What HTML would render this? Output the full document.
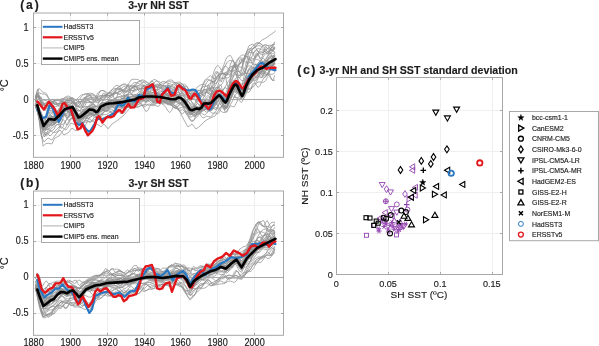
<!DOCTYPE html><html><head><meta charset="utf-8"><style>
html,body{margin:0;padding:0;background:#fff;width:599px;height:346px;overflow:hidden}
svg{display:block;filter:blur(0.3px)}
text{font-family:"Liberation Sans", sans-serif;fill:#1c1c1c;stroke:#1c1c1c;stroke-width:0.15px}
</style></head><body>
<svg width="599" height="346" viewBox="0 0 599 346">
<rect width="599" height="346" fill="#fff"/>
<line x1="70.5" y1="13.0" x2="70.5" y2="157.3" stroke="#efefef" stroke-width="1"/>
<line x1="107.5" y1="13.0" x2="107.5" y2="157.3" stroke="#efefef" stroke-width="1"/>
<line x1="144.5" y1="13.0" x2="144.5" y2="157.3" stroke="#efefef" stroke-width="1"/>
<line x1="180.5" y1="13.0" x2="180.5" y2="157.3" stroke="#efefef" stroke-width="1"/>
<line x1="217.5" y1="13.0" x2="217.5" y2="157.3" stroke="#efefef" stroke-width="1"/>
<line x1="254.5" y1="13.0" x2="254.5" y2="157.3" stroke="#efefef" stroke-width="1"/>
<line x1="33.5" y1="27.5" x2="283.5" y2="27.5" stroke="#efefef" stroke-width="1"/>
<line x1="33.5" y1="63.5" x2="283.5" y2="63.5" stroke="#efefef" stroke-width="1"/>
<line x1="33.5" y1="99.5" x2="283.5" y2="99.5" stroke="#efefef" stroke-width="1"/>
<line x1="33.5" y1="135.5" x2="283.5" y2="135.5" stroke="#efefef" stroke-width="1"/>
<polyline points="35.5,105.3 37.3,104.7 39.2,112.4 41.0,119.6 42.9,125.9 44.7,128.4 46.5,127.8 48.4,123.3 50.2,118.3 52.1,116.5 53.9,119.3 55.7,121.0 57.6,118.2 59.4,113.0 61.3,109.8 63.1,109.2 64.9,109.0 66.8,110.2 68.6,112.4 70.5,114.9 72.3,113.9 74.1,111.0 76.0,110.4 77.8,114.0 79.7,118.7 81.5,120.0 83.3,118.1 85.2,114.9 87.0,112.2 88.9,109.6 90.7,107.6 92.5,107.2 94.4,109.9 96.2,113.0 98.1,111.7 99.9,106.2 101.7,104.1 103.6,106.0 105.4,108.8 107.3,108.9 109.1,106.6 110.9,104.9 112.8,103.9 114.6,102.4 116.5,101.5 118.3,103.3 120.1,106.3 122.0,106.8 123.8,103.4 125.7,98.4 127.5,96.5 129.3,97.9 131.2,99.4 133.0,99.7 134.9,100.1 136.7,100.4 138.5,99.3 140.4,97.2 142.2,96.8 144.1,99.2 145.9,101.5 147.7,100.3 149.6,96.5 151.4,94.6 153.3,95.8 155.1,98.0 156.9,99.0 158.8,99.4 160.6,99.7 162.5,98.8 164.3,95.4 166.1,92.8 168.0,94.6 169.8,99.8 171.7,103.2 173.5,102.7 175.3,100.6 177.2,99.1 179.0,99.0 180.9,99.2 182.7,100.3 184.5,103.8 186.4,107.6 188.2,108.8 190.1,107.9 191.9,107.0 193.7,110.0 195.6,112.4 197.4,111.8 199.3,109.4 201.1,105.1 202.9,102.1 204.8,100.7 206.6,101.5 208.5,105.2 210.3,109.0 212.1,109.5 214.0,103.8 215.8,95.9 217.7,92.7 219.5,96.0 221.3,100.2 223.2,101.9 225.0,102.8 226.9,101.4 228.7,96.4 230.5,90.0 232.4,85.9 234.2,86.6 236.1,89.1 237.9,89.6 239.7,87.4 241.6,87.2 243.4,92.3 245.3,90.9 247.1,88.4 248.9,84.8 250.8,81.5 252.6,77.0 254.5,70.7 256.3,65.0 258.1,65.8 260.0,70.9 261.8,73.2 263.7,69.7 265.5,63.9 267.3,61.5 269.2,61.9 271.0,61.9 272.9,61.0 274.7,61.4" fill="none" stroke="#929292" stroke-width="0.75" stroke-linejoin="round" stroke-linecap="round" />
<polyline points="35.5,100.2 37.3,95.9 39.2,96.5 41.0,101.8 42.9,109.1 44.7,110.0 46.5,106.4 48.4,105.9 50.2,108.5 52.1,108.5 53.9,104.8 55.7,102.5 57.6,104.9 59.4,107.1 61.3,105.4 63.1,103.0 64.9,103.1 66.8,104.1 68.6,102.5 70.5,99.3 72.3,98.2 74.1,100.9 76.0,103.5 77.8,102.7 79.7,101.8 81.5,105.4 83.3,108.1 85.2,105.1 87.0,100.7 88.9,100.7 90.7,103.4 92.5,103.1 94.4,99.4 96.2,98.4 98.1,101.3 99.9,100.7 101.7,96.1 103.6,92.8 105.4,94.7 107.3,98.0 109.1,97.2 110.9,94.4 112.8,95.2 114.6,99.0 116.5,98.4 118.3,92.2 120.1,88.4 122.0,90.8 123.8,92.8 125.7,88.7 127.5,84.5 129.3,87.6 131.2,93.7 133.0,92.7 134.9,86.9 136.7,86.2 138.5,90.8 140.4,92.1 142.2,87.5 144.1,84.8 145.9,88.2 147.7,91.5 149.6,88.2 151.4,83.0 153.3,84.0 155.1,89.3 156.9,89.9 158.8,85.5 160.6,85.0 162.5,90.8 164.3,93.9 166.1,89.1 168.0,84.2 169.8,86.9 171.7,92.0 173.5,90.3 175.3,85.2 177.2,86.1 179.0,91.9 180.9,93.8 182.7,89.6 184.5,87.5 186.4,92.9 188.2,99.0 190.1,96.8 191.9,90.8 193.7,93.9 195.6,101.2 197.4,100.8 199.3,93.7 201.1,90.8 202.9,95.2 204.8,96.6 206.6,90.5 208.5,84.8 210.3,88.2 212.1,92.8 214.0,86.6 215.8,74.6 217.7,71.7 219.5,78.9 221.3,82.0 223.2,75.2 225.0,72.9 226.9,83.8 228.7,89.0 230.5,79.3 232.4,67.0 234.2,65.5 236.1,70.0 237.9,68.8 239.7,60.1 241.6,59.1 243.4,69.7 245.3,73.3 247.1,65.0 248.9,57.8 250.8,60.5 252.6,64.5 254.5,61.2 256.3,54.4 258.1,53.8 260.0,58.1 261.8,58.0 263.7,51.4 265.5,46.6 267.3,48.3 269.2,50.6 271.0,48.6 272.9,45.7 274.7,47.4" fill="none" stroke="#929292" stroke-width="0.75" stroke-linejoin="round" stroke-linecap="round" />
<polyline points="35.5,104.7 37.3,103.5 39.2,107.9 41.0,112.2 42.9,116.6 44.7,118.0 46.5,117.8 48.4,117.8 50.2,119.5 52.1,121.4 53.9,122.6 55.7,122.2 57.6,120.4 59.4,118.1 61.3,115.2 63.1,112.2 64.9,109.8 66.8,108.8 68.6,108.2 70.5,108.1 72.3,107.8 74.1,110.2 76.0,112.6 77.8,114.7 79.7,113.9 81.5,111.6 83.3,109.4 85.2,107.8 87.0,107.0 88.9,106.6 90.7,107.5 92.5,109.1 94.4,111.2 96.2,113.1 98.1,112.7 99.9,109.7 101.7,107.4 103.6,105.7 105.4,104.2 107.3,103.6 109.1,103.3 110.9,103.8 112.8,104.4 114.6,104.9 116.5,104.9 118.3,104.6 120.1,103.8 122.0,102.7 123.8,101.2 125.7,99.3 127.5,97.8 129.3,96.8 131.2,96.4 133.0,96.5 134.9,96.8 136.7,96.6 138.5,96.0 140.4,95.6 142.2,95.1 144.1,94.4 145.9,93.8 147.7,93.8 149.6,94.3 151.4,95.2 153.3,96.7 155.1,98.6 156.9,100.3 158.8,101.6 160.6,102.3 162.5,102.4 164.3,101.9 166.1,100.8 168.0,99.6 169.8,98.5 171.7,97.4 173.5,96.5 175.3,95.9 177.2,95.0 179.0,94.5 180.9,94.9 182.7,96.0 184.5,97.4 186.4,99.1 188.2,101.1 190.1,103.4 191.9,104.5 193.7,105.6 195.6,107.2 197.4,109.3 199.3,111.6 201.1,112.0 202.9,111.0 204.8,109.9 206.6,109.0 208.5,108.0 210.3,105.9 212.1,103.5 214.0,100.4 215.8,97.6 217.7,95.2 219.5,94.4 221.3,95.9 223.2,97.7 225.0,98.0 226.9,94.3 228.7,87.7 230.5,82.1 232.4,77.6 234.2,74.7 236.1,74.7 237.9,78.5 239.7,84.9 241.6,92.4 243.4,93.9 245.3,89.9 247.1,86.6 248.9,83.3 250.8,80.5 252.6,77.5 254.5,75.3 256.3,73.4 258.1,72.4 260.0,72.1 261.8,71.8 263.7,71.0 265.5,69.4 267.3,66.8 269.2,63.5 271.0,60.2 272.9,56.8 274.7,53.8" fill="none" stroke="#929292" stroke-width="0.75" stroke-linejoin="round" stroke-linecap="round" />
<polyline points="35.5,104.4 37.3,104.9 39.2,112.4 41.0,119.1 42.9,124.8 44.7,125.3 46.5,122.1 48.4,118.6 50.2,117.2 52.1,116.6 53.9,116.1 55.7,114.9 57.6,113.4 59.4,112.0 61.3,110.4 63.1,108.6 64.9,107.1 66.8,106.4 68.6,105.7 70.5,105.4 72.3,105.2 74.1,108.0 76.0,111.5 77.8,115.6 79.7,117.3 81.5,117.0 83.3,115.8 85.2,114.3 87.0,112.3 88.9,109.8 90.7,108.3 92.5,107.2 94.4,106.7 96.2,106.8 98.1,105.8 99.9,103.7 101.7,102.9 103.6,102.9 105.4,103.0 107.3,103.3 109.1,103.5 110.9,103.5 112.8,103.2 114.6,102.4 116.5,101.3 118.3,100.2 120.1,99.3 122.0,98.7 123.8,98.4 125.7,98.5 127.5,99.0 129.3,99.7 131.2,100.3 133.0,100.4 134.9,100.2 136.7,99.1 138.5,97.6 140.4,96.4 142.2,95.2 144.1,94.1 145.9,93.2 147.7,92.6 149.6,92.4 151.4,92.4 153.3,92.6 155.1,93.1 156.9,93.7 158.8,94.4 160.6,95.3 162.5,96.3 164.3,97.5 166.1,98.6 168.0,99.7 169.8,100.8 171.7,101.5 173.5,101.5 175.3,100.8 177.2,98.8 179.0,96.7 180.9,95.5 182.7,95.0 184.5,95.2 186.4,96.0 188.2,97.6 190.1,100.1 191.9,101.9 193.7,103.8 195.6,106.1 197.4,108.7 199.3,111.0 201.1,111.1 202.9,109.4 204.8,107.7 206.6,106.3 208.5,104.9 210.3,102.1 212.1,98.3 214.0,94.1 215.8,90.7 217.7,88.1 219.5,87.5 221.3,89.6 223.2,92.8 225.0,95.7 226.9,95.6 228.7,92.0 230.5,88.4 232.4,84.8 234.2,81.5 236.1,80.7 237.9,83.1 239.7,87.1 241.6,91.4 243.4,91.1 245.3,87.4 247.1,84.0 248.9,80.4 250.8,77.4 252.6,74.3 254.5,71.8 256.3,69.2 258.1,67.3 260.0,65.8 261.8,64.5 263.7,63.0 265.5,61.4 267.3,59.8 269.2,58.4 271.0,57.1 272.9,55.9 274.7,54.8" fill="none" stroke="#929292" stroke-width="0.75" stroke-linejoin="round" stroke-linecap="round" />
<polyline points="35.5,96.6 37.3,92.8 39.2,96.0 41.0,101.2 42.9,105.3 44.7,106.0 46.5,104.8 48.4,103.6 50.2,102.9 52.1,101.5 53.9,100.2 55.7,99.4 57.6,99.6 59.4,100.4 61.3,101.1 63.1,101.8 64.9,102.3 66.8,102.8 68.6,102.9 70.5,102.8 72.3,102.2 74.1,102.9 76.0,102.8 77.8,101.7 79.7,99.2 81.5,96.6 83.3,94.8 85.2,93.9 87.0,94.0 88.9,94.8 90.7,96.1 92.5,97.8 94.4,99.9 96.2,102.2 98.1,102.9 99.9,101.4 101.7,99.8 103.6,98.2 105.4,96.2 107.3,94.2 109.1,92.3 110.9,90.6 112.8,89.3 114.6,88.6 116.5,88.5 118.3,89.0 120.1,90.0 122.0,91.0 123.8,91.8 125.7,92.1 127.5,91.7 129.3,90.5 131.2,88.8 133.0,86.8 134.9,84.7 136.7,82.7 138.5,81.4 140.4,80.8 142.2,81.1 144.1,82.1 145.9,83.6 147.7,85.4 149.6,87.4 151.4,89.2 153.3,90.5 155.1,91.1 156.9,90.9 158.8,89.8 160.6,88.0 162.5,86.0 164.3,83.8 166.1,81.8 168.0,80.4 169.8,80.0 171.7,80.1 173.5,81.3 175.3,83.2 177.2,85.3 179.0,87.5 180.9,90.1 182.7,92.9 184.5,95.4 186.4,97.3 188.2,98.3 190.1,98.2 191.9,95.5 193.7,92.1 195.6,89.1 197.4,86.9 199.3,85.6 201.1,84.7 202.9,84.3 204.8,84.7 206.6,86.0 208.5,87.8 210.3,89.0 212.1,88.9 214.0,87.5 215.8,84.9 217.7,81.1 219.5,77.3 221.3,73.9 223.2,70.1 225.0,66.2 226.9,62.9 228.7,60.9 230.5,60.4 232.4,61.0 234.2,62.3 236.1,64.5 237.9,68.2 239.7,72.6 241.6,76.0 243.4,74.9 245.3,70.0 247.1,64.6 248.9,59.0 250.8,53.9 252.6,49.5 254.5,46.1 256.3,43.9 258.1,43.1 260.0,43.4 261.8,44.8 263.7,46.9 265.5,49.2 267.3,51.3 269.2,52.9 271.0,53.8 272.9,53.7 274.7,52.5" fill="none" stroke="#929292" stroke-width="0.75" stroke-linejoin="round" stroke-linecap="round" />
<polyline points="35.5,105.9 37.3,109.4 39.2,117.2 41.0,123.5 42.9,128.3 44.7,128.3 46.5,125.2 48.4,121.7 50.2,120.4 52.1,120.4 53.9,120.8 55.7,120.2 57.6,118.9 59.4,117.3 61.3,114.9 63.1,111.9 64.9,109.1 66.8,107.8 68.6,106.9 70.5,106.8 72.3,107.0 74.1,111.5 76.0,115.7 77.8,119.2 79.7,119.9 81.5,118.5 83.3,116.3 85.2,113.8 87.0,111.5 88.9,109.8 90.7,109.9 92.5,111.0 94.4,112.9 96.2,114.8 98.1,114.7 99.9,112.4 101.7,110.6 103.6,108.9 105.4,107.0 107.3,105.4 109.1,104.0 110.9,102.9 112.8,102.0 114.6,101.1 116.5,100.4 118.3,100.1 120.1,100.4 122.0,101.1 123.8,102.0 125.7,102.7 127.5,103.2 129.3,103.5 131.2,103.6 133.0,103.4 134.9,103.2 136.7,102.7 138.5,102.1 140.4,101.9 142.2,101.5 144.1,100.5 145.9,99.0 147.7,97.1 149.6,95.1 151.4,93.4 153.3,92.3 155.1,92.3 156.9,93.3 158.8,95.2 160.6,97.6 162.5,100.0 164.3,101.8 166.1,102.9 168.0,103.2 169.8,102.9 171.7,102.3 173.5,101.3 175.3,100.3 177.2,98.8 179.0,98.1 180.9,98.7 182.7,100.5 184.5,103.1 186.4,106.3 188.2,109.7 190.1,112.8 191.9,113.5 193.7,112.9 195.6,111.7 197.4,110.5 199.3,109.7 201.1,106.9 202.9,103.1 204.8,100.8 206.6,100.6 208.5,101.6 210.3,102.2 212.1,102.3 214.0,101.3 215.8,100.3 217.7,99.2 219.5,99.2 221.3,101.7 223.2,104.8 225.0,107.1 226.9,106.6 228.7,103.4 230.5,99.7 232.4,94.7 234.2,88.6 236.1,84.2 237.9,82.6 239.7,82.6 241.6,84.0 243.4,83.8 245.3,82.5 247.1,82.3 248.9,81.2 250.8,80.2 252.6,79.0 254.5,78.1 256.3,76.6 258.1,75.0 260.0,73.2 261.8,71.2 263.7,68.7 265.5,66.0 267.3,63.7 269.2,62.2 271.0,61.8 272.9,62.3 274.7,63.5" fill="none" stroke="#929292" stroke-width="0.75" stroke-linejoin="round" stroke-linecap="round" />
<polyline points="35.5,104.6 37.3,105.2 39.2,109.7 41.0,111.9 42.9,118.5 44.7,125.5 46.5,125.0 48.4,119.7 50.2,117.7 52.1,120.5 53.9,123.4 55.7,123.0 57.6,121.9 59.4,121.8 61.3,119.7 63.1,115.1 64.9,112.9 66.8,115.9 68.6,117.1 70.5,112.6 72.3,107.2 74.1,109.8 76.0,114.6 77.8,116.9 79.7,115.5 81.5,114.5 83.3,114.1 85.2,111.4 87.0,108.2 88.9,107.8 90.7,110.1 92.5,111.0 94.4,110.7 96.2,112.2 98.1,113.1 99.9,111.3 101.7,109.1 103.6,109.3 105.4,111.3 107.3,111.0 109.1,107.3 110.9,105.3 112.8,106.9 114.6,108.2 116.5,106.2 118.3,103.2 120.1,102.0 122.0,101.4 123.8,99.7 125.7,98.6 127.5,99.8 129.3,100.3 131.2,97.3 133.0,94.7 134.9,96.9 136.7,100.2 138.5,100.4 140.4,98.7 142.2,98.6 144.1,100.7 145.9,101.6 147.7,101.0 149.6,101.6 151.4,103.2 153.3,102.6 155.1,99.8 156.9,98.5 158.8,99.5 160.6,99.8 162.5,97.9 164.3,96.5 166.1,97.2 168.0,97.2 169.8,95.3 171.7,94.7 173.5,97.6 175.3,100.1 177.2,98.1 179.0,95.7 180.9,97.4 182.7,102.8 184.5,106.6 186.4,108.9 188.2,112.1 190.1,115.2 191.9,114.1 193.7,112.3 195.6,113.1 197.4,115.0 199.3,113.8 201.1,108.5 202.9,103.6 204.8,104.0 206.6,104.8 208.5,103.0 210.3,100.2 212.1,99.9 214.0,98.1 215.8,94.1 217.7,92.5 219.5,96.5 221.3,100.7 223.2,101.4 225.0,102.2 226.9,102.5 228.7,100.6 230.5,96.7 232.4,92.5 234.2,91.8 236.1,92.8 237.9,91.8 239.7,92.3 241.6,96.1 243.4,96.0 245.3,91.4 247.1,85.0 248.9,79.1 250.8,77.1 252.6,74.4 254.5,71.5 256.3,70.9 258.1,71.6 260.0,69.3 261.8,64.5 263.7,63.7 265.5,67.6 267.3,69.5 269.2,65.5 271.0,61.5 272.9,62.2 274.7,64.4" fill="none" stroke="#929292" stroke-width="0.75" stroke-linejoin="round" stroke-linecap="round" />
<polyline points="35.5,100.1 37.3,96.6 39.2,99.0 41.0,104.1 42.9,108.7 44.7,108.0 46.5,105.4 48.4,105.2 50.2,106.1 52.1,104.6 53.9,102.0 55.7,100.7 57.6,100.7 59.4,100.0 61.3,98.5 63.1,98.3 64.9,99.3 66.8,99.9 68.6,99.8 70.5,100.2 72.3,101.5 74.1,104.3 76.0,106.0 77.8,106.9 79.7,106.8 81.5,105.4 83.3,101.9 85.2,98.2 87.0,96.2 88.9,95.6 90.7,94.7 92.5,93.7 94.4,94.5 96.2,97.3 98.1,99.2 99.9,98.8 101.7,99.0 103.6,100.1 105.4,100.1 107.3,98.8 109.1,97.1 110.9,96.0 112.8,94.6 114.6,91.7 116.5,88.6 118.3,87.1 120.1,86.5 122.0,85.2 123.8,83.8 125.7,84.1 127.5,85.7 129.3,86.5 131.2,86.6 133.0,87.6 134.9,89.4 136.7,89.9 138.5,88.9 140.4,88.4 142.2,89.1 144.1,89.4 145.9,88.4 147.7,87.5 149.6,87.6 151.4,87.8 153.3,86.6 155.1,84.9 156.9,84.2 158.8,84.1 160.6,83.0 162.5,81.5 164.3,81.3 166.1,82.5 168.0,83.4 169.8,83.6 171.7,84.7 173.5,87.2 175.3,89.3 177.2,89.4 179.0,89.6 180.9,91.4 182.7,93.5 184.5,94.3 186.4,94.5 188.2,95.7 190.1,97.2 191.9,95.2 193.7,92.1 195.6,90.8 197.4,91.0 199.3,90.6 201.1,88.2 202.9,86.6 204.8,86.7 206.6,86.4 208.5,84.7 210.3,83.1 212.1,82.5 214.0,81.4 215.8,78.4 217.7,75.4 219.5,75.9 221.3,78.2 223.2,78.7 225.0,77.7 226.9,78.1 228.7,77.7 230.5,74.6 232.4,69.7 234.2,66.9 236.1,66.6 237.9,66.1 239.7,63.3 241.6,61.3 243.4,61.0 245.3,59.0 247.1,55.0 248.9,52.3 250.8,52.7 252.6,53.2 254.5,51.8 256.3,50.4 258.1,51.4 260.0,53.1 261.8,52.9 263.7,51.7 265.5,51.9 267.3,52.8 269.2,52.2 271.0,50.2 272.9,48.9 274.7,48.5" fill="none" stroke="#929292" stroke-width="0.75" stroke-linejoin="round" stroke-linecap="round" />
<polyline points="35.5,105.9 37.3,108.2 39.2,114.0 41.0,118.6 42.9,122.8 44.7,123.0 46.5,121.1 48.4,119.7 50.2,120.2 52.1,121.3 53.9,122.1 55.7,121.6 57.6,120.2 59.4,118.9 61.3,117.3 63.1,115.8 64.9,114.5 66.8,113.7 68.6,112.7 70.5,111.9 72.3,111.2 74.1,113.4 76.0,116.2 77.8,119.2 79.7,120.1 81.5,119.4 83.3,118.0 85.2,116.4 87.0,114.4 88.9,112.3 90.7,111.5 92.5,111.5 94.4,112.4 96.2,113.8 98.1,113.4 99.9,110.8 101.7,109.0 103.6,107.4 105.4,105.7 107.3,104.5 109.1,103.6 110.9,103.2 112.8,103.2 114.6,103.3 116.5,103.5 118.3,103.8 120.1,104.5 122.0,105.3 123.8,106.1 125.7,106.8 127.5,107.4 129.3,107.5 131.2,107.1 133.0,106.0 134.9,104.2 136.7,101.5 138.5,98.5 140.4,96.2 142.2,94.7 144.1,93.9 145.9,93.8 147.7,94.4 149.6,95.4 151.4,96.5 153.3,97.9 155.1,99.4 156.9,100.7 158.8,101.7 160.6,102.4 162.5,102.8 164.3,102.6 166.1,102.1 168.0,101.4 169.8,101.0 171.7,100.8 173.5,101.0 175.3,101.5 177.2,101.7 179.0,102.4 180.9,103.8 182.7,105.4 184.5,107.0 186.4,108.5 188.2,110.1 190.1,111.7 191.9,111.3 193.7,110.1 195.6,108.8 197.4,108.0 199.3,108.3 201.1,107.2 202.9,105.3 204.8,104.8 206.6,106.1 208.5,107.9 210.3,108.6 212.1,108.5 214.0,107.2 215.8,105.1 217.7,102.2 219.5,99.9 221.3,100.2 223.2,101.9 225.0,103.6 226.9,102.5 228.7,98.7 230.5,95.7 232.4,93.1 234.2,90.9 236.1,90.8 237.9,93.1 239.7,95.9 241.6,98.1 243.4,96.1 245.3,90.8 247.1,85.6 248.9,80.2 250.8,74.6 252.6,70.4 254.5,68.3 256.3,67.4 258.1,67.8 260.0,69.2 261.8,70.6 263.7,71.7 265.5,72.5 267.3,73.2 269.2,73.9 271.0,74.3 272.9,74.1 274.7,72.9" fill="none" stroke="#929292" stroke-width="0.75" stroke-linejoin="round" stroke-linecap="round" />
<polyline points="35.5,104.0 37.3,104.3 39.2,114.8 41.0,124.6 42.9,130.0 44.7,128.9 46.5,125.9 48.4,124.9 50.2,125.6 52.1,125.4 53.9,123.8 55.7,122.3 57.6,122.5 59.4,123.8 61.3,122.9 63.1,118.1 64.9,112.0 66.8,109.9 68.6,112.1 70.5,115.3 72.3,115.4 74.1,114.4 76.0,114.7 77.8,118.2 79.7,121.1 81.5,121.9 83.3,119.9 85.2,115.8 87.0,112.2 88.9,111.2 90.7,113.0 92.5,114.5 94.4,114.5 96.2,114.3 98.1,113.5 99.9,112.1 101.7,111.5 103.6,109.6 105.4,106.9 107.3,106.5 109.1,109.1 110.9,112.4 112.8,112.8 114.6,109.4 116.5,104.7 118.3,102.2 120.1,103.1 122.0,105.3 123.8,106.0 125.7,104.4 127.5,102.3 129.3,101.4 131.2,101.8 133.0,102.3 134.9,101.7 136.7,100.5 138.5,100.6 140.4,103.2 142.2,105.8 144.1,105.6 145.9,102.5 147.7,99.4 149.6,99.0 151.4,101.1 153.3,102.9 155.1,102.0 156.9,99.2 158.8,97.2 160.6,97.9 162.5,100.6 164.3,102.2 166.1,101.6 168.0,100.0 169.8,99.9 171.7,102.2 173.5,105.0 175.3,106.0 177.2,104.4 179.0,102.6 180.9,103.4 182.7,106.1 184.5,107.8 186.4,107.6 188.2,107.8 190.1,110.6 191.9,114.0 193.7,116.6 195.6,116.3 197.4,112.9 199.3,109.9 201.1,108.1 202.9,108.6 204.8,111.2 206.6,112.2 208.5,110.5 210.3,107.5 212.1,105.7 214.0,104.3 215.8,102.1 217.7,98.0 219.5,95.6 221.3,99.1 223.2,105.0 225.0,108.4 226.9,106.3 228.7,99.4 230.5,93.7 232.4,92.4 234.2,95.1 236.1,97.9 237.9,97.6 239.7,96.5 241.6,97.3 243.4,95.9 245.3,92.5 247.1,88.6 248.9,82.7 250.8,76.8 252.6,73.5 254.5,74.3 256.3,75.2 258.1,74.3 260.0,72.0 261.8,71.0 263.7,72.6 265.5,74.7 267.3,74.3 269.2,70.6 271.0,67.2 272.9,67.6 274.7,71.7" fill="none" stroke="#929292" stroke-width="0.75" stroke-linejoin="round" stroke-linecap="round" />
<polyline points="35.5,106.1 37.3,111.4 39.2,118.4 41.0,123.0 42.9,129.2 44.7,131.7 46.5,128.5 48.4,122.5 50.2,120.9 52.1,122.0 53.9,121.2 55.7,117.3 57.6,115.0 59.4,115.2 61.3,114.2 63.1,110.6 64.9,108.5 66.8,109.9 68.6,111.5 70.5,110.0 72.3,108.9 74.1,114.3 76.0,119.6 77.8,121.9 79.7,121.7 81.5,121.9 83.3,122.3 85.2,120.4 87.0,116.6 88.9,114.1 90.7,114.2 92.5,113.2 94.4,111.3 96.2,111.5 98.1,112.0 99.9,109.5 101.7,106.0 103.6,104.2 105.4,104.3 107.3,104.8 109.1,103.0 110.9,101.9 112.8,103.1 114.6,105.1 116.5,105.0 118.3,104.4 120.1,105.8 122.0,107.9 123.8,107.9 125.7,106.2 127.5,105.9 129.3,106.8 131.2,106.3 133.0,104.2 134.9,102.9 136.7,103.0 138.5,102.2 140.4,99.3 142.2,97.0 144.1,97.0 145.9,96.9 147.7,95.0 149.6,93.5 151.4,94.7 153.3,96.8 155.1,97.1 156.9,96.7 158.8,98.3 160.6,101.0 162.5,101.7 164.3,100.7 166.1,101.4 168.0,103.7 169.8,104.8 171.7,104.1 173.5,104.3 175.3,106.6 177.2,107.3 179.0,105.2 180.9,103.6 182.7,105.3 184.5,107.0 186.4,106.2 188.2,105.7 190.1,108.3 191.9,110.1 193.7,108.3 195.6,105.7 197.4,106.6 199.3,109.9 201.1,109.0 202.9,105.3 204.8,104.3 206.6,107.2 208.5,108.8 210.3,107.4 212.1,106.9 214.0,108.7 215.8,109.6 217.7,106.4 219.5,103.4 221.3,105.4 223.2,107.4 225.0,106.4 226.9,102.8 228.7,99.0 230.5,97.0 232.4,92.3 234.2,86.1 236.1,85.2 237.9,89.2 239.7,92.1 241.6,90.8 243.4,88.0 245.3,87.6 247.1,84.7 248.9,80.2 250.8,78.0 252.6,79.1 254.5,80.3 256.3,78.1 258.1,76.1 260.0,77.2 261.8,77.9 263.7,75.0 265.5,70.9 267.3,70.2 269.2,71.1 271.0,68.9 272.9,64.6 274.7,63.4" fill="none" stroke="#929292" stroke-width="0.75" stroke-linejoin="round" stroke-linecap="round" />
<polyline points="35.5,97.8 37.3,91.2 39.2,88.4 41.0,90.5 42.9,92.2 44.7,92.7 46.5,93.6 48.4,97.6 50.2,100.7 52.1,102.2 53.9,103.5 55.7,104.2 57.6,104.0 59.4,102.8 61.3,100.8 63.1,98.9 64.9,97.8 66.8,97.6 68.6,98.1 70.5,99.0 72.3,99.5 74.1,100.3 76.0,99.9 77.8,98.4 79.7,96.3 81.5,95.0 83.3,94.5 85.2,94.2 87.0,93.7 88.9,93.4 90.7,93.3 92.5,93.9 94.4,95.4 96.2,97.5 98.1,98.6 99.9,97.8 101.7,96.7 103.6,95.7 105.4,94.7 107.3,93.9 109.1,92.7 110.9,91.0 112.8,88.7 114.6,86.5 116.5,85.4 118.3,85.7 120.1,87.4 122.0,89.2 123.8,90.1 125.7,89.1 127.5,86.4 129.3,82.7 131.2,79.8 133.0,79.2 134.9,79.3 136.7,79.4 138.5,79.6 140.4,81.5 142.2,83.8 144.1,86.3 145.9,88.2 147.7,89.0 149.6,88.2 151.4,86.1 153.3,83.6 155.1,81.7 156.9,81.0 158.8,81.5 160.6,82.5 162.5,83.2 164.3,83.1 166.1,82.4 168.0,81.8 169.8,81.7 171.7,82.0 173.5,82.5 175.3,82.6 177.2,82.3 179.0,82.0 180.9,82.6 182.7,84.5 184.5,86.8 186.4,89.3 188.2,91.5 190.1,93.4 191.9,93.8 193.7,94.3 195.6,95.1 197.4,95.3 199.3,94.3 201.1,90.1 202.9,84.2 204.8,80.2 206.6,78.7 208.5,77.2 210.3,75.6 212.1,77.3 214.0,78.5 215.8,78.1 217.7,76.0 219.5,73.4 221.3,70.6 223.2,66.8 225.0,61.8 226.9,57.3 228.7,55.9 230.5,55.5 232.4,58.7 234.2,63.1 236.1,67.4 237.9,71.2 239.7,72.0 241.6,68.7 243.4,61.5 245.3,55.0 247.1,51.4 248.9,49.5 250.8,48.2 252.6,46.3 254.5,44.3 256.3,42.9 258.1,42.6 260.0,43.4 261.8,44.7 263.7,45.7 265.5,45.9 267.3,45.6 269.2,45.3 271.0,45.3 272.9,45.1 274.7,44.4" fill="none" stroke="#929292" stroke-width="0.75" stroke-linejoin="round" stroke-linecap="round" />
<polyline points="35.5,105.0 37.3,107.8 39.2,117.1 41.0,122.9 42.9,126.5 44.7,125.7 46.5,122.1 48.4,118.4 50.2,117.3 52.1,117.7 53.9,118.0 55.7,115.2 57.6,110.7 59.4,108.0 61.3,108.0 63.1,109.0 64.9,109.2 66.8,108.7 68.6,107.6 70.5,107.3 72.3,108.2 74.1,112.0 76.0,115.7 77.8,119.3 79.7,120.2 81.5,118.2 83.3,114.0 85.2,109.8 87.0,108.3 88.9,108.4 90.7,108.7 92.5,107.7 94.4,106.5 96.2,106.5 98.1,106.6 99.9,105.3 101.7,105.0 103.6,105.5 105.4,106.1 107.3,105.8 109.1,103.8 110.9,102.6 112.8,103.1 114.6,104.8 116.5,105.5 118.3,104.0 120.1,101.4 122.0,99.4 123.8,98.8 125.7,98.9 127.5,99.0 129.3,99.4 131.2,99.7 133.0,99.1 134.9,97.2 136.7,95.3 138.5,95.4 140.4,97.5 142.2,99.0 144.1,98.0 145.9,95.6 147.7,94.2 149.6,94.4 151.4,95.3 153.3,95.9 155.1,96.4 156.9,96.8 158.8,96.6 160.6,95.6 162.5,94.9 164.3,96.1 166.1,98.9 168.0,101.2 169.8,101.1 171.7,99.3 173.5,97.5 175.3,97.4 177.2,97.4 179.0,97.2 180.9,97.4 182.7,98.2 184.5,99.3 186.4,100.1 188.2,101.1 190.1,104.3 191.9,108.1 193.7,110.4 195.6,109.9 197.4,108.0 199.3,107.4 201.1,107.6 202.9,107.2 204.8,107.1 206.6,106.8 208.5,106.2 210.3,104.3 212.1,100.7 214.0,95.6 215.8,92.6 217.7,92.5 219.5,93.6 221.3,93.4 223.2,90.1 225.0,87.5 226.9,88.6 228.7,90.7 230.5,91.6 232.4,89.5 234.2,87.0 236.1,86.8 237.9,89.0 239.7,92.3 241.6,96.0 243.4,95.2 245.3,91.4 247.1,86.5 248.9,79.0 250.8,71.0 252.6,67.7 254.5,67.9 256.3,67.5 258.1,65.8 260.0,63.8 261.8,62.6 263.7,61.6 265.5,60.7 267.3,61.0 269.2,63.1 271.0,66.0 272.9,65.7 274.7,61.8" fill="none" stroke="#929292" stroke-width="0.75" stroke-linejoin="round" stroke-linecap="round" />
<polyline points="35.5,106.0 37.3,110.4 39.2,118.7 41.0,123.3 42.9,128.4 44.7,132.9 46.5,135.8 48.4,134.0 50.2,131.3 52.1,130.6 53.9,129.3 55.7,126.0 57.6,123.9 59.4,126.0 61.3,128.5 63.1,126.7 64.9,122.0 66.8,119.3 68.6,118.0 70.5,115.2 72.3,112.3 74.1,115.0 76.0,118.9 77.8,121.3 79.7,122.0 81.5,123.7 83.3,126.1 85.2,125.7 87.0,122.1 88.9,118.4 90.7,116.7 92.5,115.5 94.4,115.2 96.2,117.2 98.1,118.7 99.9,117.0 101.7,113.1 103.6,110.8 105.4,111.1 107.3,111.2 109.1,109.5 110.9,108.8 112.8,110.0 114.6,110.9 116.5,110.8 118.3,111.7 120.1,113.5 122.0,113.3 123.8,109.7 125.7,105.8 127.5,104.5 129.3,104.6 131.2,104.2 133.0,104.2 134.9,105.5 136.7,105.9 138.5,104.2 140.4,103.1 142.2,104.7 144.1,106.8 145.9,106.1 147.7,104.1 149.6,104.1 151.4,105.4 153.3,105.7 155.1,105.5 156.9,106.2 158.8,106.3 160.6,103.8 162.5,100.8 164.3,100.7 166.1,103.2 168.0,104.8 169.8,104.8 171.7,105.6 173.5,107.3 175.3,108.0 177.2,107.5 179.0,109.3 180.9,112.9 182.7,113.9 184.5,111.6 186.4,111.3 188.2,114.3 190.1,117.3 191.9,116.6 193.7,115.4 195.6,115.4 197.4,114.8 199.3,113.6 201.1,112.8 202.9,114.0 204.8,115.1 206.6,113.3 208.5,111.4 210.3,111.7 212.1,113.2 214.0,113.1 215.8,112.9 217.7,113.9 219.5,112.3 221.3,107.5 223.2,104.7 225.0,106.0 226.9,106.2 228.7,102.6 230.5,98.4 232.4,96.7 234.2,97.3 236.1,97.6 237.9,98.7 239.7,101.3 241.6,102.4 243.4,99.3 245.3,93.1 247.1,89.0 248.9,88.3 250.8,88.1 252.6,85.9 254.5,84.0 256.3,82.2 258.1,78.3 260.0,73.5 261.8,72.5 263.7,74.8 265.5,75.7 267.3,73.9 269.2,73.8 271.0,77.8 272.9,80.9 274.7,80.0" fill="none" stroke="#929292" stroke-width="0.75" stroke-linejoin="round" stroke-linecap="round" />
<polyline points="35.5,101.7 37.3,99.1 39.2,97.5 41.0,96.7 42.9,101.3 44.7,105.9 46.5,106.2 48.4,107.1 50.2,110.8 52.1,112.9 53.9,111.8 55.7,110.8 57.6,111.8 59.4,110.4 61.3,104.9 63.1,100.5 64.9,100.0 66.8,100.9 68.6,100.6 70.5,100.3 72.3,101.4 74.1,103.8 76.0,104.4 77.8,105.0 79.7,107.7 81.5,108.6 83.3,104.5 85.2,100.0 87.0,99.8 88.9,101.6 90.7,102.3 92.5,102.5 94.4,104.5 96.2,106.6 98.1,104.1 99.9,100.3 101.7,100.1 103.6,100.5 105.4,97.7 107.3,93.8 109.1,92.4 110.9,93.2 112.8,93.2 114.6,92.3 116.5,93.1 118.3,94.5 120.1,93.7 122.0,92.3 123.8,94.3 125.7,97.5 127.5,96.8 129.3,92.5 131.2,90.3 133.0,90.9 134.9,90.2 136.7,87.9 138.5,87.4 140.4,88.3 142.2,87.4 144.1,85.8 145.9,87.2 147.7,90.7 149.6,91.4 151.4,88.7 153.3,86.8 155.1,87.3 156.9,87.3 158.8,86.1 160.6,86.7 162.5,89.2 164.3,89.9 166.1,89.1 168.0,90.9 169.8,95.3 171.7,96.9 173.5,93.4 175.3,89.6 177.2,88.2 179.0,87.0 180.9,85.7 182.7,86.7 184.5,90.3 186.4,93.2 188.2,94.0 190.1,97.1 191.9,102.7 193.7,105.4 195.6,102.0 197.4,97.6 199.3,96.6 201.1,95.0 202.9,91.0 204.8,89.1 206.6,91.0 208.5,92.2 210.3,88.9 212.1,86.4 214.0,89.2 215.8,91.5 217.7,86.7 219.5,80.1 221.3,78.5 223.2,78.9 225.0,75.8 226.9,73.0 228.7,74.6 230.5,74.8 232.4,69.0 234.2,64.6 236.1,68.3 237.9,75.9 239.7,78.0 241.6,74.9 243.4,72.9 245.3,71.2 247.1,66.5 248.9,62.2 250.8,62.6 252.6,62.6 254.5,57.8 256.3,52.8 258.1,54.3 260.0,59.0 261.8,59.3 263.7,55.9 265.5,54.0 267.3,53.6 269.2,50.9 271.0,47.7 272.9,47.4 274.7,48.0" fill="none" stroke="#929292" stroke-width="0.75" stroke-linejoin="round" stroke-linecap="round" />
<polyline points="35.5,104.9 37.3,105.1 39.2,111.5 41.0,117.8 42.9,123.3 44.7,122.5 46.5,117.0 48.4,112.0 50.2,110.3 52.1,110.9 53.9,113.4 55.7,114.9 57.6,114.2 59.4,112.2 61.3,109.9 63.1,108.1 64.9,106.7 66.8,105.8 68.6,104.5 70.5,103.6 72.3,103.6 74.1,107.5 76.0,113.1 77.8,118.1 79.7,118.8 81.5,116.6 83.3,112.9 85.2,109.9 87.0,107.5 88.9,105.5 90.7,104.7 92.5,105.2 94.4,107.4 96.2,110.9 98.1,111.6 99.9,107.8 101.7,103.5 103.6,99.5 105.4,96.9 107.3,96.6 109.1,97.9 110.9,99.8 112.8,101.5 114.6,102.7 116.5,103.3 118.3,103.3 120.1,102.5 122.0,100.2 123.8,97.3 125.7,95.5 127.5,95.9 129.3,98.2 131.2,100.3 133.0,100.4 134.9,98.9 136.7,96.2 138.5,94.2 140.4,93.7 142.2,93.5 144.1,92.9 145.9,91.8 147.7,91.2 149.6,91.4 151.4,92.1 153.3,92.7 155.1,92.7 156.9,92.6 158.8,93.2 160.6,95.1 162.5,97.4 164.3,98.5 166.1,97.9 168.0,96.2 169.8,94.8 171.7,94.8 173.5,95.8 175.3,96.9 177.2,96.7 179.0,96.4 180.9,97.3 182.7,99.3 184.5,101.4 186.4,102.4 188.2,101.7 190.1,100.2 191.9,98.3 193.7,98.5 195.6,100.5 197.4,103.0 199.3,105.5 201.1,105.8 202.9,104.6 204.8,103.9 206.6,103.4 208.5,101.0 210.3,95.9 212.1,90.8 214.0,88.7 215.8,90.7 217.7,95.0 219.5,98.9 221.3,101.7 223.2,102.8 225.0,102.7 226.9,96.8 228.7,86.7 230.5,77.9 232.4,71.6 234.2,69.6 236.1,73.0 237.9,81.4 239.7,90.7 241.6,95.2 243.4,89.5 245.3,79.4 247.1,72.9 248.9,70.0 250.8,69.1 252.6,68.2 254.5,67.6 256.3,67.2 258.1,68.0 260.0,68.9 261.8,68.5 263.7,66.1 265.5,62.9 267.3,60.7 269.2,60.2 271.0,60.2 272.9,59.1 274.7,56.1" fill="none" stroke="#929292" stroke-width="0.75" stroke-linejoin="round" stroke-linecap="round" />
<polyline points="35.5,105.0 37.3,106.3 39.2,113.7 41.0,119.0 42.9,122.1 44.7,120.2 46.5,117.2 48.4,116.2 50.2,117.8 52.1,119.9 53.9,120.7 55.7,118.6 57.6,114.6 59.4,110.9 61.3,108.5 63.1,107.7 64.9,108.0 66.8,110.2 68.6,112.3 70.5,111.7 72.3,108.4 74.1,107.9 76.0,107.9 77.8,108.9 79.7,110.6 81.5,112.9 83.3,114.7 85.2,114.5 87.0,112.4 88.9,108.7 90.7,105.7 92.5,104.1 94.4,104.9 96.2,108.2 98.1,111.1 99.9,111.0 101.7,110.9 103.6,109.3 105.4,106.0 107.3,102.9 109.1,100.8 110.9,100.0 112.8,100.4 114.6,101.3 116.5,101.9 118.3,101.7 120.1,100.6 122.0,99.0 123.8,97.4 125.7,96.3 127.5,96.1 129.3,96.7 131.2,97.7 133.0,98.6 134.9,99.3 136.7,99.1 138.5,98.8 140.4,98.8 142.2,98.4 144.1,97.3 145.9,95.7 147.7,94.3 149.6,93.3 151.4,93.1 153.3,94.0 155.1,95.5 156.9,96.8 158.8,97.2 160.6,96.4 162.5,94.9 164.3,93.3 166.1,92.9 168.0,94.3 169.8,97.1 171.7,100.1 173.5,101.9 175.3,101.7 177.2,98.8 179.0,95.3 180.9,93.3 182.7,93.7 184.5,96.6 186.4,101.5 188.2,107.2 190.1,111.4 191.9,111.5 193.7,109.1 195.6,105.5 197.4,103.6 199.3,104.5 201.1,105.9 202.9,106.3 204.8,106.7 206.6,106.4 208.5,104.6 210.3,100.1 212.1,95.0 214.0,91.1 215.8,90.0 217.7,91.0 219.5,93.2 221.3,96.1 223.2,97.0 225.0,94.8 226.9,90.0 228.7,85.7 230.5,85.2 232.4,86.8 234.2,88.0 236.1,89.7 237.9,91.6 239.7,93.1 241.6,93.8 243.4,87.4 245.3,81.0 247.1,78.3 248.9,77.3 250.8,76.5 252.6,74.1 254.5,70.8 256.3,66.5 258.1,63.0 260.0,61.1 261.8,60.9 263.7,61.8 265.5,63.0 267.3,63.8 269.2,63.9 271.0,63.2 272.9,61.6 274.7,59.4" fill="none" stroke="#929292" stroke-width="0.75" stroke-linejoin="round" stroke-linecap="round" />
<polyline points="35.5,107.0 37.3,111.2 39.2,115.3 41.0,123.4 42.9,133.9 44.7,136.9 46.5,133.8 48.4,129.7 50.2,130.0 52.1,132.0 53.9,132.7 55.7,132.3 57.6,131.4 59.4,128.4 61.3,122.9 63.1,119.4 64.9,121.5 66.8,125.1 68.6,123.8 70.5,119.3 72.3,117.4 74.1,121.0 76.0,123.9 77.8,124.5 79.7,123.8 81.5,123.0 83.3,122.0 85.2,120.7 87.0,120.4 88.9,121.9 90.7,122.5 92.5,120.0 94.4,117.2 96.2,117.8 98.1,119.7 99.9,119.5 101.7,116.2 103.6,112.5 105.4,110.7 107.3,110.6 109.1,111.0 110.9,112.6 112.8,114.6 114.6,114.4 116.5,111.4 118.3,108.9 120.1,109.9 122.0,112.8 123.8,113.2 125.7,110.3 127.5,107.1 129.3,105.7 131.2,105.3 133.0,104.9 134.9,105.2 136.7,106.2 138.5,106.5 140.4,105.5 142.2,105.6 144.1,108.4 145.9,111.5 147.7,110.7 149.6,106.7 151.4,103.9 153.3,104.0 155.1,104.5 156.9,103.4 158.8,102.4 160.6,103.0 162.5,104.4 164.3,105.5 166.1,107.7 168.0,111.0 169.8,112.6 171.7,110.3 173.5,106.2 175.3,105.0 177.2,107.5 179.0,110.2 180.9,110.2 182.7,109.7 184.5,111.3 186.4,114.2 188.2,116.9 190.1,120.1 191.9,121.6 193.7,120.6 195.6,116.2 197.4,112.1 199.3,113.0 201.1,116.2 202.9,118.1 204.8,117.2 206.6,116.1 208.5,116.7 210.3,117.0 212.1,115.7 214.0,113.3 215.8,111.3 217.7,107.7 219.5,102.3 221.3,101.4 223.2,106.5 225.0,111.8 226.9,112.1 228.7,108.4 230.5,105.8 232.4,106.5 234.2,106.9 236.1,103.5 237.9,99.5 239.7,98.3 241.6,98.6 243.4,96.1 245.3,92.3 247.1,91.9 248.9,92.4 250.8,89.7 252.6,84.2 254.5,82.2 256.3,85.0 258.1,87.5 260.0,85.6 261.8,81.5 263.7,78.4 265.5,76.3 267.3,74.7 269.2,75.5 271.0,79.0 272.9,80.4 274.7,75.7" fill="none" stroke="#929292" stroke-width="0.75" stroke-linejoin="round" stroke-linecap="round" />
<polyline points="35.5,101.9 37.3,101.7 39.2,108.9 41.0,115.8 42.9,120.6 44.7,119.5 46.5,115.5 48.4,112.8 50.2,112.7 52.1,113.7 53.9,115.2 55.7,115.4 57.6,114.2 59.4,112.2 61.3,109.7 63.1,107.5 64.9,106.0 66.8,105.8 68.6,105.8 70.5,105.9 72.3,105.6 74.1,107.7 76.0,109.3 77.8,110.7 79.7,110.6 81.5,110.0 83.3,109.5 85.2,109.0 87.0,107.9 88.9,106.3 90.7,105.2 92.5,104.6 94.4,104.9 96.2,106.4 98.1,107.3 99.9,106.3 101.7,105.7 103.6,104.9 105.4,103.4 107.3,101.8 109.1,100.4 110.9,99.7 112.8,99.8 114.6,100.5 116.5,101.1 118.3,101.1 120.1,99.9 122.0,97.6 123.8,94.7 125.7,92.3 127.5,91.3 129.3,92.1 131.2,94.1 133.0,96.2 134.9,97.2 136.7,96.3 138.5,94.4 140.4,92.8 142.2,92.0 144.1,92.4 145.9,94.0 147.7,96.2 149.6,98.2 151.4,98.8 153.3,97.8 155.1,95.7 156.9,93.1 158.8,91.2 160.6,90.6 162.5,91.4 164.3,92.8 166.1,94.0 168.0,94.3 169.8,93.4 171.7,91.7 173.5,90.0 175.3,89.4 177.2,90.2 179.0,92.3 180.9,95.8 182.7,99.8 184.5,103.5 186.4,105.8 188.2,107.3 190.1,108.2 191.9,107.4 193.7,106.6 195.6,106.6 197.4,106.9 199.3,107.1 201.1,104.1 202.9,99.0 204.8,94.5 206.6,91.5 208.5,90.2 210.3,90.1 212.1,90.7 214.0,91.5 215.8,91.9 217.7,91.2 219.5,90.8 221.3,92.1 223.2,94.7 225.0,97.8 226.9,98.7 228.7,95.8 230.5,92.2 232.4,87.1 234.2,81.4 236.1,77.8 237.9,77.1 239.7,78.3 241.6,80.7 243.4,80.5 245.3,77.5 247.1,74.0 248.9,70.1 250.8,66.8 252.6,64.5 254.5,64.0 256.3,64.7 258.1,66.4 260.0,67.8 261.8,68.0 263.7,66.2 265.5,62.9 267.3,59.5 269.2,57.1 271.0,56.1 272.9,56.1 274.7,56.4" fill="none" stroke="#929292" stroke-width="0.75" stroke-linejoin="round" stroke-linecap="round" />
<polyline points="35.5,105.8 37.3,109.7 39.2,115.6 41.0,117.7 42.9,123.9 44.7,128.0 46.5,124.9 48.4,117.9 50.2,116.8 52.1,119.2 53.9,118.1 55.7,113.4 57.6,113.3 59.4,116.9 61.3,117.7 63.1,114.6 64.9,114.7 66.8,118.4 68.6,116.5 70.5,109.6 72.3,106.6 74.1,110.9 76.0,113.8 77.8,114.2 79.7,115.2 81.5,118.1 83.3,118.1 85.2,114.6 87.0,112.1 88.9,112.8 90.7,112.8 92.5,110.3 94.4,110.4 96.2,114.2 98.1,114.9 99.9,110.2 101.7,106.5 103.6,106.9 105.4,105.8 107.3,101.9 109.1,99.5 110.9,101.5 112.8,103.9 114.6,103.2 116.5,103.1 118.3,106.0 120.1,107.8 122.0,105.5 123.8,102.7 125.7,103.0 127.5,103.5 129.3,101.4 131.2,99.3 133.0,101.3 134.9,103.3 136.7,101.3 138.5,98.0 140.4,98.4 142.2,99.4 144.1,96.9 145.9,94.2 147.7,95.8 149.6,99.1 151.4,98.7 153.3,96.8 155.1,98.0 156.9,99.9 158.8,97.9 160.6,94.5 162.5,95.2 164.3,98.4 166.1,99.0 168.0,98.4 169.8,101.0 171.7,105.1 173.5,105.0 175.3,101.5 177.2,99.9 179.0,101.1 180.9,100.0 182.7,98.0 184.5,100.5 186.4,106.9 188.2,110.3 190.1,110.4 191.9,110.6 193.7,112.2 195.6,110.9 197.4,107.0 199.3,107.0 201.1,109.6 202.9,108.6 204.8,104.9 206.6,104.5 208.5,107.5 210.3,106.5 212.1,100.0 214.0,94.5 215.8,95.9 217.7,96.1 219.5,93.0 221.3,96.3 223.2,104.7 225.0,108.6 226.9,105.4 228.7,99.9 230.5,98.3 232.4,95.3 234.2,87.1 236.1,82.8 237.9,88.7 239.7,93.9 241.6,95.4 243.4,89.5 245.3,88.1 247.1,84.8 248.9,76.5 250.8,70.2 252.6,72.3 254.5,75.4 256.3,73.6 258.1,72.1 260.0,75.4 261.8,77.7 263.7,73.0 265.5,66.0 267.3,64.2 269.2,64.2 271.0,60.2 272.9,56.6 274.7,58.7" fill="none" stroke="#929292" stroke-width="0.75" stroke-linejoin="round" stroke-linecap="round" />
<polyline points="35.5,105.8 37.3,108.9 39.2,116.5 41.0,122.4 42.9,127.0 44.7,127.1 46.5,124.8 48.4,122.6 50.2,122.2 52.1,122.4 53.9,122.0 55.7,120.3 57.6,118.1 59.4,116.3 61.3,114.7 63.1,113.3 64.9,112.0 66.8,110.8 68.6,109.2 70.5,108.3 72.3,108.4 74.1,112.7 76.0,117.5 77.8,121.5 79.7,122.6 81.5,121.4 83.3,119.0 85.2,116.3 87.0,114.1 88.9,112.9 90.7,113.5 92.5,114.5 94.4,114.9 96.2,114.4 98.1,111.5 99.9,106.0 101.7,103.2 103.6,102.7 105.4,103.6 107.3,105.8 109.1,107.4 110.9,107.6 112.8,106.5 114.6,104.8 116.5,103.8 118.3,104.2 120.1,105.7 122.0,107.4 123.8,108.2 125.7,107.5 127.5,105.5 129.3,102.9 131.2,100.8 133.0,99.7 134.9,100.0 136.7,100.5 138.5,100.7 140.4,100.5 142.2,99.2 144.1,97.5 145.9,96.3 147.7,96.5 149.6,97.7 151.4,99.4 153.3,100.5 155.1,100.7 156.9,99.9 158.8,98.9 160.6,98.4 162.5,98.9 164.3,100.1 166.1,101.3 168.0,102.0 169.8,101.8 171.7,101.3 173.5,100.7 175.3,100.9 177.2,101.6 179.0,103.2 180.9,105.2 182.7,106.4 184.5,106.4 186.4,106.4 188.2,107.6 190.1,110.2 191.9,111.8 193.7,112.8 195.6,112.9 197.4,111.8 199.3,110.0 201.1,105.8 202.9,101.6 204.8,100.9 206.6,104.1 208.5,108.2 210.3,110.4 212.1,110.3 214.0,107.2 215.8,102.5 217.7,98.4 219.5,97.9 221.3,102.1 223.2,106.9 225.0,109.3 226.9,107.4 228.7,100.8 230.5,92.8 232.4,84.1 234.2,79.9 236.1,81.9 237.9,88.8 239.7,94.6 241.6,97.8 243.4,95.5 245.3,89.4 247.1,83.9 248.9,80.3 250.8,79.5 252.6,80.2 254.5,81.1 256.3,80.1 258.1,77.1 260.0,73.2 261.8,69.9 263.7,68.1 265.5,67.8 267.3,68.4 269.2,68.5 271.0,67.0 272.9,63.9 274.7,60.5" fill="none" stroke="#929292" stroke-width="0.75" stroke-linejoin="round" stroke-linecap="round" />
<polyline points="35.5,100.8 37.3,96.1 39.2,96.4 41.0,98.2 42.9,100.0 44.7,100.4 46.5,100.7 48.4,101.5 50.2,102.6 52.1,102.9 53.9,103.7 55.7,104.6 57.6,105.4 59.4,105.6 61.3,104.9 63.1,103.4 64.9,101.9 66.8,100.8 68.6,100.1 70.5,100.2 72.3,100.9 74.1,103.9 76.0,107.6 77.8,111.0 79.7,111.1 81.5,108.6 83.3,105.2 85.2,101.9 87.0,99.5 88.9,98.1 90.7,97.6 92.5,97.5 94.4,97.7 96.2,98.0 98.1,97.4 99.9,96.3 101.7,95.8 103.6,95.7 105.4,95.7 107.3,95.8 109.1,95.6 110.9,95.0 112.8,94.2 114.6,93.4 116.5,93.1 118.3,93.5 120.1,94.6 122.0,95.8 123.8,96.4 125.7,95.9 127.5,94.2 129.3,91.5 131.2,88.8 133.0,86.9 134.9,85.9 136.7,85.6 138.5,85.8 140.4,86.1 142.2,86.2 144.1,85.8 145.9,85.1 147.7,84.4 149.6,84.1 151.4,84.3 153.3,84.9 155.1,85.8 156.9,86.6 158.8,87.4 160.6,88.1 162.5,89.2 164.3,90.6 166.1,92.3 168.0,94.0 169.8,95.2 171.7,95.1 173.5,93.4 175.3,90.5 177.2,87.1 179.0,84.4 180.9,83.4 182.7,84.4 184.5,86.7 186.4,89.9 188.2,93.3 190.1,96.3 191.9,96.8 193.7,96.0 195.6,95.0 197.4,94.3 199.3,94.2 201.1,93.3 202.9,91.6 204.8,90.1 206.6,89.1 208.5,88.6 210.3,88.1 212.1,87.7 214.0,87.6 215.8,87.9 217.7,87.3 219.5,86.2 221.3,84.9 223.2,81.8 225.0,77.2 226.9,72.1 228.7,68.1 230.5,66.6 232.4,66.2 234.2,66.0 236.1,65.8 237.9,65.6 239.7,64.5 241.6,62.2 243.4,59.0 245.3,56.8 247.1,56.4 248.9,56.9 250.8,57.9 252.6,58.5 254.5,59.0 256.3,59.2 258.1,59.8 260.0,60.7 261.8,61.4 263.7,61.1 265.5,59.4 267.3,56.4 269.2,52.4 271.0,48.2 272.9,44.5 274.7,41.9" fill="none" stroke="#929292" stroke-width="0.75" stroke-linejoin="round" stroke-linecap="round" />
<polyline points="35.5,103.2 37.3,103.3 39.2,113.5 41.0,124.0 42.9,129.7 44.7,127.2 46.5,121.8 48.4,119.6 50.2,120.8 52.1,121.1 53.9,119.6 55.7,117.4 57.6,116.8 59.4,116.4 61.3,112.9 63.1,108.4 64.9,105.7 66.8,106.2 68.6,107.6 70.5,108.9 72.3,106.9 74.1,108.5 76.0,111.5 77.8,115.4 79.7,115.3 81.5,112.3 83.3,111.1 85.2,113.1 87.0,115.5 88.9,115.7 90.7,113.3 92.5,110.8 94.4,110.5 96.2,111.5 98.1,109.5 99.9,104.8 101.7,102.8 103.6,103.9 105.4,106.0 107.3,106.3 109.1,103.5 110.9,101.2 112.8,100.9 114.6,102.0 116.5,102.3 118.3,101.2 120.1,100.5 122.0,101.9 123.8,103.3 125.7,102.7 127.5,100.1 129.3,97.4 131.2,98.2 133.0,100.8 134.9,101.8 136.7,100.2 138.5,97.8 140.4,97.1 142.2,97.1 144.1,95.7 145.9,93.1 147.7,91.8 149.6,93.6 151.4,97.5 153.3,99.9 155.1,99.4 156.9,97.6 158.8,96.9 160.6,97.3 162.5,96.8 164.3,94.9 166.1,94.1 168.0,96.4 169.8,100.3 171.7,102.2 173.5,100.7 175.3,97.8 177.2,96.2 179.0,96.6 180.9,97.6 182.7,97.9 184.5,99.0 186.4,102.7 188.2,108.1 190.1,111.3 191.9,109.5 193.7,105.9 195.6,105.8 197.4,109.1 199.3,111.7 201.1,110.3 202.9,106.7 204.8,104.9 206.6,105.3 208.5,104.3 210.3,99.0 212.1,93.3 214.0,92.2 215.8,95.9 217.7,98.6 219.5,97.8 221.3,97.1 223.2,98.2 225.0,100.9 226.9,98.2 228.7,88.9 230.5,82.4 232.4,82.4 234.2,86.4 236.1,89.9 237.9,91.4 239.7,92.7 241.6,95.5 243.4,94.4 245.3,89.8 247.1,84.4 248.9,77.8 250.8,75.6 252.6,75.7 254.5,74.5 256.3,69.3 258.1,63.3 260.0,61.3 261.8,63.5 263.7,65.7 265.5,64.8 267.3,62.6 269.2,62.0 271.0,63.2 272.9,62.4 274.7,58.0" fill="none" stroke="#929292" stroke-width="0.75" stroke-linejoin="round" stroke-linecap="round" />
<polyline points="35.5,104.9 37.3,104.5 39.2,110.9 41.0,117.3 42.9,123.3 44.7,124.5 46.5,122.4 48.4,120.6 50.2,121.2 52.1,122.5 53.9,123.5 55.7,122.9 57.6,121.2 59.4,119.2 61.3,117.4 63.1,116.2 64.9,115.7 66.8,115.5 68.6,114.4 70.5,112.9 72.3,111.3 74.1,113.0 76.0,115.7 77.8,118.6 79.7,119.0 81.5,117.3 83.3,114.9 85.2,112.5 87.0,110.9 88.9,110.1 90.7,110.8 92.5,111.7 94.4,112.4 96.2,113.2 98.1,112.5 99.9,110.3 101.7,109.9 103.6,110.0 105.4,109.1 107.3,107.6 109.1,105.9 110.9,105.2 112.8,105.4 114.6,106.0 116.5,106.2 118.3,105.6 120.1,104.5 122.0,103.4 123.8,102.9 125.7,103.0 127.5,103.3 129.3,103.1 131.2,102.1 133.0,100.5 134.9,99.2 136.7,98.5 138.5,98.7 140.4,99.8 142.2,100.2 144.1,99.5 145.9,98.5 147.7,98.3 149.6,99.2 151.4,100.6 153.3,101.6 155.1,101.2 156.9,99.6 158.8,98.0 160.6,97.4 162.5,98.2 164.3,99.6 166.1,100.5 168.0,100.4 169.8,99.7 171.7,99.2 173.5,99.8 175.3,101.5 177.2,102.9 179.0,103.5 180.9,103.1 182.7,102.6 184.5,103.5 186.4,106.5 188.2,110.7 190.1,114.3 191.9,114.3 193.7,112.3 195.6,109.8 197.4,108.8 199.3,110.0 201.1,110.1 202.9,108.5 204.8,105.9 206.6,103.3 208.5,101.4 210.3,100.6 212.1,102.0 214.0,102.9 215.8,103.1 217.7,101.3 219.5,99.3 221.3,100.6 223.2,104.3 225.0,107.9 226.9,108.4 228.7,105.2 230.5,99.9 232.4,93.3 234.2,87.8 236.1,86.8 237.9,89.9 239.7,93.3 241.6,95.5 243.4,89.0 245.3,80.0 247.1,76.3 248.9,76.5 250.8,77.8 252.6,77.1 254.5,75.4 256.3,72.6 258.1,71.2 260.0,72.3 261.8,75.1 263.7,77.3 265.5,77.1 267.3,74.2 269.2,70.3 271.0,67.8 272.9,67.7 274.7,68.7" fill="none" stroke="#929292" stroke-width="0.75" stroke-linejoin="round" stroke-linecap="round" />
<polyline points="35.5,97.4 37.3,94.4 39.2,97.9 41.0,102.1 42.9,104.6 44.7,104.0 46.5,102.8 48.4,102.8 50.2,103.9 52.1,104.9 53.9,106.1 55.7,106.6 57.6,106.1 59.4,104.6 61.3,102.0 63.1,99.4 64.9,97.4 66.8,96.2 68.6,96.1 70.5,97.1 72.3,98.7 74.1,101.7 76.0,104.6 77.8,106.1 79.7,104.2 81.5,100.8 83.3,98.1 85.2,97.3 87.0,98.3 88.9,100.1 90.7,102.0 92.5,103.0 94.4,102.3 96.2,99.6 98.1,95.2 99.9,91.6 101.7,90.5 103.6,90.8 105.4,92.6 107.3,94.9 109.1,96.3 110.9,96.4 112.8,94.8 114.6,92.2 116.5,89.7 118.3,88.4 120.1,88.6 122.0,89.8 123.8,91.2 125.7,91.6 127.5,90.6 129.3,88.1 131.2,85.4 133.0,83.4 134.9,82.4 136.7,82.6 138.5,83.5 140.4,84.6 142.2,85.5 144.1,86.0 145.9,86.1 147.7,86.2 149.6,86.3 151.4,86.3 153.3,86.2 155.1,85.8 156.9,85.2 158.8,84.6 160.6,84.5 162.5,85.1 164.3,86.0 166.1,86.9 168.0,87.3 169.8,86.7 171.7,85.3 173.5,83.7 175.3,82.8 177.2,83.2 179.0,84.7 180.9,87.5 182.7,90.6 184.5,92.9 186.4,93.7 188.2,93.2 190.1,91.9 191.9,90.0 193.7,90.0 195.6,91.7 197.4,94.3 199.3,96.4 201.1,95.3 202.9,91.3 204.8,86.6 206.6,82.6 208.5,80.3 210.3,80.1 212.1,81.3 214.0,83.0 215.8,83.4 217.7,81.1 219.5,77.0 221.3,72.3 223.2,67.9 225.0,65.8 226.9,67.0 228.7,69.3 230.5,71.0 232.4,70.4 234.2,67.3 236.1,63.6 237.9,60.1 239.7,57.7 241.6,57.9 243.4,60.0 245.3,62.1 247.1,63.1 248.9,62.0 250.8,59.1 252.6,55.2 254.5,51.7 256.3,49.4 258.1,48.6 260.0,49.0 261.8,49.9 263.7,50.3 265.5,49.9 267.3,48.7 269.2,47.2 271.0,45.8 272.9,44.7 274.7,43.9" fill="none" stroke="#929292" stroke-width="0.75" stroke-linejoin="round" stroke-linecap="round" />
<polyline points="35.5,105.9 37.3,109.8 39.2,117.1 41.0,122.3 42.9,127.5 44.7,129.4 46.5,128.9 48.4,126.2 50.2,123.1 52.1,120.5 53.9,119.2 55.7,118.7 57.6,118.8 59.4,118.6 61.3,116.5 63.1,112.9 64.9,109.9 66.8,109.7 68.6,111.1 70.5,112.4 72.3,111.6 74.1,111.7 76.0,112.7 77.8,115.3 79.7,117.3 81.5,117.9 83.3,117.4 85.2,115.9 87.0,113.9 88.9,112.6 90.7,113.6 92.5,115.6 94.4,117.0 96.2,116.9 98.1,114.3 99.9,109.3 101.7,106.3 103.6,105.3 105.4,104.3 107.3,103.1 109.1,101.3 110.9,100.0 112.8,100.2 114.6,102.2 116.5,104.9 118.3,106.7 120.1,107.1 122.0,106.7 123.8,106.4 125.7,106.8 127.5,107.3 129.3,106.9 131.2,105.0 133.0,101.9 134.9,98.9 136.7,96.5 138.5,95.8 140.4,96.1 142.2,95.8 144.1,94.8 145.9,94.2 147.7,95.2 149.6,97.7 151.4,100.6 153.3,102.3 155.1,102.2 156.9,101.1 158.8,100.3 160.6,100.6 162.5,101.7 164.3,102.1 166.1,101.1 168.0,99.5 169.8,98.4 171.7,98.8 173.5,100.3 175.3,101.9 177.2,101.7 179.0,100.3 180.9,99.4 182.7,100.6 184.5,103.9 186.4,107.7 188.2,110.3 190.1,111.4 191.9,109.8 193.7,107.9 195.6,108.3 197.4,110.0 199.3,112.0 201.1,111.1 202.9,108.3 204.8,106.4 206.6,107.3 208.5,109.6 210.3,110.6 212.1,109.5 214.0,105.5 215.8,100.6 217.7,96.6 219.5,95.9 221.3,98.4 223.2,100.6 225.0,100.0 226.9,95.2 228.7,90.5 230.5,90.3 232.4,90.9 234.2,91.1 236.1,91.2 237.9,92.1 239.7,94.4 241.6,97.4 243.4,96.6 245.3,93.1 247.1,89.0 248.9,83.7 250.8,78.6 252.6,74.8 254.5,73.9 256.3,73.6 258.1,72.9 260.0,70.6 261.8,67.6 263.7,65.4 265.5,65.1 267.3,66.0 269.2,66.3 271.0,64.7 272.9,61.6 274.7,59.4" fill="none" stroke="#929292" stroke-width="0.75" stroke-linejoin="round" stroke-linecap="round" />
<polyline points="35.5,104.2 37.3,101.6 39.2,109.5 41.0,119.0 42.9,124.5 44.7,126.5 46.5,129.1 48.4,128.8 50.2,125.1 52.1,123.8 53.9,125.0 55.7,122.8 57.6,117.4 59.4,115.1 61.3,115.7 63.1,113.3 64.9,109.2 66.8,110.2 68.6,112.9 70.5,111.1 72.3,108.1 74.1,112.5 76.0,117.0 77.8,118.2 79.7,117.8 81.5,118.4 83.3,118.0 85.2,114.7 87.0,112.1 88.9,112.3 90.7,112.1 92.5,110.1 94.4,110.9 96.2,114.2 98.1,114.0 99.9,109.9 101.7,109.2 103.6,110.8 105.4,109.0 107.3,105.9 109.1,105.7 110.9,106.5 112.8,104.3 114.6,101.9 116.5,102.8 118.3,103.9 120.1,102.5 122.0,101.6 123.8,103.5 125.7,104.4 127.5,102.9 129.3,102.5 131.2,104.2 133.0,104.4 134.9,102.2 136.7,101.2 138.5,102.0 140.4,100.8 142.2,97.6 144.1,97.1 145.9,98.3 147.7,96.9 149.6,94.9 151.4,96.1 153.3,98.2 155.1,97.5 156.9,96.8 158.8,99.2 160.6,101.4 162.5,100.7 164.3,100.6 166.1,103.1 168.0,104.3 169.8,102.5 171.7,101.7 173.5,102.9 175.3,101.7 177.2,97.1 179.0,95.8 180.9,97.9 182.7,99.1 184.5,99.8 186.4,104.7 188.2,111.4 190.1,114.2 191.9,113.6 193.7,114.5 195.6,115.0 197.4,112.0 199.3,109.7 201.1,108.8 202.9,106.7 204.8,102.6 206.6,102.0 208.5,106.1 210.3,107.5 212.1,105.2 214.0,103.7 215.8,105.1 217.7,102.6 219.5,97.0 221.3,98.0 223.2,102.4 225.0,103.3 226.9,99.7 228.7,97.5 230.5,97.1 232.4,92.6 234.2,87.0 236.1,88.0 237.9,91.4 239.7,92.6 241.6,94.8 243.4,94.9 245.3,91.5 247.1,86.8 248.9,83.4 250.8,83.6 252.6,81.3 254.5,75.5 256.3,71.6 258.1,71.3 260.0,68.5 261.8,63.7 263.7,64.0 265.5,67.1 267.3,66.8 269.2,65.0 271.0,67.8 272.9,70.9 274.7,67.8" fill="none" stroke="#929292" stroke-width="0.75" stroke-linejoin="round" stroke-linecap="round" />
<polyline points="35.5,98.7 37.3,93.2 39.2,92.8 41.0,93.7 42.9,94.1 44.7,94.1 46.5,95.4 48.4,98.0 50.2,100.6 52.1,102.2 53.9,103.6 55.7,104.3 57.6,104.5 59.4,104.2 61.3,103.6 63.1,102.8 64.9,102.3 66.8,102.1 68.6,102.0 70.5,101.9 72.3,101.7 74.1,102.9 76.0,103.8 77.8,104.0 79.7,102.7 81.5,100.6 83.3,98.8 85.2,97.4 87.0,96.5 88.9,96.0 90.7,95.8 92.5,95.8 94.4,95.9 96.2,96.3 98.1,96.3 99.9,95.7 101.7,95.4 103.6,95.3 105.4,95.3 107.3,95.4 109.1,95.4 110.9,95.2 112.8,94.8 114.6,94.0 116.5,93.0 118.3,92.0 120.1,91.3 122.0,90.7 123.8,90.4 125.7,90.3 127.5,90.3 129.3,89.9 131.2,89.2 133.0,88.0 134.9,86.2 136.7,83.9 138.5,81.9 140.4,80.5 142.2,79.9 144.1,80.2 145.9,81.3 147.7,83.0 149.6,85.1 151.4,87.2 153.3,88.8 155.1,89.8 156.9,89.9 158.8,89.2 160.6,88.1 162.5,86.9 164.3,85.9 166.1,85.3 168.0,85.3 169.8,85.9 171.7,86.7 173.5,87.5 175.3,88.2 177.2,88.1 179.0,87.8 180.9,87.9 182.7,88.4 184.5,89.0 186.4,89.6 188.2,90.3 190.1,91.1 191.9,90.6 193.7,90.1 195.6,90.0 197.4,90.2 199.3,90.9 201.1,90.8 202.9,90.1 204.8,89.7 206.6,89.7 208.5,89.8 210.3,88.8 212.1,86.6 214.0,83.4 215.8,79.9 217.7,76.4 219.5,74.2 221.3,73.6 223.2,74.0 225.0,74.9 226.9,75.2 228.7,73.7 230.5,71.5 232.4,68.4 234.2,64.8 236.1,61.6 237.9,58.9 239.7,56.6 241.6,55.2 243.4,54.9 245.3,55.7 247.1,57.5 248.9,59.2 250.8,60.3 252.6,60.1 254.5,58.8 256.3,56.2 258.1,53.1 260.0,49.8 261.8,46.9 263.7,45.0 265.5,44.5 267.3,45.3 269.2,47.0 271.0,49.1 272.9,50.9 274.7,51.8" fill="none" stroke="#929292" stroke-width="0.75" stroke-linejoin="round" stroke-linecap="round" />
<polyline points="35.5,100.4 37.3,96.6 39.2,99.1 41.0,103.2 42.9,107.5 44.7,109.8 46.5,110.9 48.4,112.2 50.2,114.4 52.1,116.7 53.9,118.8 55.7,119.3 57.6,118.5 59.4,117.1 61.3,114.9 63.1,111.9 64.9,109.0 66.8,107.3 68.6,105.7 70.5,104.3 72.3,103.1 74.1,104.1 76.0,105.2 77.8,106.6 79.7,107.0 81.5,106.8 83.3,106.6 85.2,106.6 87.0,106.5 88.9,106.3 90.7,106.8 92.5,107.8 94.4,109.1 96.2,110.6 98.1,110.0 99.9,107.0 101.7,105.1 103.6,103.8 105.4,102.5 107.3,101.5 109.1,100.7 110.9,100.0 112.8,99.3 114.6,98.6 116.5,98.0 118.3,97.3 120.1,96.8 122.0,96.4 123.8,95.8 125.7,95.3 127.5,95.0 129.3,94.7 131.2,94.7 133.0,94.8 134.9,95.0 136.7,94.8 138.5,94.5 140.4,94.7 142.2,94.9 144.1,95.1 145.9,95.1 147.7,95.2 149.6,95.2 151.4,94.9 153.3,94.5 155.1,94.0 156.9,93.4 158.8,92.6 160.6,91.9 162.5,91.4 164.3,91.0 166.1,90.9 168.0,91.1 169.8,91.6 171.7,92.3 173.5,93.1 175.3,94.1 177.2,94.5 179.0,95.2 180.9,96.8 182.7,99.1 184.5,101.7 186.4,104.5 188.2,107.2 190.1,109.2 191.9,108.4 193.7,106.3 195.6,103.8 197.4,101.7 199.3,100.3 201.1,97.7 202.9,94.7 204.8,92.8 206.6,92.3 208.5,92.9 210.3,93.4 212.1,93.9 214.0,94.1 215.8,94.6 217.7,94.9 219.5,95.9 221.3,98.5 223.2,101.0 225.0,102.5 226.9,99.5 228.7,92.3 230.5,85.7 232.4,79.5 234.2,74.4 236.1,71.5 237.9,71.1 239.7,72.2 241.6,74.1 243.4,74.4 245.3,73.5 247.1,73.3 248.9,73.3 250.8,73.5 252.6,73.3 254.5,73.1 256.3,72.1 258.1,71.1 260.0,69.6 261.8,67.5 263.7,64.4 265.5,60.8 267.3,57.3 269.2,54.1 271.0,51.7 272.9,49.7 274.7,48.5" fill="none" stroke="#929292" stroke-width="0.75" stroke-linejoin="round" stroke-linecap="round" />
<polyline points="35.5,106.2 37.3,112.1 39.2,119.7 41.0,123.4 42.9,125.8 44.7,125.4 46.5,124.2 48.4,124.0 50.2,124.3 52.1,123.1 53.9,120.1 55.7,115.4 57.6,112.3 59.4,111.9 61.3,112.8 63.1,114.5 64.9,115.0 66.8,113.4 68.6,110.4 70.5,108.5 72.3,109.1 74.1,114.5 76.0,119.6 77.8,122.6 79.7,121.9 81.5,118.5 83.3,114.6 85.2,111.7 87.0,111.1 88.9,111.7 90.7,113.1 92.5,113.3 94.4,112.4 96.2,111.8 98.1,110.0 99.9,108.0 101.7,108.9 103.6,110.5 105.4,110.3 107.3,108.3 109.1,105.0 110.9,102.8 112.8,102.4 114.6,103.7 116.5,105.5 118.3,106.4 120.1,105.6 122.0,103.6 123.8,101.3 125.7,100.1 127.5,101.2 129.3,102.9 131.2,104.1 133.0,103.9 134.9,102.0 136.7,99.0 138.5,96.7 140.4,97.0 142.2,99.1 144.1,101.5 145.9,102.5 147.7,101.6 149.6,99.3 151.4,97.4 153.3,97.1 155.1,98.5 156.9,100.5 158.8,101.3 160.6,100.4 162.5,98.0 164.3,95.4 166.1,94.4 168.0,95.7 169.8,98.8 171.7,101.6 173.5,102.7 175.3,101.9 177.2,99.5 179.0,98.3 180.9,100.3 182.7,105.0 184.5,110.1 186.4,113.3 188.2,114.1 190.1,113.4 191.9,111.1 193.7,109.3 195.6,109.5 197.4,111.1 199.3,112.5 201.1,110.7 202.9,105.8 204.8,101.0 206.6,99.3 208.5,100.9 210.3,103.7 212.1,105.5 214.0,104.8 215.8,101.6 217.7,96.7 219.5,93.7 221.3,96.8 223.2,102.7 225.0,107.2 226.9,107.5 228.7,103.6 230.5,98.0 232.4,91.9 234.2,87.9 236.1,88.8 237.9,93.1 239.7,96.5 241.6,97.9 243.4,94.4 245.3,84.2 247.1,76.4 248.9,73.9 250.8,75.3 252.6,76.2 254.5,76.0 256.3,73.5 258.1,70.2 260.0,68.2 261.8,68.7 263.7,71.1 265.5,73.9 267.3,74.8 269.2,72.4 271.0,67.5 272.9,62.2 274.7,59.3" fill="none" stroke="#929292" stroke-width="0.75" stroke-linejoin="round" stroke-linecap="round" />
<polyline points="35.5,106.2 37.3,110.3 39.2,117.8 41.0,124.9 42.9,131.6 44.7,134.3 46.5,134.4 48.4,132.3 50.2,129.9 52.1,128.1 53.9,126.6 55.7,125.1 57.6,124.4 59.4,124.6 61.3,124.8 63.1,124.2 64.9,122.2 66.8,119.3 68.6,116.3 70.5,114.8 72.3,115.2 74.1,118.8 76.0,122.6 77.8,125.2 79.7,125.6 81.5,124.2 83.3,122.0 85.2,119.7 87.0,117.6 88.9,115.9 90.7,115.3 92.5,115.1 94.4,115.4 96.2,116.0 98.1,115.6 99.9,114.2 101.7,114.2 103.6,114.7 105.4,114.7 107.3,114.1 109.1,112.8 110.9,111.6 112.8,110.9 114.6,110.7 116.5,110.9 118.3,110.8 120.1,110.1 122.0,108.6 123.8,106.5 125.7,104.3 127.5,103.0 129.3,102.9 131.2,104.0 133.0,105.6 134.9,107.0 136.7,107.5 138.5,107.0 140.4,106.0 142.2,105.1 144.1,104.5 145.9,104.6 147.7,105.0 149.6,105.2 151.4,105.0 153.3,104.3 155.1,103.5 156.9,103.0 158.8,102.9 160.6,103.1 162.5,103.6 164.3,103.8 166.1,103.7 168.0,103.8 169.8,104.3 171.7,105.4 173.5,106.8 175.3,108.2 177.2,108.7 179.0,108.3 180.9,107.7 182.7,107.6 184.5,108.7 186.4,111.5 188.2,115.4 190.1,119.4 191.9,120.6 193.7,120.2 195.6,118.4 197.4,116.0 199.3,114.3 201.1,112.0 202.9,109.7 204.8,109.1 206.6,109.9 208.5,110.6 210.3,110.2 212.1,109.3 214.0,108.1 215.8,107.7 217.7,108.3 219.5,109.6 221.3,111.4 223.2,112.5 225.0,112.6 226.9,110.9 228.7,107.6 230.5,104.5 232.4,101.2 234.2,97.1 236.1,93.7 237.9,92.5 239.7,93.5 241.6,96.0 243.4,94.6 245.3,91.2 247.1,89.8 248.9,89.3 250.8,89.0 252.6,87.6 254.5,85.5 256.3,83.3 258.1,82.0 260.0,81.9 261.8,82.3 263.7,82.2 265.5,80.7 267.3,77.5 269.2,73.0 271.0,68.6 272.9,65.2 274.7,63.7" fill="none" stroke="#929292" stroke-width="0.75" stroke-linejoin="round" stroke-linecap="round" />
<polyline points="35.5,97.5 37.3,93.2 39.2,95.8 41.0,101.2 42.9,106.7 44.7,109.3 46.5,108.9 48.4,107.2 50.2,105.6 52.1,103.1 53.9,100.8 55.7,99.4 57.6,99.3 59.4,99.8 61.3,100.1 63.1,99.9 64.9,99.4 66.8,98.7 68.6,98.1 70.5,97.7 72.3,97.7 74.1,98.7 76.0,100.0 77.8,101.3 79.7,101.7 81.5,101.6 83.3,101.7 85.2,102.2 87.0,102.6 88.9,102.6 90.7,102.3 92.5,101.1 94.4,99.0 96.2,96.1 98.1,92.8 99.9,91.0 101.7,90.5 103.6,90.5 105.4,91.5 107.3,92.7 109.1,93.6 110.9,93.9 112.8,93.8 114.6,93.3 116.5,92.7 118.3,92.1 120.1,91.4 122.0,90.5 123.8,89.1 125.7,87.6 127.5,86.2 129.3,85.3 131.2,85.5 133.0,86.3 134.9,86.9 136.7,86.7 138.5,85.7 140.4,84.3 142.2,82.9 144.1,82.0 145.9,81.8 147.7,82.5 149.6,83.9 151.4,85.3 153.3,86.2 155.1,86.5 156.9,86.1 158.8,85.4 160.6,85.1 162.5,85.4 164.3,86.0 166.1,86.7 168.0,87.1 169.8,87.0 171.7,86.2 173.5,85.1 175.3,84.2 177.2,83.7 179.0,83.8 180.9,84.8 182.7,86.4 184.5,88.1 186.4,89.9 188.2,91.9 190.1,94.2 191.9,95.4 193.7,96.3 195.6,96.5 197.4,95.8 199.3,94.1 201.1,90.1 202.9,85.4 204.8,81.8 206.6,79.8 208.5,79.5 210.3,80.6 212.1,81.4 214.0,81.5 215.8,80.5 217.7,78.1 219.5,75.8 221.3,74.3 223.2,73.3 225.0,72.8 226.9,72.0 228.7,70.1 230.5,68.1 232.4,66.1 234.2,64.5 236.1,64.2 237.9,65.4 239.7,67.1 241.6,67.4 243.4,63.5 245.3,56.9 247.1,50.6 248.9,45.8 250.8,44.8 252.6,44.0 254.5,45.6 256.3,48.7 258.1,51.8 260.0,53.9 261.8,54.7 263.7,54.1 265.5,52.9 267.3,51.6 269.2,50.8 271.0,50.1 272.9,49.2 274.7,47.7" fill="none" stroke="#929292" stroke-width="0.75" stroke-linejoin="round" stroke-linecap="round" />
<polyline points="35.5,105.8 37.3,110.3 39.2,117.8 41.0,121.2 42.9,123.0 44.7,121.4 46.5,120.7 48.4,121.7 50.2,123.9 52.1,125.3 53.9,125.0 55.7,122.9 57.6,120.3 59.4,118.3 61.3,116.1 63.1,113.0 64.9,109.2 66.8,107.5 68.6,106.7 70.5,107.7 72.3,111.8 74.1,117.7 76.0,120.6 77.8,120.9 79.7,118.6 81.5,114.5 83.3,111.7 85.2,111.6 87.0,112.7 88.9,113.4 90.7,113.7 92.5,113.2 94.4,112.8 96.2,113.5 98.1,113.1 99.9,111.1 101.7,109.5 103.6,107.4 105.4,104.6 107.3,103.4 109.1,103.6 110.9,105.7 112.8,107.6 114.6,107.8 116.5,105.9 118.3,102.9 120.1,100.3 122.0,99.9 123.8,102.1 125.7,104.6 127.5,106.4 129.3,106.0 131.2,103.7 133.0,100.5 134.9,97.5 136.7,96.3 138.5,96.9 140.4,98.7 142.2,100.0 144.1,100.3 145.9,100.1 147.7,100.2 149.6,100.6 151.4,100.8 153.3,100.0 155.1,98.1 156.9,95.8 158.8,94.4 160.6,95.1 162.5,97.9 164.3,101.3 166.1,103.6 168.0,103.8 169.8,102.2 171.7,99.9 173.5,98.4 175.3,98.6 177.2,99.7 179.0,101.4 180.9,102.7 182.7,103.3 184.5,103.8 186.4,105.6 188.2,108.9 190.1,112.5 191.9,113.3 193.7,112.0 195.6,109.8 197.4,108.6 199.3,109.5 201.1,110.2 202.9,110.3 204.8,109.7 206.6,107.4 208.5,103.7 210.3,98.3 212.1,95.4 214.0,96.9 215.8,101.5 217.7,106.1 219.5,108.1 221.3,107.0 223.2,104.8 225.0,103.2 226.9,99.9 228.7,95.7 230.5,93.1 232.4,90.5 234.2,87.4 236.1,86.4 237.9,89.3 239.7,93.9 241.6,97.6 243.4,96.2 245.3,90.8 247.1,84.6 248.9,77.1 250.8,73.4 252.6,73.6 254.5,75.8 256.3,77.5 258.1,77.3 260.0,74.6 261.8,70.6 263.7,67.3 265.5,66.1 267.3,67.1 269.2,68.6 271.0,68.9 272.9,66.8 274.7,63.4" fill="none" stroke="#929292" stroke-width="0.75" stroke-linejoin="round" stroke-linecap="round" />
<polyline points="35.5,104.0 37.3,106.0 39.2,112.3 41.0,115.2 42.9,120.4 44.7,124.9 46.5,123.0 48.4,117.0 50.2,114.4 52.1,117.1 53.9,120.5 55.7,117.6 57.6,111.2 59.4,109.1 61.3,111.3 63.1,112.7 64.9,108.9 66.8,105.8 68.6,105.3 70.5,107.1 72.3,108.4 74.1,108.7 76.0,109.4 77.8,113.2 79.7,116.0 81.5,113.8 83.3,110.0 85.2,109.6 87.0,111.6 88.9,111.1 90.7,108.1 92.5,106.1 94.4,109.0 96.2,113.7 98.1,112.8 99.9,106.0 101.7,102.4 103.6,103.5 105.4,105.3 107.3,104.0 109.1,101.2 110.9,100.7 112.8,102.6 114.6,103.1 116.5,100.8 118.3,99.0 120.1,100.2 122.0,101.6 123.8,99.1 125.7,94.7 127.5,94.3 129.3,98.4 131.2,100.6 133.0,97.7 134.9,94.2 136.7,95.3 138.5,98.9 140.4,100.1 142.2,97.3 144.1,94.9 145.9,96.0 147.7,98.1 149.6,97.2 151.4,94.9 153.3,94.9 155.1,97.0 156.9,97.3 158.8,94.5 160.6,92.8 162.5,95.2 164.3,98.1 166.1,96.7 168.0,92.5 169.8,91.2 171.7,94.8 173.5,97.9 175.3,96.3 177.2,92.6 179.0,92.8 180.9,97.0 182.7,100.9 184.5,101.6 186.4,103.2 188.2,108.1 190.1,112.7 191.9,111.7 193.7,108.2 195.6,107.8 197.4,110.6 199.3,111.4 201.1,106.0 202.9,99.3 204.8,99.5 206.6,103.8 208.5,103.8 210.3,96.8 212.1,90.9 214.0,91.5 215.8,93.7 217.7,90.2 219.5,84.7 221.3,85.7 223.2,93.3 225.0,98.4 226.9,94.5 228.7,90.3 230.5,92.9 232.4,93.7 234.2,89.1 236.1,83.4 237.9,85.8 239.7,93.9 241.6,97.9 243.4,94.2 245.3,81.3 247.1,77.7 248.9,80.1 250.8,77.9 252.6,70.3 254.5,64.5 256.3,64.3 258.1,65.7 260.0,63.1 261.8,58.8 263.7,58.4 265.5,61.0 267.3,60.7 269.2,56.5 271.0,54.5 272.9,58.1 274.7,63.7" fill="none" stroke="#929292" stroke-width="0.75" stroke-linejoin="round" stroke-linecap="round" />
<polyline points="35.5,97.8 37.3,94.2 39.2,97.8 41.0,101.4 42.9,103.4 44.7,105.6 46.5,108.6 48.4,109.1 50.2,106.4 52.1,102.0 53.9,100.2 55.7,101.9 57.6,103.7 59.4,103.4 61.3,102.4 63.1,102.4 64.9,102.8 66.8,102.2 68.6,100.1 70.5,98.5 72.3,99.1 74.1,102.6 76.0,106.0 77.8,106.9 79.7,104.7 81.5,102.8 83.3,101.1 85.2,98.2 87.0,94.8 88.9,93.9 90.7,96.3 92.5,100.0 94.4,102.2 96.2,101.9 98.1,100.0 99.9,98.6 101.7,97.9 103.6,96.5 105.4,94.7 107.3,94.6 109.1,96.5 110.9,98.0 112.8,96.7 114.6,93.1 116.5,90.2 118.3,89.4 120.1,89.2 122.0,87.9 123.8,86.4 125.7,86.9 127.5,89.1 129.3,90.0 131.2,88.0 133.0,85.4 134.9,85.5 136.7,88.0 138.5,89.8 140.4,89.6 142.2,88.6 144.1,88.3 145.9,88.1 147.7,86.5 149.6,83.2 151.4,80.9 153.3,81.9 155.1,85.2 156.9,87.7 158.8,87.9 160.6,87.3 162.5,87.9 164.3,88.6 166.1,87.7 168.0,85.8 169.8,85.7 171.7,88.5 173.5,91.9 175.3,92.4 177.2,89.4 179.0,86.6 180.9,86.0 182.7,86.6 184.5,86.3 186.4,85.9 188.2,88.0 190.1,93.4 191.9,97.1 193.7,96.6 195.6,93.8 197.4,92.8 199.3,95.1 201.1,96.6 202.9,94.9 204.8,92.6 206.6,92.5 208.5,93.8 210.3,91.8 212.1,84.5 214.0,75.8 215.8,71.6 217.7,72.3 219.5,74.3 221.3,74.3 223.2,73.3 225.0,74.3 226.9,75.5 228.7,71.2 230.5,64.0 232.4,59.9 234.2,62.3 236.1,68.6 237.9,74.5 239.7,75.8 241.6,74.1 243.4,71.2 245.3,66.7 247.1,59.8 248.9,52.4 250.8,49.8 252.6,52.8 254.5,57.0 256.3,57.4 258.1,54.3 260.0,51.8 261.8,51.9 263.7,52.3 265.5,50.7 267.3,48.3 269.2,48.2 271.0,50.2 272.9,50.8 274.7,47.6" fill="none" stroke="#929292" stroke-width="0.75" stroke-linejoin="round" stroke-linecap="round" />
<polyline points="35.5,105.9 37.3,108.3 39.2,114.8 41.0,120.3 42.9,125.2 44.7,125.6 46.5,122.6 48.4,119.3 50.2,117.8 52.1,117.0 53.9,116.4 55.7,115.3 57.6,114.2 59.4,113.4 61.3,112.4 63.1,111.2 64.9,110.7 66.8,110.9 68.6,110.9 70.5,111.1 72.3,111.3 74.1,114.3 76.0,117.3 77.8,120.2 79.7,120.8 81.5,119.6 83.3,117.6 85.2,115.3 87.0,112.7 88.9,110.1 90.7,109.0 92.5,108.8 94.4,109.5 96.2,110.6 98.1,109.8 99.9,106.6 101.7,104.5 103.6,103.3 105.4,102.2 107.3,102.1 109.1,102.5 110.9,103.9 112.8,105.6 114.6,107.0 116.5,107.7 118.3,107.7 120.1,107.1 122.0,106.0 123.8,104.7 125.7,103.4 127.5,102.6 129.3,102.1 131.2,101.8 133.0,101.4 134.9,100.7 136.7,98.9 138.5,96.5 140.4,94.5 142.2,92.9 144.1,92.1 145.9,92.2 147.7,93.3 149.6,95.1 151.4,97.1 153.3,99.0 155.1,100.3 156.9,100.8 158.8,100.7 160.6,100.5 162.5,100.6 164.3,100.9 166.1,101.6 168.0,102.5 169.8,103.3 171.7,103.6 173.5,102.8 175.3,101.2 177.2,98.2 179.0,95.7 180.9,94.8 182.7,95.5 184.5,97.6 186.4,100.8 188.2,104.7 190.1,108.8 191.9,110.3 193.7,110.1 195.6,109.5 197.4,109.3 199.3,110.0 201.1,109.3 202.9,107.9 204.8,107.6 206.6,108.6 208.5,109.5 210.3,109.0 212.1,107.7 214.0,105.2 215.8,102.2 217.7,98.9 219.5,96.8 221.3,97.5 223.2,98.7 225.0,99.2 226.9,96.3 228.7,90.7 230.5,86.1 232.4,82.4 234.2,80.0 236.1,80.6 237.9,85.1 239.7,91.7 241.6,96.2 243.4,95.3 245.3,91.3 247.1,87.9 248.9,84.8 250.8,82.4 252.6,80.0 254.5,78.3 256.3,76.4 258.1,74.5 260.0,72.5 261.8,70.0 263.7,66.8 265.5,63.3 267.3,60.5 269.2,58.7 271.0,58.0 272.9,58.1 274.7,58.5" fill="none" stroke="#929292" stroke-width="0.75" stroke-linejoin="round" stroke-linecap="round" />
<polyline points="35.5,105.4 37.3,106.2 39.2,111.9 41.0,115.9 42.9,118.8 44.7,117.9 46.5,115.8 48.4,114.8 50.2,115.6 52.1,116.7 53.9,117.3 55.7,115.9 57.6,113.3 59.4,110.7 61.3,108.3 63.1,106.6 64.9,105.8 66.8,106.2 68.6,106.8 70.5,107.5 72.3,108.6 74.1,111.2 76.0,113.3 77.8,115.0 79.7,114.0 81.5,112.2 83.3,110.8 85.2,110.2 87.0,109.9 88.9,109.3 90.7,109.4 92.5,109.3 94.4,109.3 96.2,109.1 98.1,107.4 99.9,104.4 101.7,103.1 103.6,103.0 105.4,102.9 107.3,103.0 109.1,102.6 110.9,101.8 112.8,100.4 114.6,98.6 116.5,97.2 118.3,96.6 120.1,97.0 122.0,98.3 123.8,100.0 125.7,101.5 127.5,102.1 129.3,102.1 131.2,101.4 133.0,100.3 134.9,99.0 136.7,97.5 138.5,96.4 140.4,96.1 142.2,96.0 144.1,95.5 145.9,94.5 147.7,93.2 149.6,91.7 151.4,90.4 153.3,89.9 155.1,90.4 156.9,91.8 158.8,93.9 160.6,96.3 162.5,98.1 164.3,99.1 166.1,99.0 168.0,98.3 169.8,97.2 171.7,96.1 173.5,95.5 175.3,95.6 177.2,95.6 179.0,96.1 180.9,97.4 182.7,99.0 184.5,100.7 186.4,102.2 188.2,103.9 190.1,105.8 191.9,106.3 193.7,106.7 195.6,107.3 197.4,108.1 199.3,108.9 201.1,106.8 202.9,102.5 204.8,98.8 206.6,96.4 208.5,95.1 210.3,94.2 212.1,93.9 214.0,94.0 215.8,94.3 217.7,94.0 219.5,93.8 221.3,94.8 223.2,95.9 225.0,96.6 226.9,95.8 228.7,93.6 230.5,92.6 232.4,91.1 234.2,89.6 236.1,88.8 237.9,89.5 239.7,90.2 241.6,87.0 243.4,79.2 245.3,71.4 247.1,67.2 248.9,65.7 250.8,66.1 252.6,67.1 254.5,68.3 256.3,68.6 258.1,68.6 260.0,68.3 261.8,67.8 263.7,66.9 265.5,65.9 267.3,64.8 269.2,63.5 271.0,61.5 272.9,58.9 274.7,55.7" fill="none" stroke="#929292" stroke-width="0.75" stroke-linejoin="round" stroke-linecap="round" />
<polyline points="35.5,99.9 37.3,95.8 39.2,97.0 41.0,99.8 42.9,102.9 44.7,104.6 46.5,105.3 48.4,105.4 50.2,105.0 52.1,103.3 53.9,101.4 55.7,100.2 57.6,100.3 59.4,101.1 61.3,101.8 63.1,101.8 64.9,101.3 66.8,100.5 68.6,99.5 70.5,98.7 72.3,98.3 74.1,99.2 76.0,100.4 77.8,101.7 79.7,101.8 81.5,100.9 83.3,99.7 85.2,98.7 87.0,98.1 88.9,97.8 90.7,98.2 92.5,98.8 94.4,99.8 96.2,100.8 98.1,100.8 99.9,99.3 101.7,98.0 103.6,97.0 105.4,95.8 107.3,94.7 109.1,93.5 110.9,92.4 112.8,91.2 114.6,89.9 116.5,88.5 118.3,87.1 120.1,85.8 122.0,84.8 123.8,84.6 125.7,85.3 127.5,86.7 129.3,88.4 131.2,90.1 133.0,91.1 134.9,91.1 136.7,90.1 138.5,89.1 140.4,88.5 142.2,88.2 144.1,87.8 145.9,86.9 147.7,85.4 149.6,83.4 151.4,81.3 153.3,79.8 155.1,79.6 156.9,80.6 158.8,82.6 160.6,84.8 162.5,86.7 164.3,87.6 166.1,87.6 168.0,87.5 169.8,87.7 171.7,88.5 173.5,89.5 175.3,90.0 177.2,89.1 179.0,87.3 180.9,85.4 182.7,84.3 184.5,84.2 186.4,85.8 188.2,89.1 190.1,93.4 191.9,96.0 193.7,96.8 195.6,96.0 197.4,94.7 199.3,93.9 201.1,93.0 202.9,92.2 204.8,91.8 206.6,91.4 208.5,89.3 210.3,84.6 212.1,77.8 214.0,71.3 215.8,67.3 217.7,65.3 219.5,67.0 221.3,70.3 223.2,73.5 225.0,75.0 226.9,73.9 228.7,71.5 230.5,70.5 232.4,71.0 234.2,72.2 236.1,74.0 237.9,76.0 239.7,75.5 241.6,71.1 243.4,62.6 245.3,54.9 247.1,50.6 248.9,49.0 250.8,48.9 252.6,48.6 254.5,47.9 256.3,46.6 258.1,45.7 260.0,45.7 261.8,47.0 263.7,49.4 265.5,52.0 267.3,53.7 269.2,54.1 271.0,53.1 272.9,51.0 274.7,48.5" fill="none" stroke="#929292" stroke-width="0.75" stroke-linejoin="round" stroke-linecap="round" />
<polyline points="35.5,101.7 37.3,102.0 39.2,111.3 41.0,121.0 42.9,128.6 44.7,130.1 46.5,128.4 48.4,126.1 50.2,124.9 52.1,123.4 53.9,120.5 55.7,115.7 57.6,111.4 59.4,109.0 61.3,107.6 63.1,106.2 64.9,104.9 66.8,104.5 68.6,104.8 70.5,106.0 72.3,107.3 74.1,111.7 76.0,114.7 77.8,117.2 79.7,117.8 81.5,117.0 83.3,115.5 85.2,113.3 87.0,110.4 88.9,108.0 90.7,107.6 92.5,108.6 94.4,110.2 96.2,111.3 98.1,109.7 99.9,106.2 101.7,104.6 103.6,103.9 105.4,102.8 107.3,101.5 109.1,100.0 110.9,99.4 112.8,99.8 114.6,100.9 116.5,101.9 118.3,102.3 120.1,102.6 122.0,103.2 123.8,104.0 125.7,104.3 127.5,103.7 129.3,102.0 131.2,99.7 133.0,97.3 134.9,95.9 136.7,94.3 138.5,92.5 140.4,91.2 142.2,90.7 144.1,91.5 145.9,93.4 147.7,95.5 149.6,97.0 151.4,97.8 153.3,98.4 155.1,99.4 156.9,100.3 158.8,100.3 160.6,99.1 162.5,97.4 164.3,95.8 166.1,95.2 168.0,95.3 169.8,95.3 171.7,94.6 173.5,93.8 175.3,93.8 177.2,94.3 179.0,95.4 180.9,96.8 182.7,98.3 184.5,100.2 186.4,103.2 188.2,107.4 190.1,111.3 191.9,112.0 193.7,111.0 195.6,109.7 197.4,109.5 199.3,110.3 201.1,109.1 202.9,105.4 204.8,101.2 206.6,98.5 208.5,97.1 210.3,95.9 212.1,94.0 214.0,90.9 215.8,87.9 217.7,86.5 219.5,88.6 221.3,94.8 223.2,101.1 225.0,104.1 226.9,103.3 228.7,99.8 230.5,97.4 232.4,94.9 234.2,90.8 236.1,87.0 237.9,85.6 239.7,85.1 241.6,85.9 243.4,83.3 245.3,77.6 247.1,72.2 248.9,68.4 250.8,67.5 252.6,68.1 254.5,69.1 256.3,68.7 258.1,67.7 260.0,67.0 261.8,67.4 263.7,68.0 265.5,67.9 267.3,66.5 269.2,64.5 271.0,63.2 272.9,63.2 274.7,63.7" fill="none" stroke="#929292" stroke-width="0.75" stroke-linejoin="round" stroke-linecap="round" />
<polyline points="35.5,106.1 37.3,109.3 39.2,115.6 41.0,121.3 42.9,127.3 44.7,129.7 46.5,129.9 48.4,129.1 50.2,128.0 52.1,126.4 53.9,123.7 55.7,119.6 57.6,115.3 59.4,112.7 61.3,111.7 63.1,112.1 64.9,115.0 66.8,118.5 68.6,120.1 70.5,119.5 72.3,116.8 74.1,115.2 76.0,114.8 77.8,116.4 79.7,116.9 81.5,117.1 83.3,117.6 85.2,118.4 87.0,118.8 88.9,118.1 90.7,117.1 92.5,115.7 94.4,114.5 96.2,114.0 98.1,112.3 99.9,108.9 101.7,107.0 103.6,106.1 105.4,105.3 107.3,105.0 109.1,105.1 110.9,105.9 112.8,107.1 114.6,108.5 116.5,109.5 118.3,109.9 120.1,109.3 122.0,107.8 123.8,105.5 125.7,102.9 127.5,100.9 129.3,99.6 131.2,100.0 133.0,101.3 134.9,102.9 136.7,104.0 138.5,104.3 140.4,103.8 142.2,102.1 144.1,100.0 145.9,98.2 147.7,97.6 149.6,98.2 151.4,99.7 153.3,101.4 155.1,102.7 156.9,102.8 158.8,101.7 160.6,100.0 162.5,98.3 164.3,97.2 166.1,97.5 168.0,99.3 169.8,102.0 171.7,105.0 173.5,107.2 175.3,108.2 177.2,107.1 179.0,104.7 180.9,102.4 182.7,101.2 184.5,101.8 186.4,104.3 188.2,108.1 190.1,112.2 191.9,113.9 193.7,114.3 195.6,114.0 197.4,113.6 199.3,113.5 201.1,112.2 202.9,110.0 204.8,108.4 206.6,107.9 208.5,107.4 210.3,105.8 212.1,103.7 214.0,101.2 215.8,99.6 217.7,99.6 219.5,101.7 221.3,105.7 223.2,108.9 225.0,110.0 226.9,107.7 228.7,101.7 230.5,94.9 232.4,87.7 234.2,82.4 236.1,82.6 237.9,88.5 239.7,95.1 241.6,99.5 243.4,99.0 245.3,95.7 247.1,91.4 248.9,85.8 250.8,80.1 252.6,74.8 254.5,71.6 256.3,70.5 258.1,71.4 260.0,73.0 261.8,74.0 263.7,73.5 265.5,71.5 267.3,68.7 269.2,66.1 271.0,64.8 272.9,65.0 274.7,66.7" fill="none" stroke="#929292" stroke-width="0.75" stroke-linejoin="round" stroke-linecap="round" />
<polyline points="37.0,100.0 40.0,125.0 43.1,146.2 46.0,143.5 48.9,143.3 51.8,144.0 54.7,138.2 59.0,136.0 61.9,132.4 66.2,126.7 69.8,119.4 75.0,118.0 80.0,120.0 86.0,116.0 92.0,113.0 98.0,111.0 104.0,108.0" fill="none" stroke="#929292" stroke-width="0.75" stroke-linejoin="round" stroke-linecap="round" />
<polyline points="37.0,104.0 41.0,135.0 44.0,142.0 48.0,138.0 52.0,140.0 56.0,134.0 60.0,130.0 64.0,135.0 68.0,133.0 72.0,128.0 76.0,131.0 80.0,124.0 86.0,122.0 92.0,121.0 98.0,118.0 104.0,112.0 110.0,108.0 116.0,104.0" fill="none" stroke="#929292" stroke-width="0.75" stroke-linejoin="round" stroke-linecap="round" />
<polyline points="38.0,110.0 42.0,138.0 46.0,132.0 50.0,136.0 55.0,131.0 60.0,126.0 66.0,130.0 71.0,123.0 76.0,125.0 82.0,118.0 88.0,116.0 94.0,113.0 100.0,110.0" fill="none" stroke="#929292" stroke-width="0.75" stroke-linejoin="round" stroke-linecap="round" />
<polyline points="70.0,110.0 76.0,114.0 82.0,116.0 88.0,118.0 94.0,122.0 100.9,126.7 104.0,124.0 108.1,128.8 112.0,124.0 118.0,120.0 124.0,115.0 130.0,108.0 136.0,104.0 142.0,100.0 150.0,98.0" fill="none" stroke="#929292" stroke-width="0.75" stroke-linejoin="round" stroke-linecap="round" />
<polyline points="35.5,96.0 37.8,89.0 40.0,100.0 44.0,104.0 50.0,100.0 56.0,103.0 62.0,104.0 68.0,104.0" fill="none" stroke="#929292" stroke-width="0.75" stroke-linejoin="round" stroke-linecap="round" />
<polyline points="222.0,92.0 228.0,82.0 232.0,76.0 236.0,70.0 242.0,60.0 248.0,52.0 254.0,48.0 258.0,44.0 262.0,40.0 266.0,38.0 270.0,35.0 273.0,33.0 275.5,31.0" fill="none" stroke="#929292" stroke-width="0.75" stroke-linejoin="round" stroke-linecap="round" />
<polyline points="170.0,104.0 176.0,108.0 180.0,112.0 184.0,120.0 188.0,127.0 192.0,124.0 196.0,129.0 200.0,126.0 205.0,121.0 210.0,118.0 215.0,116.0 220.0,108.0 226.0,100.0 232.0,94.0" fill="none" stroke="#929292" stroke-width="0.75" stroke-linejoin="round" stroke-linecap="round" />
<line x1="33.5" y1="99.5" x2="283.5" y2="99.5" stroke="#a8a8a8" stroke-width="1"/>
<polyline points="37.3,109.5 38.0,110.3 42.4,118.3 46.0,116.8 49.6,105.3 51.8,106.7 56.8,118.3 59.0,121.9 64.0,110.3 67.7,108.2 70.6,109.6 74.9,121.9 79.2,124.8 82.2,123.1 85.8,128.8 88.7,131.7 90.8,130.3 94.5,124.0 97.3,118.5 101.0,119.5 105.0,118.0 109.0,116.0 114.1,113.3 116.4,108.1 118.1,105.2 119.9,104.1 121.6,105.8 123.3,105.2 125.6,102.3 128.0,97.7 129.7,100.0 132.0,101.2 135.0,101.5 138.9,95.0 143.5,96.0 145.8,90.0 149.3,88.0 152.7,86.0 155.1,92.0 157.4,97.0 160.0,97.0 163.0,93.0 167.8,87.7 171.2,93.0 175.0,93.0 177.3,86.6 179.0,85.4 180.8,87.0 184.2,88.9 186.6,90.5 190.0,90.0 192.9,89.5 195.2,90.0 197.0,92.3 198.7,95.2 201.6,103.9 205.1,105.5 207.4,108.5 209.9,109.7 211.2,108.0 214.3,100.2 216.0,97.2 218.2,95.4 220.3,95.0 222.1,97.2 224.2,99.8 226.0,101.5 228.0,97.0 230.0,92.0 232.4,87.0 234.6,84.0 236.3,83.0 238.0,84.5 240.0,87.0 242.0,89.0 244.0,88.0 246.0,85.0 249.0,76.2 253.0,72.0 257.8,66.0 260.4,63.2 262.7,63.2 266.2,66.0 269.7,68.9 275.5,70.1" fill="none" stroke="#2b78c2" stroke-width="2.2" stroke-linejoin="round" stroke-linecap="round" />
<polyline points="37.3,101.6 38.0,102.0 43.8,109.6 48.9,101.7 54.7,108.9 58.3,116.8 62.6,103.8 64.8,103.1 67.7,108.2 70.6,108.5 74.9,121.9 77.8,129.5 80.7,128.1 82.2,123.8 85.1,130.3 87.9,135.3 90.1,133.2 92.3,131.0 94.5,126.7 97.3,117.4 99.0,116.2 102.5,122.6 105.4,118.5 107.7,116.8 110.6,117.4 113.5,116.2 116.4,112.2 119.3,109.9 122.2,112.7 125.6,107.5 128.5,104.1 130.8,107.5 134.2,107.4 138.9,99.3 143.5,98.2 145.8,87.7 149.3,86.6 152.7,84.3 155.1,92.4 157.4,101.6 159.7,102.8 162.0,94.7 165.5,91.2 167.8,88.9 171.2,95.8 174.7,94.7 175.0,93.5 177.3,86.6 179.0,85.4 180.8,87.1 182.5,88.9 184.2,89.5 186.0,91.2 187.7,94.7 189.5,98.1 191.2,98.7 192.9,95.8 194.7,93.5 196.4,95.2 198.1,98.1 199.9,101.0 201.6,103.9 204.7,104.6 206.5,106.3 208.2,108.9 209.9,107.1 211.7,102.8 213.0,98.5 214.3,95.0 216.0,92.4 217.7,91.1 219.5,90.7 221.2,91.5 222.9,92.8 224.7,94.6 226.6,96.4 228.9,91.4 230.7,87.9 232.4,84.5 234.6,81.9 236.3,81.0 238.0,82.3 239.8,84.9 241.5,87.5 242.8,88.4 244.1,86.6 245.4,84.9 248.7,79.1 251.2,77.0 255.8,72.4 260.4,66.6 263.9,66.6 266.2,68.9 269.7,67.8 275.5,67.8" fill="none" stroke="#e3161c" stroke-width="2.4" stroke-linejoin="round" stroke-linecap="round" />
<polyline points="37.3,105.3 40.0,115.0 43.6,126.0 48.9,119.0 54.6,119.8 59.7,115.0 64.5,109.5 68.4,107.9 72.5,107.0 76.4,113.7 78.5,117.5 81.0,116.5 85.0,113.3 89.5,109.5 93.5,110.0 96.0,112.0 98.0,111.2 100.6,106.8 105.4,104.3 108.9,103.5 113.5,103.3 118.1,102.6 122.7,102.1 126.2,101.2 129.7,100.6 135.0,99.5 138.9,97.5 145.8,96.5 152.7,96.5 159.7,97.0 166.6,98.2 171.2,99.3 175.0,99.3 178.5,97.5 180.8,98.1 183.1,99.9 185.4,102.7 187.7,106.2 190.0,109.7 192.3,110.3 194.7,109.1 197.0,108.5 199.3,109.1 201.6,107.4 203.9,103.5 206.5,103.2 208.2,103.7 209.9,103.2 211.7,102.4 213.4,100.6 215.6,98.5 217.3,96.7 219.0,95.4 220.3,96.3 222.1,98.5 223.8,101.1 225.5,102.5 227.0,100.5 228.9,95.5 230.7,91.8 232.4,88.4 234.1,85.3 235.9,84.5 237.2,85.8 238.5,88.8 239.8,91.6 241.1,94.5 242.2,96.0 243.7,93.0 245.0,89.0 246.6,85.1 249.0,80.0 252.3,74.7 257.0,70.1 262.7,67.8 268.5,63.2 275.5,59.2" fill="none" stroke="#000" stroke-width="2.6" stroke-linejoin="round" stroke-linecap="round" />
<rect x="33.5" y="13.0" width="250.0" height="144.3" fill="none" stroke="#a8a8a8" stroke-width="1"/>
<line x1="33.5" y1="157.3" x2="33.5" y2="154.8" stroke="#a8a8a8"/>
<line x1="33.5" y1="13.0" x2="33.5" y2="15.5" stroke="#a8a8a8"/>
<line x1="70.5" y1="157.3" x2="70.5" y2="154.8" stroke="#a8a8a8"/>
<line x1="70.5" y1="13.0" x2="70.5" y2="15.5" stroke="#a8a8a8"/>
<line x1="107.5" y1="157.3" x2="107.5" y2="154.8" stroke="#a8a8a8"/>
<line x1="107.5" y1="13.0" x2="107.5" y2="15.5" stroke="#a8a8a8"/>
<line x1="144.5" y1="157.3" x2="144.5" y2="154.8" stroke="#a8a8a8"/>
<line x1="144.5" y1="13.0" x2="144.5" y2="15.5" stroke="#a8a8a8"/>
<line x1="180.5" y1="157.3" x2="180.5" y2="154.8" stroke="#a8a8a8"/>
<line x1="180.5" y1="13.0" x2="180.5" y2="15.5" stroke="#a8a8a8"/>
<line x1="217.5" y1="157.3" x2="217.5" y2="154.8" stroke="#a8a8a8"/>
<line x1="217.5" y1="13.0" x2="217.5" y2="15.5" stroke="#a8a8a8"/>
<line x1="254.5" y1="157.3" x2="254.5" y2="154.8" stroke="#a8a8a8"/>
<line x1="254.5" y1="13.0" x2="254.5" y2="15.5" stroke="#a8a8a8"/>
<line x1="33.5" y1="27.5" x2="36.0" y2="27.5" stroke="#a8a8a8"/>
<line x1="283.5" y1="27.5" x2="281.0" y2="27.5" stroke="#a8a8a8"/>
<line x1="33.5" y1="63.5" x2="36.0" y2="63.5" stroke="#a8a8a8"/>
<line x1="283.5" y1="63.5" x2="281.0" y2="63.5" stroke="#a8a8a8"/>
<line x1="33.5" y1="99.5" x2="36.0" y2="99.5" stroke="#a8a8a8"/>
<line x1="283.5" y1="99.5" x2="281.0" y2="99.5" stroke="#a8a8a8"/>
<line x1="33.5" y1="135.5" x2="36.0" y2="135.5" stroke="#a8a8a8"/>
<line x1="283.5" y1="135.5" x2="281.0" y2="135.5" stroke="#a8a8a8"/>
<text transform="translate(33.6,168.8) scale(1,1.15)" font-size="9.1" text-anchor="middle">1880</text>
<text transform="translate(70.6,168.8) scale(1,1.15)" font-size="9.1" text-anchor="middle">1900</text>
<text transform="translate(107.6,168.8) scale(1,1.15)" font-size="9.1" text-anchor="middle">1920</text>
<text transform="translate(144.6,168.8) scale(1,1.15)" font-size="9.1" text-anchor="middle">1940</text>
<text transform="translate(180.6,168.8) scale(1,1.15)" font-size="9.1" text-anchor="middle">1960</text>
<text transform="translate(217.6,168.8) scale(1,1.15)" font-size="9.1" text-anchor="middle">1980</text>
<text transform="translate(254.6,168.8) scale(1,1.15)" font-size="9.1" text-anchor="middle">2000</text>
<text transform="translate(28.5,30.8) scale(1,1.15)" font-size="9.1" text-anchor="end">1</text>
<text transform="translate(28.5,66.8) scale(1,1.15)" font-size="9.1" text-anchor="end">0.5</text>
<text transform="translate(28.5,102.8) scale(1,1.15)" font-size="9.1" text-anchor="end">0</text>
<text transform="translate(28.5,138.8) scale(1,1.15)" font-size="9.1" text-anchor="end">-0.5</text>
<text transform="translate(7.7,85.0) rotate(-90)" font-size="11" text-anchor="middle"><tspan font-size="8" dy="-1.7">º</tspan><tspan dx="0.5" dy="1.7">C</tspan></text>
<text x="158.5" y="9.2" font-size="10.5" font-weight="bold" text-anchor="middle">3-yr NH SST</text>
<text x="20.2" y="8.7" font-size="12.0" font-weight="bold" letter-spacing="1.9" fill="#000" stroke="#000" stroke-width="0.4">(a)</text>
<rect x="41.5" y="20.5" width="98.0" height="44.0" fill="#fff" stroke="#a8a8a8" stroke-width="1"/>
<line x1="42.8" y1="26.8" x2="62.5" y2="26.8" stroke="#2b78c2" stroke-width="2.0"/>
<text x="63.6" y="29.3" font-size="6.87">HadSST3</text>
<line x1="42.8" y1="37.3" x2="62.5" y2="37.3" stroke="#e3161c" stroke-width="2.2"/>
<text x="63.6" y="39.8" font-size="6.87">ERSSTv5</text>
<line x1="42.8" y1="47.9" x2="62.5" y2="47.9" stroke="#c6c6c6" stroke-width="1.3"/>
<text x="63.6" y="50.4" font-size="6.87">CMIP5</text>
<line x1="42.8" y1="58.6" x2="62.5" y2="58.6" stroke="#000" stroke-width="2.4"/>
<text x="63.6" y="61.1" font-size="6.87">CMIP5 ens. mean</text>
<line x1="70.5" y1="191.0" x2="70.5" y2="335.3" stroke="#efefef" stroke-width="1"/>
<line x1="107.5" y1="191.0" x2="107.5" y2="335.3" stroke="#efefef" stroke-width="1"/>
<line x1="144.5" y1="191.0" x2="144.5" y2="335.3" stroke="#efefef" stroke-width="1"/>
<line x1="180.5" y1="191.0" x2="180.5" y2="335.3" stroke="#efefef" stroke-width="1"/>
<line x1="217.5" y1="191.0" x2="217.5" y2="335.3" stroke="#efefef" stroke-width="1"/>
<line x1="254.5" y1="191.0" x2="254.5" y2="335.3" stroke="#efefef" stroke-width="1"/>
<line x1="33.5" y1="205.5" x2="283.5" y2="205.5" stroke="#efefef" stroke-width="1"/>
<line x1="33.5" y1="241.5" x2="283.5" y2="241.5" stroke="#efefef" stroke-width="1"/>
<line x1="33.5" y1="277.5" x2="283.5" y2="277.5" stroke="#efefef" stroke-width="1"/>
<line x1="33.5" y1="313.5" x2="283.5" y2="313.5" stroke="#efefef" stroke-width="1"/>
<polyline points="35.5,287.7 37.3,288.6 39.2,293.0 41.0,295.0 42.9,297.6 44.7,299.5 46.5,301.1 48.4,300.7 50.2,298.1 52.1,295.6 53.9,294.9 55.7,295.1 57.6,295.3 59.4,294.8 61.3,292.4 63.1,291.2 64.9,291.5 66.8,292.9 68.6,292.4 70.5,290.5 72.3,288.1 74.1,287.1 76.0,287.8 77.8,290.5 79.7,292.2 81.5,290.3 83.3,287.5 85.2,285.6 87.0,285.8 88.9,286.9 90.7,287.3 92.5,286.4 94.4,284.8 96.2,284.0 98.1,284.6 99.9,286.0 101.7,285.9 103.6,284.0 105.4,281.3 107.3,279.9 109.1,281.0 110.9,282.2 112.8,281.8 114.6,280.0 116.5,278.2 118.3,277.9 120.1,278.9 122.0,279.8 123.8,279.5 125.7,278.1 127.5,277.0 129.3,277.3 131.2,278.8 133.0,279.9 134.9,279.3 136.7,277.5 138.5,276.4 140.4,277.0 142.2,278.1 144.1,278.1 145.9,276.6 147.7,275.0 149.6,274.4 151.4,275.1 153.3,276.2 155.1,276.6 156.9,276.2 158.8,275.7 160.6,276.0 162.5,277.4 164.3,278.2 166.1,277.9 168.0,276.3 169.8,274.3 171.7,273.2 173.5,273.4 175.3,273.3 177.2,272.0 179.0,270.0 180.9,268.9 182.7,270.0 184.5,273.6 186.4,277.2 188.2,280.6 190.1,283.0 191.9,281.0 193.7,280.6 195.6,281.7 197.4,281.3 199.3,279.0 201.1,276.0 202.9,274.4 204.8,273.9 206.6,273.7 208.5,272.3 210.3,270.2 212.1,268.3 214.0,267.3 215.8,267.2 217.7,266.8 219.5,265.5 221.3,263.8 223.2,263.0 225.0,263.3 226.9,264.4 228.7,264.2 230.5,262.8 232.4,260.8 234.2,259.5 236.1,259.1 237.9,263.4 239.7,267.5 241.6,268.9 243.4,264.0 245.3,259.5 247.1,257.0 248.9,256.0 250.8,253.9 252.6,249.0 254.5,243.5 256.3,240.3 258.1,240.7 260.0,242.9 261.8,242.7 263.7,239.9 265.5,237.1 267.3,236.6 269.2,238.4 271.0,239.5 272.9,238.0 274.7,234.8" fill="none" stroke="#929292" stroke-width="0.75" stroke-linejoin="round" stroke-linecap="round" />
<polyline points="35.5,288.5 37.3,294.3 39.2,302.9 41.0,310.0 42.9,313.3 44.7,312.4 46.5,314.5 48.4,317.3 50.2,316.4 52.1,313.2 53.9,309.5 55.7,308.6 57.6,307.5 59.4,303.7 61.3,301.2 63.1,304.1 64.9,308.5 66.8,308.3 68.6,305.2 70.5,302.7 72.3,303.3 74.1,304.1 76.0,303.0 77.8,302.6 79.7,303.8 81.5,305.5 83.3,305.9 85.2,303.8 87.0,303.3 88.9,306.3 90.7,308.6 92.5,306.6 94.4,303.3 96.2,300.9 98.1,298.4 99.9,295.2 101.7,292.9 103.6,292.2 105.4,292.8 107.3,293.9 109.1,295.2 110.9,295.5 112.8,294.5 114.6,292.7 116.5,291.2 118.3,290.8 120.1,291.0 122.0,291.3 123.8,292.3 125.7,294.0 127.5,294.9 129.3,293.7 131.2,291.5 133.0,290.8 134.9,291.8 136.7,291.9 138.5,289.7 140.4,287.8 142.2,288.0 144.1,288.6 145.9,287.1 147.7,285.3 149.6,286.4 151.4,289.2 153.3,288.7 155.1,287.3 156.9,285.2 158.8,285.0 160.6,285.1 162.5,283.8 164.3,282.1 166.1,282.9 168.0,285.6 169.8,286.6 171.7,284.9 173.5,283.1 175.3,283.5 177.2,284.8 179.0,284.3 180.9,283.0 182.7,284.8 184.5,290.4 186.4,293.9 188.2,294.0 190.1,295.0 191.9,294.8 193.7,295.7 195.6,293.6 197.4,289.6 199.3,287.8 201.1,287.9 202.9,286.2 204.8,282.3 206.6,280.3 208.5,282.2 210.3,285.2 212.1,285.6 214.0,284.8 215.8,283.9 217.7,283.3 219.5,280.9 221.3,277.2 223.2,275.6 225.0,277.0 226.9,278.8 228.7,279.2 230.5,278.5 232.4,278.1 234.2,278.2 236.1,278.0 237.9,278.3 239.7,279.0 241.6,278.6 243.4,276.8 245.3,274.5 247.1,271.7 248.9,268.4 250.8,265.4 252.6,263.9 254.5,264.1 256.3,263.8 258.1,261.3 260.0,258.3 261.8,256.3 263.7,255.2 265.5,253.6 267.3,252.0 269.2,253.0 271.0,255.9 272.9,254.7 274.7,252.5" fill="none" stroke="#929292" stroke-width="0.75" stroke-linejoin="round" stroke-linecap="round" />
<polyline points="35.5,289.4 37.3,288.5 39.2,291.5 41.0,294.8 42.9,300.0 44.7,303.6 46.5,305.3 48.4,306.0 50.2,305.4 52.1,303.7 53.9,300.9 55.7,296.7 57.6,293.6 59.4,292.1 61.3,291.5 63.1,292.0 64.9,293.0 66.8,294.0 68.6,293.6 70.5,293.7 72.3,294.5 74.1,296.3 76.0,297.5 77.8,298.0 79.7,297.0 81.5,292.4 83.3,288.9 85.2,287.0 87.0,286.9 88.9,287.8 90.7,290.1 92.5,291.1 94.4,290.3 96.2,288.7 98.1,287.2 99.9,286.0 101.7,285.2 103.6,284.3 105.4,283.2 107.3,281.8 109.1,281.1 110.9,281.5 112.8,282.9 114.6,284.8 116.5,286.5 118.3,287.3 120.1,286.6 122.0,284.6 123.8,282.1 125.7,280.3 127.5,279.4 129.3,279.3 131.2,279.9 133.0,280.5 134.9,280.7 136.7,280.5 138.5,280.2 140.4,279.9 142.2,279.9 144.1,279.7 145.9,279.0 147.7,277.8 149.6,276.5 151.4,275.8 153.3,275.8 155.1,276.7 156.9,278.4 158.8,280.2 160.6,281.1 162.5,281.0 164.3,279.8 166.1,278.2 168.0,276.8 169.8,275.8 171.7,275.4 173.5,275.4 175.3,275.6 177.2,275.8 179.0,276.1 180.9,276.6 182.7,277.6 184.5,280.2 186.4,282.8 188.2,285.5 190.1,287.5 191.9,282.5 193.7,278.2 195.6,276.6 197.4,276.5 199.3,277.2 201.1,278.7 202.9,279.6 204.8,279.1 206.6,277.5 208.5,275.3 210.3,273.2 212.1,271.9 214.0,270.7 215.8,269.6 217.7,268.0 219.5,266.5 221.3,265.8 223.2,266.8 225.0,268.8 226.9,270.5 228.7,270.8 230.5,269.6 232.4,266.6 234.2,262.1 236.1,258.8 237.9,259.5 239.7,261.7 241.6,265.4 243.4,264.4 245.3,262.8 247.1,260.9 248.9,259.3 250.8,257.6 252.6,255.9 254.5,254.3 256.3,252.1 258.1,249.6 260.0,246.8 261.8,243.1 263.7,240.4 265.5,240.1 267.3,241.8 269.2,243.6 271.0,244.5 272.9,243.8 274.7,241.8" fill="none" stroke="#929292" stroke-width="0.75" stroke-linejoin="round" stroke-linecap="round" />
<polyline points="35.5,283.1 37.3,281.7 39.2,286.4 41.0,291.0 42.9,295.3 44.7,296.1 46.5,295.2 48.4,293.6 50.2,291.7 52.1,290.0 53.9,288.5 55.7,287.0 57.6,286.0 59.4,285.7 61.3,285.8 63.1,286.5 64.9,287.7 66.8,288.8 68.6,288.4 70.5,287.7 72.3,287.0 74.1,287.1 76.0,287.5 77.8,288.0 79.7,287.9 81.5,286.6 83.3,285.4 85.2,284.2 87.0,283.4 88.9,282.7 90.7,281.8 92.5,280.6 94.4,279.4 96.2,278.5 98.1,277.9 99.9,277.7 101.7,277.4 103.6,277.5 105.4,277.7 107.3,277.8 109.1,278.3 110.9,278.2 112.8,277.6 114.6,276.9 116.5,276.0 118.3,275.3 120.1,275.1 122.0,275.3 123.8,275.8 125.7,276.3 127.5,276.4 129.3,276.1 131.2,275.2 133.0,273.9 134.9,272.2 136.7,270.4 138.5,269.2 140.4,269.2 142.2,269.8 144.1,270.9 145.9,272.1 147.7,273.3 149.6,274.2 151.4,274.7 153.3,274.8 155.1,274.6 156.9,274.1 158.8,273.7 160.6,273.3 162.5,273.1 164.3,273.0 166.1,272.6 168.0,271.9 169.8,271.1 171.7,269.9 173.5,268.3 175.3,266.4 177.2,265.2 179.0,264.9 180.9,265.3 182.7,266.7 184.5,269.6 186.4,273.2 188.2,278.0 190.1,282.9 191.9,281.5 193.7,278.9 195.6,276.5 197.4,274.0 199.3,271.9 201.1,270.0 202.9,268.7 204.8,267.9 206.6,267.6 208.5,267.5 210.3,267.3 212.1,267.1 214.0,266.6 215.8,265.8 217.7,264.4 219.5,263.0 221.3,262.0 223.2,261.7 225.0,261.9 226.9,262.1 228.7,261.7 230.5,261.0 232.4,260.0 234.2,258.7 236.1,256.9 237.9,256.9 239.7,256.5 241.6,255.6 243.4,252.9 245.3,251.1 247.1,249.8 248.9,247.6 250.8,245.8 252.6,244.3 254.5,242.5 256.3,239.6 258.1,236.0 260.0,233.1 261.8,230.7 263.7,229.2 265.5,229.1 267.3,230.1 269.2,231.7 271.0,233.3 272.9,234.3 274.7,234.0" fill="none" stroke="#929292" stroke-width="0.75" stroke-linejoin="round" stroke-linecap="round" />
<polyline points="35.5,288.4 37.3,296.8 39.2,306.2 41.0,312.7 42.9,317.6 44.7,317.9 46.5,317.2 48.4,316.2 50.2,314.5 52.1,312.1 53.9,309.2 55.7,306.4 57.6,305.1 59.4,305.4 61.3,306.0 63.1,305.5 64.9,303.8 66.8,302.3 68.6,301.3 70.5,302.3 72.3,304.9 74.1,307.0 76.0,307.0 77.8,307.0 79.7,307.0 81.5,307.8 83.3,308.7 85.2,309.6 87.0,308.0 88.9,304.7 90.7,301.3 92.5,299.1 94.4,298.7 96.2,298.4 98.1,296.9 99.9,294.3 101.7,292.7 103.6,292.2 105.4,293.0 107.3,294.2 109.1,295.6 110.9,296.0 112.8,295.9 114.6,296.0 116.5,296.0 118.3,296.0 120.1,296.0 122.0,295.8 123.8,293.3 125.7,291.2 127.5,290.1 129.3,290.0 131.2,290.0 133.0,289.2 134.9,287.9 136.7,287.1 138.5,287.5 140.4,289.1 142.2,290.8 144.1,291.5 145.9,290.9 147.7,289.8 149.6,289.2 151.4,289.4 153.3,288.7 155.1,288.0 156.9,287.8 158.8,286.7 160.6,285.3 162.5,284.7 164.3,284.4 166.1,283.9 168.0,283.0 169.8,281.8 171.7,281.2 173.5,281.7 175.3,283.1 177.2,284.9 179.0,286.2 180.9,286.6 182.7,287.2 184.5,289.7 186.4,293.4 188.2,297.3 190.1,300.0 191.9,298.5 193.7,296.0 195.6,293.6 197.4,291.9 199.3,290.4 201.1,288.2 202.9,285.2 204.8,282.0 206.6,280.0 208.5,279.9 210.3,281.2 212.1,283.1 214.0,283.8 215.8,283.0 217.7,281.6 219.5,280.8 221.3,281.2 223.2,282.2 225.0,282.5 226.9,282.0 228.7,281.2 230.5,281.0 232.4,281.9 234.2,282.5 236.1,281.2 237.9,278.2 239.7,275.5 241.6,274.3 243.4,272.4 245.3,272.2 247.1,272.4 248.9,271.3 250.8,268.6 252.6,265.6 254.5,263.5 256.3,262.1 258.1,260.9 260.0,259.6 261.8,257.9 263.7,256.6 265.5,256.9 267.3,258.4 269.2,258.3 271.0,256.8 272.9,254.0 274.7,249.6" fill="none" stroke="#929292" stroke-width="0.75" stroke-linejoin="round" stroke-linecap="round" />
<polyline points="35.5,289.3 37.3,290.4 39.2,295.8 41.0,300.7 42.9,304.7 44.7,302.7 46.5,299.3 48.4,298.0 50.2,298.7 52.1,299.9 53.9,299.4 55.7,296.3 57.6,293.3 59.4,291.8 61.3,291.1 63.1,291.0 64.9,291.0 66.8,291.3 68.6,291.2 70.5,292.0 72.3,293.1 74.1,293.8 76.0,294.2 77.8,295.3 79.7,295.8 81.5,294.1 83.3,291.8 85.2,289.0 87.0,287.6 88.9,287.5 90.7,288.4 92.5,288.6 94.4,286.6 96.2,284.7 98.1,283.8 99.9,283.8 101.7,283.9 103.6,283.1 105.4,281.5 107.3,280.3 109.1,280.8 110.9,281.7 112.8,281.7 114.6,281.0 116.5,280.7 118.3,281.5 120.1,283.4 122.0,285.0 123.8,285.2 125.7,284.3 127.5,283.3 129.3,282.4 131.2,281.2 133.0,279.1 134.9,276.6 136.7,274.9 138.5,275.1 140.4,276.4 142.2,277.2 144.1,276.7 145.9,275.9 147.7,275.8 149.6,276.3 151.4,276.8 153.3,276.8 155.1,276.8 156.9,277.5 158.8,279.0 160.6,280.4 162.5,280.7 164.3,279.7 166.1,278.3 168.0,277.2 169.8,276.4 171.7,275.3 173.5,273.4 175.3,271.3 177.2,270.9 179.0,272.0 180.9,273.2 182.7,273.7 184.5,274.7 186.4,276.8 188.2,281.9 190.1,288.0 191.9,287.2 193.7,285.2 195.6,283.4 197.4,281.8 199.3,280.4 201.1,278.3 202.9,275.1 204.8,272.5 206.6,270.9 208.5,270.4 210.3,270.3 212.1,270.1 214.0,269.3 215.8,268.4 217.7,267.5 219.5,266.7 221.3,266.2 223.2,266.2 225.0,266.4 226.9,266.7 228.7,267.0 230.5,267.8 232.4,267.3 234.2,265.1 236.1,262.4 237.9,263.5 239.7,265.7 241.6,267.3 243.4,262.3 245.3,258.0 247.1,255.5 248.9,254.5 250.8,253.3 252.6,250.6 254.5,247.0 256.3,244.5 258.1,244.5 260.0,245.7 261.8,245.5 263.7,243.9 265.5,242.8 267.3,242.9 269.2,242.8 271.0,241.7 272.9,239.2 274.7,236.9" fill="none" stroke="#929292" stroke-width="0.75" stroke-linejoin="round" stroke-linecap="round" />
<polyline points="35.5,289.5 37.3,289.1 39.2,293.7 41.0,297.9 42.9,302.0 44.7,302.5 46.5,301.6 48.4,300.6 50.2,299.5 52.1,298.8 53.9,298.0 55.7,296.0 57.6,294.2 59.4,293.1 61.3,292.8 63.1,293.7 64.9,295.1 66.8,296.4 68.6,296.0 70.5,295.5 72.3,295.0 74.1,295.1 76.0,295.6 77.8,296.5 79.7,295.9 81.5,292.4 83.3,289.3 85.2,286.8 87.0,285.5 88.9,285.1 90.7,285.1 92.5,285.5 94.4,286.1 96.2,287.8 98.1,288.9 99.9,289.0 101.7,288.7 103.6,287.7 105.4,286.2 107.3,284.6 109.1,283.2 110.9,281.8 112.8,280.8 114.6,280.4 116.5,280.3 118.3,280.6 120.1,281.3 122.0,282.0 123.8,282.9 125.7,283.6 127.5,284.0 129.3,283.9 131.2,283.4 133.0,282.6 134.9,281.5 136.7,280.3 138.5,279.1 140.4,278.0 142.2,277.0 144.1,276.3 145.9,275.8 147.7,275.6 149.6,275.7 151.4,275.9 153.3,276.2 155.1,276.6 156.9,277.3 158.8,278.2 160.6,279.0 162.5,279.7 164.3,279.9 166.1,280.0 168.0,279.8 169.8,279.4 171.7,278.7 173.5,277.7 175.3,276.6 177.2,275.4 179.0,274.2 180.9,273.3 182.7,272.9 184.5,274.2 186.4,276.2 188.2,280.0 190.1,284.6 191.9,283.5 193.7,282.0 195.6,281.4 197.4,280.6 199.3,279.6 201.1,278.4 202.9,277.1 204.8,275.7 206.6,274.4 208.5,273.2 210.3,272.1 212.1,271.6 214.0,271.1 215.8,270.6 217.7,269.5 219.5,268.3 221.3,267.4 223.2,267.6 225.0,268.0 226.9,267.2 228.7,265.3 230.5,263.5 232.4,262.2 234.2,261.2 236.1,260.7 237.9,263.5 239.7,266.6 241.6,269.1 243.4,265.9 245.3,262.3 247.1,258.5 248.9,255.5 250.8,252.1 252.6,248.9 254.5,246.3 256.3,244.6 258.1,244.3 260.0,245.5 261.8,246.6 263.7,247.3 265.5,247.9 267.3,248.1 269.2,247.7 271.0,246.3 272.9,244.0 274.7,241.4" fill="none" stroke="#929292" stroke-width="0.75" stroke-linejoin="round" stroke-linecap="round" />
<polyline points="35.5,284.8 37.3,283.0 39.2,285.8 41.0,287.7 42.9,289.5 44.7,288.8 46.5,287.6 48.4,286.0 50.2,284.2 52.1,282.8 53.9,282.0 55.7,282.0 57.6,282.5 59.4,283.1 61.3,283.5 63.1,283.8 64.9,284.3 66.8,285.1 68.6,285.4 70.5,285.8 72.3,286.0 74.1,286.8 76.0,287.6 77.8,288.2 79.7,287.8 81.5,286.1 83.3,284.6 85.2,282.9 87.0,281.4 88.9,280.0 90.7,278.6 92.5,277.2 94.4,276.3 96.2,275.7 98.1,275.3 99.9,274.8 101.7,273.5 103.6,272.3 105.4,271.6 107.3,271.7 109.1,273.6 110.9,275.0 112.8,275.7 114.6,275.9 116.5,275.7 118.3,275.4 120.1,275.4 122.0,275.3 123.8,275.0 125.7,274.1 127.5,272.6 129.3,271.0 131.2,269.8 133.0,269.0 134.9,268.5 136.7,268.1 138.5,267.7 140.4,268.0 142.2,268.6 144.1,269.4 145.9,270.4 147.7,271.3 149.6,271.9 151.4,272.2 153.3,272.2 155.1,272.2 156.9,272.2 158.8,272.3 160.6,272.3 162.5,272.1 164.3,271.3 166.1,269.9 168.0,268.2 169.8,266.7 171.7,265.6 173.5,264.8 175.3,263.8 177.2,263.6 179.0,263.9 180.9,264.7 182.7,266.1 184.5,268.6 186.4,271.2 188.2,274.3 190.1,277.0 191.9,275.5 193.7,274.0 195.6,273.2 197.4,272.5 199.3,271.7 201.1,270.3 202.9,268.7 204.8,267.1 206.6,265.8 208.5,264.8 210.3,264.1 212.1,263.4 214.0,262.5 215.8,261.7 217.7,261.0 219.5,260.6 221.3,260.5 223.2,260.9 225.0,261.6 226.9,261.7 228.7,260.7 230.5,259.5 232.4,258.6 234.2,257.7 236.1,256.7 237.9,257.4 239.7,257.8 241.6,257.0 243.4,253.0 245.3,249.7 247.1,246.9 248.9,241.7 250.8,236.2 252.6,230.8 254.5,226.9 256.3,223.7 258.1,221.9 260.0,223.2 261.8,225.0 263.7,226.6 265.5,227.8 267.3,228.7 269.2,229.6 271.0,231.1 272.9,232.6 274.7,233.4" fill="none" stroke="#929292" stroke-width="0.75" stroke-linejoin="round" stroke-linecap="round" />
<polyline points="35.5,288.0 37.3,287.2 39.2,291.3 41.0,295.1 42.9,299.2 44.7,300.7 46.5,301.3 48.4,301.7 50.2,301.3 52.1,300.8 53.9,299.7 55.7,297.0 57.6,294.6 59.4,293.3 61.3,293.1 63.1,294.2 64.9,295.6 66.8,296.5 68.6,295.3 70.5,293.3 72.3,291.2 74.1,290.9 76.0,291.6 77.8,293.1 79.7,294.0 81.5,292.7 83.3,291.1 85.2,288.8 87.0,287.0 88.9,285.5 90.7,284.0 92.5,282.9 94.4,282.3 96.2,282.6 98.1,283.6 99.9,284.8 101.7,286.0 103.6,286.3 105.4,286.1 107.3,285.5 109.1,285.3 110.9,285.2 112.8,285.4 114.6,285.5 116.5,285.4 118.3,284.7 120.1,283.3 122.0,281.5 123.8,279.7 125.7,278.3 127.5,277.2 129.3,276.7 131.2,276.8 133.0,277.3 134.9,277.8 136.7,278.0 138.5,277.7 140.4,277.1 142.2,276.6 144.1,276.4 145.9,276.6 147.7,277.3 149.6,278.3 151.4,278.9 153.3,279.1 155.1,278.7 156.9,278.2 158.8,277.7 160.6,277.4 162.5,277.4 164.3,277.5 166.1,277.7 168.0,277.9 169.8,277.8 171.7,277.3 173.5,276.5 175.3,275.3 177.2,274.4 179.0,274.2 180.9,274.4 182.7,275.0 184.5,276.7 186.4,278.3 188.2,280.6 190.1,282.2 191.9,278.7 193.7,276.0 195.6,275.2 197.4,275.2 199.3,275.7 201.1,276.2 202.9,277.2 204.8,277.6 206.6,277.2 208.5,276.1 210.3,274.7 212.1,273.8 214.0,273.0 215.8,272.3 217.7,271.0 219.5,269.3 221.3,267.4 223.2,266.8 225.0,265.9 226.9,264.0 228.7,261.8 230.5,260.4 232.4,259.6 234.2,259.2 236.1,258.7 237.9,261.1 239.7,263.9 241.6,266.1 243.4,262.6 245.3,259.4 247.1,256.8 248.9,255.7 250.8,255.3 252.6,254.7 254.5,253.7 256.3,251.9 258.1,249.8 260.0,247.8 261.8,246.0 263.7,244.7 265.5,243.9 267.3,243.6 269.2,243.2 271.0,242.4 272.9,240.9 274.7,238.8" fill="none" stroke="#929292" stroke-width="0.75" stroke-linejoin="round" stroke-linecap="round" />
<polyline points="35.5,289.5 37.3,289.4 39.2,293.4 41.0,296.0 42.9,298.3 44.7,298.2 46.5,298.3 48.4,298.8 50.2,299.1 52.1,298.8 53.9,297.5 55.7,294.3 57.6,291.4 59.4,289.8 61.3,289.4 63.1,290.5 64.9,292.5 66.8,294.8 68.6,294.4 70.5,292.8 72.3,290.4 74.1,289.7 76.0,289.6 77.8,290.4 79.7,291.4 81.5,291.1 83.3,290.5 85.2,289.1 87.0,287.7 88.9,286.4 90.7,285.1 92.5,284.2 94.4,283.9 96.2,284.3 98.1,285.3 99.9,286.0 101.7,285.6 103.6,284.1 105.4,281.7 107.3,279.0 109.1,277.9 110.9,278.1 112.8,279.3 114.6,280.8 116.5,281.8 118.3,282.1 120.1,281.7 122.0,280.8 123.8,279.9 125.7,279.4 127.5,279.2 129.3,279.3 131.2,279.5 133.0,279.2 134.9,278.4 136.7,277.0 138.5,275.7 140.4,275.1 142.2,275.3 144.1,276.1 145.9,277.1 147.7,278.2 149.6,278.5 151.4,277.9 153.3,276.9 155.1,275.9 156.9,275.2 158.8,275.1 160.6,275.4 162.5,275.9 164.3,276.1 166.1,275.8 168.0,275.0 169.8,274.0 171.7,273.2 173.5,273.2 175.3,274.0 177.2,275.8 179.0,277.1 180.9,277.8 182.7,277.6 184.5,277.7 186.4,277.4 188.2,278.5 190.1,280.5 191.9,279.1 193.7,278.4 195.6,278.4 197.4,277.7 199.3,276.4 201.1,274.5 202.9,272.7 204.8,271.4 206.6,270.8 208.5,270.7 210.3,270.9 212.1,271.5 214.0,271.5 215.8,270.1 217.7,267.9 219.5,265.9 221.3,264.7 223.2,265.1 225.0,266.6 226.9,267.6 228.7,267.5 230.5,266.2 232.4,263.2 234.2,260.1 236.1,257.3 237.9,257.2 239.7,258.4 241.6,261.2 243.4,261.1 245.3,260.3 247.1,258.3 248.9,256.0 250.8,252.4 252.6,248.2 254.5,245.3 256.3,244.3 258.1,245.8 260.0,247.6 261.8,248.0 263.7,246.9 265.5,244.1 267.3,238.9 269.2,233.7 271.0,230.8 272.9,230.8 274.7,232.8" fill="none" stroke="#929292" stroke-width="0.75" stroke-linejoin="round" stroke-linecap="round" />
<polyline points="35.5,288.3 37.3,287.6 39.2,294.1 41.0,300.2 42.9,304.8 44.7,304.7 46.5,302.6 48.4,301.1 50.2,300.9 52.1,301.9 53.9,302.1 55.7,298.9 57.6,293.7 59.4,290.6 61.3,289.8 63.1,290.7 64.9,291.6 66.8,291.8 68.6,290.7 70.5,290.5 72.3,291.6 74.1,294.4 76.0,296.5 77.8,297.5 79.7,296.6 81.5,292.5 83.3,290.3 85.2,289.4 87.0,288.9 88.9,287.8 90.7,286.1 92.5,285.3 94.4,285.6 96.2,286.8 98.1,286.3 99.9,284.5 101.7,282.8 103.6,281.7 105.4,282.1 107.3,283.6 109.1,285.0 110.9,285.1 112.8,283.6 114.6,282.0 116.5,281.7 118.3,282.3 120.1,281.7 122.0,279.9 123.8,278.5 125.7,278.9 127.5,280.5 129.3,282.3 131.2,283.3 133.0,283.3 134.9,282.0 136.7,279.8 138.5,278.4 140.4,278.6 142.2,278.5 144.1,276.8 145.9,274.9 147.7,274.9 149.6,276.5 151.4,278.1 153.3,278.2 155.1,277.4 156.9,277.0 158.8,276.7 160.6,276.6 162.5,277.4 164.3,278.3 166.1,278.4 168.0,277.3 169.8,276.4 171.7,277.2 173.5,278.2 175.3,277.4 177.2,274.8 179.0,272.4 180.9,272.2 182.7,273.0 184.5,275.5 186.4,279.1 188.2,284.2 190.1,287.9 191.9,284.5 193.7,282.4 195.6,282.9 197.4,281.7 199.3,277.4 201.1,273.8 202.9,272.6 204.8,272.9 206.6,272.8 208.5,272.1 210.3,271.5 212.1,271.2 214.0,270.1 215.8,269.1 217.7,268.7 219.5,269.2 221.3,267.7 223.2,266.4 225.0,266.4 226.9,268.2 228.7,269.5 230.5,267.5 232.4,263.5 234.2,260.9 236.1,259.0 237.9,259.8 239.7,261.5 241.6,265.1 243.4,263.4 245.3,259.3 247.1,255.9 248.9,256.4 250.8,258.8 252.6,257.7 254.5,252.7 256.3,247.3 258.1,245.1 260.0,244.6 261.8,242.7 263.7,241.6 265.5,242.2 267.3,241.5 269.2,238.9 271.0,238.6 272.9,241.1 274.7,241.6" fill="none" stroke="#929292" stroke-width="0.75" stroke-linejoin="round" stroke-linecap="round" />
<polyline points="35.5,288.8 37.3,294.1 39.2,302.9 41.0,309.7 42.9,314.2 44.7,314.5 46.5,314.9 48.4,314.9 50.2,313.7 52.1,311.1 53.9,308.5 55.7,306.7 57.6,306.4 59.4,306.1 61.3,304.5 63.1,302.2 64.9,301.1 66.8,302.0 68.6,303.3 70.5,304.8 72.3,305.6 74.1,305.7 76.0,305.7 77.8,305.7 79.7,305.1 81.5,303.7 83.3,301.6 85.2,300.3 87.0,301.5 88.9,303.5 90.7,303.0 92.5,299.3 94.4,296.0 96.2,295.6 98.1,297.1 99.9,298.0 101.7,297.9 103.6,296.2 105.4,294.2 107.3,293.0 109.1,293.0 110.9,292.4 112.8,290.9 114.6,289.5 116.5,289.4 118.3,290.9 120.1,292.7 122.0,293.3 123.8,292.6 125.7,291.7 127.5,291.9 129.3,292.8 131.2,293.5 133.0,292.9 134.9,291.5 136.7,289.9 138.5,288.6 140.4,287.1 142.2,285.2 144.1,283.7 145.9,283.6 147.7,285.2 149.6,287.1 151.4,287.7 153.3,286.7 155.1,285.2 156.9,285.0 158.8,285.8 160.6,286.7 162.5,286.5 164.3,285.2 166.1,283.8 168.0,283.0 169.8,282.9 171.7,282.7 173.5,282.0 175.3,281.4 177.2,282.0 179.0,284.0 180.9,286.2 182.7,288.1 184.5,289.7 186.4,290.6 188.2,292.6 190.1,295.6 191.9,294.1 193.7,291.8 195.6,289.4 197.4,287.3 199.3,286.1 201.1,285.3 202.9,284.3 204.8,283.1 206.6,283.0 208.5,284.2 210.3,285.8 212.1,285.6 214.0,284.6 215.8,281.5 217.7,279.0 219.5,278.2 221.3,278.7 223.2,278.8 225.0,277.7 226.9,276.0 228.7,274.9 230.5,275.4 232.4,276.3 234.2,276.2 236.1,275.2 237.9,276.2 239.7,278.6 241.6,279.4 243.4,277.8 245.3,274.2 247.1,269.3 248.9,265.5 250.8,263.7 252.6,262.7 254.5,261.6 256.3,260.0 258.1,258.8 260.0,258.7 261.8,258.6 263.7,257.5 265.5,256.0 267.3,254.9 269.2,255.1 271.0,255.1 272.9,253.3 274.7,249.5" fill="none" stroke="#929292" stroke-width="0.75" stroke-linejoin="round" stroke-linecap="round" />
<polyline points="35.5,286.2 37.3,286.1 39.2,292.2 41.0,298.3 42.9,304.5 44.7,305.8 46.5,305.5 48.4,304.9 50.2,304.1 52.1,303.5 53.9,302.7 55.7,300.6 57.6,298.4 59.4,296.6 61.3,295.0 63.1,294.1 64.9,293.8 66.8,293.6 68.6,291.9 70.5,290.4 72.3,289.3 74.1,289.9 76.0,291.2 77.8,293.1 79.7,294.0 81.5,292.7 83.3,291.3 85.2,289.7 87.0,288.9 88.9,289.1 90.7,289.3 92.5,289.1 94.4,288.7 96.2,288.1 98.1,287.5 99.9,286.7 101.7,285.9 103.6,285.0 105.4,284.2 107.3,283.6 109.1,283.4 110.9,283.3 112.8,283.3 114.6,283.4 116.5,283.4 118.3,283.5 120.1,283.4 122.0,283.1 123.8,282.7 125.7,282.1 127.5,281.4 129.3,280.4 131.2,279.3 133.0,278.3 134.9,277.4 136.7,276.8 138.5,276.5 140.4,276.7 142.2,277.0 144.1,277.4 145.9,278.0 147.7,278.9 149.6,279.6 151.4,280.1 153.3,280.4 155.1,280.4 156.9,280.5 158.8,280.3 160.6,280.0 162.5,279.6 164.3,278.7 166.1,277.8 168.0,276.8 169.8,275.5 171.7,274.3 173.5,273.0 175.3,272.0 177.2,271.6 179.0,271.9 180.9,272.5 182.7,273.5 184.5,275.9 186.4,278.9 188.2,283.7 190.1,288.5 191.9,287.2 193.7,285.9 195.6,285.2 197.4,284.1 199.3,282.6 201.1,280.8 202.9,278.8 204.8,276.5 206.6,274.1 208.5,272.0 210.3,270.3 212.1,269.2 214.0,268.3 215.8,267.5 217.7,266.7 219.5,266.0 221.3,265.9 223.2,267.0 225.0,268.5 226.9,269.0 228.7,268.2 230.5,267.3 232.4,266.2 234.2,264.8 236.1,263.0 237.9,263.9 239.7,265.6 241.6,267.6 243.4,264.0 245.3,260.5 247.1,257.5 248.9,255.8 250.8,254.4 252.6,253.1 254.5,251.8 256.3,250.4 258.1,249.2 260.0,248.3 261.8,247.2 263.7,246.0 265.5,244.6 267.3,243.1 269.2,241.6 271.0,240.1 272.9,238.8 274.7,237.8" fill="none" stroke="#929292" stroke-width="0.75" stroke-linejoin="round" stroke-linecap="round" />
<polyline points="35.5,289.2 37.3,290.4 39.2,295.3 41.0,300.5 42.9,306.7 44.7,308.9 46.5,308.3 48.4,305.4 50.2,301.8 52.1,300.2 53.9,300.6 55.7,300.8 57.6,300.0 59.4,298.1 61.3,296.2 63.1,296.8 64.9,299.3 66.8,301.2 68.6,300.2 70.5,296.8 72.3,293.1 74.1,292.5 76.0,295.0 77.8,298.6 79.7,300.1 81.5,298.9 83.3,296.3 85.2,293.1 87.0,291.1 88.9,290.0 90.7,288.7 92.5,287.5 94.4,287.2 96.2,288.4 98.1,289.9 99.9,290.3 101.7,289.6 103.6,288.2 105.4,286.9 107.3,286.4 109.1,286.7 110.9,286.7 112.8,286.3 114.6,285.8 116.5,286.0 118.3,286.9 120.1,287.7 122.0,287.4 123.8,285.8 125.7,283.5 127.5,281.9 129.3,281.5 131.2,282.3 133.0,283.4 134.9,283.9 136.7,283.7 138.5,282.8 140.4,281.5 142.2,280.1 144.1,279.2 145.9,278.9 147.7,279.5 149.6,280.3 151.4,280.8 153.3,280.8 155.1,280.5 156.9,280.7 158.8,281.0 160.6,281.2 162.5,280.9 164.3,279.9 166.1,279.0 168.0,278.8 169.8,279.4 171.7,280.1 173.5,280.3 175.3,279.5 177.2,278.1 179.0,277.0 180.9,276.4 182.7,276.6 184.5,278.5 186.4,281.0 188.2,285.1 190.1,289.6 191.9,288.3 193.7,286.2 195.6,283.8 197.4,281.1 199.3,279.5 201.1,279.4 202.9,280.2 204.8,280.3 206.6,279.1 208.5,277.2 210.3,275.9 212.1,276.0 214.0,276.3 215.8,275.3 217.7,271.9 219.5,267.9 221.3,266.6 223.2,268.4 225.0,271.8 226.9,273.2 228.7,271.3 230.5,267.1 232.4,263.2 234.2,261.8 236.1,262.5 237.9,266.0 239.7,268.6 241.6,270.4 243.4,268.2 245.3,267.1 247.1,266.3 248.9,264.0 250.8,259.9 252.6,255.6 254.5,253.1 256.3,252.5 258.1,252.7 260.0,251.9 261.8,249.6 263.7,247.4 265.5,246.8 267.3,247.4 269.2,247.3 271.0,244.7 272.9,240.6 274.7,237.3" fill="none" stroke="#929292" stroke-width="0.75" stroke-linejoin="round" stroke-linecap="round" />
<polyline points="35.5,278.6 37.3,276.8 39.2,281.9 41.0,286.6 42.9,290.7 44.7,291.7 46.5,292.1 48.4,292.0 50.2,290.9 52.1,289.1 53.9,287.1 55.7,285.5 57.6,285.1 59.4,285.3 61.3,285.0 63.1,284.2 64.9,283.1 66.8,282.2 68.6,282.2 70.5,283.0 72.3,284.1 74.1,285.5 76.0,286.8 77.8,287.9 79.7,288.4 81.5,287.1 83.3,285.2 85.2,282.8 87.0,280.7 88.9,279.5 90.7,278.9 92.5,278.6 94.4,278.3 96.2,277.5 98.1,276.2 99.9,275.1 101.7,274.4 103.6,274.9 105.4,275.8 107.3,275.9 109.1,275.7 110.9,274.6 112.8,273.7 114.6,273.2 116.5,272.5 118.3,271.7 120.1,271.3 122.0,271.6 123.8,273.1 125.7,274.8 127.5,275.8 129.3,275.5 131.2,273.8 133.0,271.7 134.9,270.3 136.7,270.0 138.5,270.4 140.4,271.0 142.2,270.6 144.1,269.8 145.9,269.2 147.7,269.0 149.6,268.9 151.4,269.0 153.3,269.3 155.1,270.2 156.9,271.6 158.8,273.5 160.6,275.0 162.5,275.1 164.3,273.6 166.1,271.0 168.0,268.3 169.8,266.6 171.7,265.9 173.5,265.8 175.3,265.6 177.2,265.8 179.0,266.4 180.9,266.7 182.7,266.8 184.5,267.2 186.4,267.3 188.2,268.6 190.1,271.8 191.9,274.0 193.7,275.3 195.6,275.3 197.4,273.4 199.3,270.8 201.1,268.5 202.9,267.0 204.8,266.6 206.6,266.5 208.5,266.4 210.3,266.2 212.1,265.9 214.0,265.5 215.8,264.6 217.7,262.8 219.5,260.8 221.3,259.2 223.2,258.7 225.0,259.9 226.9,261.8 228.7,262.3 230.5,261.0 232.4,258.7 234.2,256.2 236.1,253.9 237.9,253.1 239.7,252.5 241.6,251.9 243.4,250.5 245.3,249.7 247.1,248.9 248.9,246.1 250.8,242.1 252.6,236.7 254.5,231.9 256.3,228.9 258.1,229.2 260.0,233.0 261.8,236.0 263.7,236.0 265.5,233.2 267.3,228.9 269.2,225.0 271.0,222.8 272.9,222.2 274.7,222.4" fill="none" stroke="#929292" stroke-width="0.75" stroke-linejoin="round" stroke-linecap="round" />
<polyline points="35.5,289.2 37.3,289.8 39.2,295.2 41.0,299.5 42.9,304.4 44.7,305.7 46.5,304.8 48.4,302.3 50.2,297.4 52.1,293.2 53.9,290.9 55.7,289.8 57.6,289.2 59.4,288.7 61.3,288.4 63.1,289.3 64.9,291.6 66.8,294.7 68.6,295.2 70.5,293.9 72.3,291.9 74.1,291.7 76.0,293.4 77.8,295.8 79.7,295.9 81.5,292.2 83.3,288.7 85.2,286.5 87.0,285.8 88.9,285.5 90.7,284.6 92.5,283.3 94.4,282.4 96.2,282.8 98.1,284.2 99.9,285.3 101.7,284.9 103.6,283.5 105.4,282.0 107.3,281.6 109.1,282.0 110.9,281.7 112.8,280.7 114.6,279.9 116.5,280.2 118.3,281.4 120.1,282.4 122.0,282.2 123.8,280.9 125.7,279.3 127.5,278.3 129.3,278.0 131.2,277.6 133.0,276.8 134.9,275.7 136.7,275.6 138.5,276.9 140.4,278.6 142.2,279.2 144.1,278.1 145.9,276.6 147.7,275.9 149.6,276.0 151.4,276.4 153.3,276.4 155.1,275.9 156.9,275.6 158.8,276.0 160.6,276.9 162.5,277.6 164.3,277.0 166.1,275.6 168.0,274.4 169.8,274.0 171.7,274.4 173.5,274.7 175.3,273.8 177.2,272.7 179.0,272.4 180.9,273.3 182.7,274.6 184.5,276.5 186.4,277.8 188.2,280.7 190.1,285.1 191.9,284.7 193.7,283.7 195.6,282.1 197.4,278.9 199.3,275.9 201.1,273.8 202.9,272.5 204.8,271.1 206.6,269.6 208.5,268.3 210.3,267.7 212.1,268.4 214.0,269.6 215.8,270.7 217.7,270.0 219.5,268.4 221.3,267.5 223.2,268.5 225.0,269.3 226.9,268.0 228.7,264.9 230.5,262.1 232.4,260.5 234.2,259.6 236.1,258.6 237.9,259.7 239.7,260.3 241.6,260.9 243.4,259.1 245.3,258.1 247.1,256.6 248.9,254.6 250.8,252.0 252.6,250.0 254.5,249.6 256.3,249.1 258.1,247.5 260.0,244.4 261.8,241.3 263.7,240.3 265.5,241.4 267.3,242.5 269.2,241.6 271.0,238.9 272.9,236.4 274.7,235.2" fill="none" stroke="#929292" stroke-width="0.75" stroke-linejoin="round" stroke-linecap="round" />
<polyline points="35.5,289.5 37.3,289.0 39.2,293.8 41.0,299.1 42.9,304.7 44.7,305.4 46.5,303.6 48.4,301.0 50.2,299.2 52.1,299.1 53.9,299.3 55.7,297.6 57.6,295.1 59.4,292.8 61.3,291.5 63.1,291.7 64.9,292.7 66.8,293.4 68.6,291.6 70.5,289.7 72.3,288.7 74.1,289.7 76.0,292.0 77.8,294.6 79.7,295.3 81.5,293.0 83.3,291.3 85.2,290.1 87.0,290.5 88.9,291.3 90.7,290.7 92.5,288.9 94.4,287.6 96.2,287.3 98.1,287.5 99.9,286.8 101.7,285.2 103.6,283.2 105.4,281.3 107.3,280.3 109.1,280.6 110.9,280.6 112.8,279.9 114.6,279.2 116.5,279.0 118.3,279.6 120.1,280.8 122.0,281.6 123.8,281.8 125.7,281.5 127.5,281.6 129.3,282.1 131.2,282.9 133.0,283.1 134.9,282.4 136.7,281.1 138.5,280.0 140.4,279.6 142.2,279.6 144.1,279.1 145.9,277.9 147.7,276.6 149.6,275.9 151.4,275.8 153.3,276.2 155.1,276.3 156.9,276.0 158.8,275.6 160.6,275.4 162.5,275.8 164.3,276.3 166.1,276.5 168.0,276.2 169.8,275.6 171.7,275.4 173.5,276.0 175.3,276.8 177.2,277.6 179.0,278.0 180.9,277.9 182.7,278.0 184.5,280.0 186.4,282.7 188.2,286.0 190.1,288.5 191.9,284.4 193.7,280.3 195.6,278.3 197.4,276.9 199.3,275.5 201.1,273.8 202.9,272.0 204.8,270.7 206.6,270.2 208.5,270.2 210.3,270.1 212.1,269.9 214.0,269.6 215.8,269.4 217.7,269.5 219.5,270.4 221.3,271.2 223.2,271.8 225.0,271.6 226.9,270.4 228.7,268.8 230.5,267.4 232.4,265.8 234.2,262.9 236.1,259.5 237.9,260.2 239.7,262.0 241.6,264.4 243.4,261.6 245.3,258.1 247.1,254.5 248.9,251.4 250.8,249.5 252.6,249.0 254.5,248.7 256.3,247.3 258.1,245.4 260.0,244.5 261.8,245.1 263.7,245.8 265.5,245.9 267.3,245.1 269.2,243.7 271.0,242.3 272.9,241.6 274.7,241.2" fill="none" stroke="#929292" stroke-width="0.75" stroke-linejoin="round" stroke-linecap="round" />
<polyline points="35.5,278.2 37.3,273.1 39.2,275.3 41.0,283.0 42.9,289.8 44.7,288.2 46.5,287.7 48.4,291.6 50.2,292.8 52.1,289.2 53.9,286.8 55.7,287.7 57.6,287.0 59.4,283.6 61.3,281.7 63.1,282.6 64.9,283.0 66.8,280.6 68.6,280.1 70.5,281.0 72.3,282.0 74.1,280.6 76.0,280.1 77.8,283.5 79.7,285.8 81.5,283.0 83.3,281.4 85.2,282.8 87.0,283.1 88.9,280.8 90.7,279.2 92.5,279.9 94.4,279.8 96.2,277.0 98.1,275.1 99.9,276.1 101.7,275.7 103.6,271.7 105.4,268.5 107.3,269.8 109.1,271.6 110.9,269.5 112.8,268.8 114.6,271.7 116.5,272.9 118.3,270.9 120.1,269.9 122.0,272.1 123.8,273.3 125.7,271.5 127.5,269.9 129.3,271.5 131.2,272.3 133.0,269.9 134.9,268.3 136.7,270.2 138.5,271.4 140.4,269.6 142.2,268.7 144.1,270.8 145.9,271.8 147.7,270.0 149.6,269.0 151.4,270.4 153.3,271.0 155.1,269.4 156.9,268.2 158.8,269.2 160.6,269.9 162.5,268.2 164.3,268.0 166.1,268.2 168.0,268.4 169.8,266.0 171.7,264.4 173.5,266.3 175.3,267.7 177.2,266.0 179.0,265.5 180.9,268.4 182.7,270.2 184.5,268.9 186.4,268.3 188.2,271.8 190.1,274.4 191.9,269.3 193.7,266.4 195.6,267.7 197.4,268.2 199.3,266.1 201.1,265.7 202.9,266.2 204.8,267.0 206.6,265.5 208.5,264.7 210.3,265.9 212.1,266.6 214.0,264.9 215.8,263.5 217.7,263.9 219.5,263.5 221.3,261.0 223.2,259.0 225.0,259.3 226.9,259.0 228.7,255.6 230.5,253.7 232.4,253.9 234.2,254.0 236.1,252.0 237.9,250.9 239.7,253.4 241.6,256.2 243.4,252.3 245.3,249.3 247.1,249.7 248.9,247.5 250.8,240.4 252.6,233.7 254.5,233.7 256.3,232.5 258.1,225.4 260.0,221.4 261.8,224.4 263.7,226.4 265.5,222.7 267.3,220.6 269.2,224.6 271.0,227.6 272.9,225.2 274.7,224.0" fill="none" stroke="#929292" stroke-width="0.75" stroke-linejoin="round" stroke-linecap="round" />
<polyline points="35.5,286.1 37.3,284.9 39.2,290.7 41.0,296.9 42.9,301.8 44.7,301.1 46.5,298.7 48.4,297.7 50.2,298.0 52.1,298.7 53.9,298.0 55.7,294.9 57.6,292.3 59.4,291.2 61.3,290.7 63.1,290.5 64.9,289.6 66.8,288.3 68.6,286.9 70.5,287.3 72.3,288.8 74.1,291.3 76.0,293.6 77.8,295.5 79.7,296.1 81.5,294.6 83.3,292.7 85.2,289.7 87.0,286.9 88.9,284.9 90.7,283.9 92.5,283.6 94.4,283.4 96.2,282.7 98.1,281.7 99.9,281.0 101.7,280.8 103.6,281.3 105.4,281.4 107.3,280.8 109.1,280.8 110.9,281.7 112.8,283.2 114.6,283.8 116.5,282.8 118.3,280.6 120.1,278.5 122.0,277.9 123.8,278.5 125.7,279.2 127.5,279.0 129.3,278.1 131.2,277.6 133.0,278.1 134.9,279.0 136.7,279.0 138.5,277.4 140.4,275.4 142.2,274.3 144.1,274.5 145.9,275.2 147.7,275.7 149.6,275.6 151.4,275.5 153.3,275.8 155.1,276.4 156.9,276.8 158.8,276.7 160.6,276.2 162.5,276.3 164.3,276.7 166.1,277.2 168.0,276.9 169.8,275.3 171.7,273.0 173.5,271.2 175.3,270.7 177.2,271.0 179.0,271.0 180.9,270.6 182.7,271.0 184.5,274.2 186.4,279.1 188.2,284.9 190.1,288.8 191.9,285.1 193.7,280.8 195.6,278.7 197.4,277.4 199.3,276.0 201.1,274.1 202.9,272.2 204.8,271.0 206.6,270.4 208.5,270.0 210.3,269.1 212.1,268.0 214.0,267.3 215.8,267.2 217.7,267.4 219.5,267.3 221.3,267.0 223.2,267.4 225.0,267.9 226.9,267.9 228.7,266.5 230.5,263.8 232.4,260.9 234.2,258.2 236.1,256.6 237.9,258.7 239.7,262.5 241.6,265.9 243.4,262.2 245.3,258.1 247.1,255.0 248.9,253.1 250.8,251.1 252.6,247.9 254.5,243.8 256.3,240.6 258.1,240.3 260.0,242.3 261.8,243.4 263.7,242.5 265.5,240.6 267.3,239.5 269.2,239.7 271.0,240.1 272.9,239.3 274.7,237.5" fill="none" stroke="#929292" stroke-width="0.75" stroke-linejoin="round" stroke-linecap="round" />
<polyline points="35.5,286.0 37.3,286.8 39.2,295.0 41.0,298.8 42.9,301.5 44.7,305.4 46.5,306.8 48.4,304.5 50.2,300.7 52.1,300.7 53.9,301.4 55.7,297.5 57.6,292.9 59.4,292.6 61.3,294.7 63.1,294.1 64.9,292.6 66.8,294.5 68.6,295.9 70.5,293.7 72.3,290.1 74.1,291.1 76.0,294.4 77.8,295.7 79.7,293.7 81.5,293.0 83.3,294.1 85.2,292.3 87.0,288.6 88.9,288.3 90.7,291.3 92.5,289.3 94.4,285.0 96.2,284.4 98.1,286.4 99.9,286.1 101.7,283.7 103.6,284.0 105.4,286.4 107.3,286.2 109.1,283.8 110.9,283.0 112.8,284.2 114.6,283.3 116.5,280.0 118.3,279.2 120.1,281.4 122.0,282.4 123.8,281.3 125.7,282.0 127.5,285.4 129.3,286.4 131.2,283.8 133.0,282.0 134.9,282.6 136.7,281.3 138.5,276.8 140.4,274.5 142.2,275.9 144.1,276.6 145.9,275.3 147.7,275.5 149.6,278.3 151.4,280.3 153.3,279.1 155.1,278.4 156.9,279.9 158.8,280.4 160.6,278.6 162.5,277.2 164.3,277.8 166.1,278.2 168.0,276.5 169.8,275.0 171.7,276.7 173.5,277.8 175.3,276.6 177.2,275.4 179.0,277.1 180.9,278.4 182.7,276.9 184.5,276.1 186.4,279.1 188.2,283.8 190.1,285.0 191.9,280.2 193.7,280.0 195.6,281.4 197.4,279.4 199.3,277.2 201.1,278.5 202.9,280.3 204.8,278.2 206.6,274.8 208.5,274.3 210.3,274.4 212.1,271.3 214.0,268.5 215.8,268.1 217.7,268.2 219.5,266.7 221.3,265.2 223.2,267.0 225.0,271.0 226.9,270.8 228.7,267.2 230.5,266.6 232.4,267.9 234.2,264.7 236.1,259.3 237.9,261.0 239.7,265.7 241.6,267.7 243.4,262.1 245.3,260.1 247.1,260.6 248.9,258.7 250.8,253.9 252.6,252.0 254.5,252.7 256.3,250.3 258.1,245.0 260.0,244.3 261.8,247.3 263.7,247.0 265.5,244.1 267.3,243.5 269.2,245.4 271.0,244.2 272.9,239.8 274.7,237.3" fill="none" stroke="#929292" stroke-width="0.75" stroke-linejoin="round" stroke-linecap="round" />
<polyline points="35.5,285.2 37.3,284.4 39.2,291.9 41.0,300.3 42.9,306.0 44.7,305.5 46.5,301.8 48.4,299.4 50.2,299.3 52.1,299.8 53.9,298.4 55.7,293.9 57.6,289.8 59.4,288.1 61.3,288.4 63.1,289.9 64.9,291.2 66.8,291.2 68.6,289.5 70.5,289.0 72.3,290.1 74.1,293.4 76.0,295.6 77.8,296.3 79.7,294.8 81.5,291.9 83.3,290.6 85.2,289.3 87.0,287.6 88.9,285.3 90.7,283.1 92.5,282.1 94.4,282.7 96.2,283.9 98.1,284.5 99.9,283.5 101.7,281.9 103.6,281.4 105.4,282.6 107.3,283.8 109.1,283.5 110.9,281.4 112.8,279.0 114.6,278.4 116.5,279.5 118.3,280.9 120.1,281.2 122.0,280.1 123.8,279.1 125.7,279.4 127.5,280.9 129.3,282.5 131.2,282.3 133.0,280.1 134.9,277.4 136.7,275.9 138.5,276.1 140.4,276.6 142.2,275.7 144.1,273.8 145.9,272.4 147.7,272.6 149.6,274.4 151.4,276.2 153.3,277.1 155.1,276.8 156.9,276.6 158.8,277.2 160.6,278.7 162.5,279.8 164.3,279.1 166.1,277.2 168.0,274.7 169.8,273.1 171.7,273.0 173.5,273.3 175.3,272.3 177.2,270.5 179.0,269.4 180.9,270.6 182.7,273.6 184.5,277.8 186.4,280.6 188.2,283.0 190.1,285.0 191.9,282.7 193.7,281.6 195.6,281.1 197.4,278.7 199.3,275.4 201.1,272.6 202.9,271.3 204.8,271.4 206.6,271.5 208.5,270.7 210.3,269.2 212.1,268.1 214.0,268.3 215.8,269.3 217.7,270.2 219.5,269.5 221.3,267.2 223.2,266.7 225.0,267.1 226.9,267.6 228.7,266.6 230.5,263.8 232.4,260.6 234.2,258.0 236.1,256.6 237.9,258.8 239.7,262.1 241.6,264.0 243.4,259.4 245.3,255.6 247.1,254.0 248.9,254.1 250.8,254.7 252.6,253.0 254.5,249.0 256.3,245.1 258.1,244.3 260.0,246.5 261.8,246.8 263.7,245.1 265.5,240.6 267.3,236.7 269.2,235.9 271.0,237.6 272.9,238.5 274.7,237.0" fill="none" stroke="#929292" stroke-width="0.75" stroke-linejoin="round" stroke-linecap="round" />
<polyline points="35.5,285.6 37.3,284.4 39.2,288.5 41.0,291.7 42.9,293.6 44.7,291.1 46.5,287.2 48.4,284.1 50.2,283.1 52.1,284.5 53.9,287.1 55.7,288.4 57.6,287.9 59.4,286.4 61.3,284.8 63.1,284.3 64.9,285.1 66.8,286.9 68.6,287.5 70.5,287.0 72.3,286.0 74.1,285.7 76.0,286.2 77.8,287.5 79.7,288.6 81.5,287.5 83.3,285.6 85.2,283.4 87.0,281.8 88.9,280.8 90.7,280.2 92.5,279.7 94.4,279.7 96.2,280.1 98.1,280.6 99.9,280.5 101.7,278.7 103.6,275.6 105.4,272.0 107.3,269.6 109.1,270.9 110.9,273.0 112.8,274.5 114.6,274.8 116.5,274.0 118.3,273.2 120.1,273.6 122.0,274.9 123.8,276.5 125.7,277.2 127.5,276.6 129.3,275.2 131.2,273.9 133.0,273.4 134.9,273.9 136.7,274.5 138.5,274.7 140.4,274.1 142.2,272.8 144.1,271.3 145.9,269.8 147.7,268.7 149.6,268.1 151.4,268.4 153.3,269.4 155.1,270.6 156.9,271.5 158.8,271.9 160.6,271.9 162.5,272.0 164.3,272.5 166.1,273.3 168.0,274.0 169.8,274.0 171.7,272.7 173.5,270.4 175.3,268.5 177.2,268.4 179.0,269.8 180.9,270.9 182.7,270.8 184.5,270.1 186.4,268.8 188.2,268.0 190.1,268.2 191.9,268.4 193.7,269.2 195.6,270.1 197.4,270.8 199.3,271.1 201.1,270.9 202.9,270.4 204.8,269.6 206.6,268.8 208.5,268.2 210.3,267.8 212.1,267.5 214.0,266.9 215.8,265.6 217.7,263.9 219.5,262.6 221.3,262.3 223.2,263.1 225.0,263.8 226.9,262.7 228.7,259.7 230.5,256.7 232.4,254.8 234.2,254.2 236.1,254.3 237.9,256.0 239.7,257.9 241.6,258.4 243.4,254.9 245.3,251.8 247.1,249.3 248.9,245.5 250.8,241.8 252.6,238.4 254.5,235.9 256.3,233.8 258.1,232.1 260.0,231.9 261.8,231.9 263.7,232.5 265.5,233.8 267.3,234.9 269.2,234.8 271.0,232.9 272.9,230.0 274.7,227.5" fill="none" stroke="#929292" stroke-width="0.75" stroke-linejoin="round" stroke-linecap="round" />
<polyline points="35.5,289.1 37.3,290.9 39.2,296.0 41.0,300.1 42.9,303.0 44.7,301.9 46.5,299.9 48.4,298.2 50.2,297.0 52.1,296.6 53.9,296.4 55.7,295.3 57.6,294.3 59.4,294.3 61.3,294.8 63.1,296.2 64.9,297.7 66.8,298.9 68.6,298.7 70.5,298.3 72.3,298.1 74.1,298.5 76.0,299.1 77.8,299.9 79.7,299.8 81.5,297.7 83.3,295.0 85.2,291.6 87.0,288.8 88.9,287.2 90.7,285.8 92.5,284.7 94.4,283.7 96.2,283.2 98.1,283.1 99.9,283.3 101.7,283.6 103.6,284.1 105.4,284.7 107.3,285.3 109.1,286.2 110.9,287.0 112.8,287.7 114.6,288.2 116.5,288.3 118.3,288.3 120.1,287.9 122.0,287.3 123.8,286.5 125.7,285.4 127.5,284.2 129.3,282.8 131.2,281.3 133.0,279.9 134.9,278.7 136.7,277.6 138.5,276.9 140.4,276.5 142.2,276.5 144.1,276.5 145.9,276.8 147.7,277.3 149.6,278.1 151.4,278.8 153.3,279.5 155.1,280.0 156.9,280.6 158.8,281.0 160.6,281.3 162.5,281.4 164.3,281.1 166.1,280.6 168.0,280.0 169.8,279.4 171.7,278.5 173.5,277.7 175.3,276.8 177.2,276.2 179.0,275.8 180.9,275.4 182.7,275.3 184.5,276.7 186.4,278.6 188.2,282.3 190.1,286.5 191.9,284.5 193.7,282.6 195.6,281.9 197.4,281.2 199.3,280.5 201.1,279.8 202.9,279.1 204.8,278.2 206.6,277.3 208.5,276.2 210.3,275.0 212.1,274.2 214.0,273.3 215.8,272.3 217.7,270.8 219.5,269.4 221.3,268.4 223.2,268.6 225.0,269.0 226.9,268.4 228.7,266.7 230.5,265.1 232.4,263.9 234.2,262.9 236.1,262.1 237.9,264.3 239.7,267.0 241.6,269.4 243.4,266.7 245.3,263.9 247.1,261.2 248.9,259.2 250.8,257.2 252.6,255.2 254.5,253.1 256.3,251.1 258.1,249.5 260.0,248.4 261.8,247.3 263.7,246.3 265.5,245.5 267.3,244.7 269.2,243.9 271.0,243.1 272.9,242.2 274.7,241.3" fill="none" stroke="#929292" stroke-width="0.75" stroke-linejoin="round" stroke-linecap="round" />
<polyline points="35.5,287.2 37.3,286.4 39.2,291.7 41.0,296.5 42.9,300.1 44.7,298.9 46.5,296.4 48.4,294.9 50.2,294.9 52.1,296.4 53.9,297.9 55.7,297.2 57.6,295.1 59.4,292.6 61.3,290.4 63.1,289.5 64.9,289.8 66.8,291.1 68.6,291.2 70.5,290.9 72.3,290.2 74.1,290.3 76.0,290.7 77.8,291.6 79.7,292.4 81.5,292.0 83.3,291.4 85.2,289.8 87.0,288.2 88.9,286.5 90.7,284.7 92.5,283.4 94.4,282.9 96.2,283.3 98.1,284.0 99.9,284.3 101.7,283.6 103.6,282.0 105.4,280.2 107.3,279.2 109.1,280.2 110.9,281.8 112.8,283.0 114.6,283.1 116.5,282.1 118.3,280.3 120.1,278.5 122.0,277.5 123.8,277.6 125.7,278.5 127.5,279.4 129.3,279.9 131.2,279.7 133.0,278.9 134.9,278.2 136.7,278.1 138.5,278.7 140.4,279.4 142.2,279.5 144.1,278.3 145.9,276.3 147.7,274.3 149.6,272.9 151.4,272.5 153.3,273.1 155.1,274.4 156.9,275.7 158.8,276.7 160.6,277.2 162.5,277.1 164.3,276.7 166.1,276.6 168.0,277.0 169.8,277.5 171.7,277.6 173.5,276.9 175.3,275.2 177.2,273.0 179.0,271.6 180.9,271.4 182.7,272.4 184.5,275.0 186.4,277.7 188.2,280.7 190.1,282.5 191.9,278.9 193.7,276.2 195.6,275.6 197.4,275.8 199.3,276.2 201.1,276.0 202.9,275.1 204.8,273.6 206.6,271.9 208.5,270.7 210.3,270.0 212.1,270.1 214.0,270.5 215.8,270.8 217.7,269.3 219.5,267.3 221.3,265.7 223.2,265.4 225.0,265.6 226.9,265.4 228.7,264.2 230.5,262.5 232.4,260.4 234.2,258.1 236.1,256.1 237.9,256.9 239.7,259.5 241.6,264.1 243.4,264.3 245.3,263.0 247.1,260.5 248.9,257.6 250.8,254.1 252.6,250.6 254.5,248.0 256.3,246.2 258.1,244.9 260.0,243.0 261.8,240.0 263.7,236.6 265.5,234.4 267.3,234.2 269.2,236.1 271.0,238.8 272.9,240.5 274.7,240.2" fill="none" stroke="#929292" stroke-width="0.75" stroke-linejoin="round" stroke-linecap="round" />
<polyline points="35.5,288.1 37.3,296.6 39.2,304.2 41.0,310.0 42.9,314.8 44.7,315.4 46.5,315.5 48.4,314.7 50.2,313.4 52.1,311.8 53.9,309.9 55.7,307.4 57.6,305.0 59.4,303.2 61.3,302.2 63.1,302.1 64.9,302.6 66.8,303.1 68.6,302.9 70.5,302.6 72.3,302.5 74.1,302.4 76.0,302.4 77.8,302.8 79.7,303.1 81.5,303.3 83.3,304.3 85.2,306.0 87.0,308.2 88.9,309.8 90.7,309.0 92.5,305.3 94.4,301.4 96.2,298.3 98.1,296.3 99.9,295.2 101.7,295.2 103.6,295.1 105.4,294.2 107.3,292.6 109.1,291.1 110.9,289.2 112.8,287.9 114.6,287.6 116.5,288.6 118.3,290.5 120.1,292.6 122.0,294.2 123.8,294.8 125.7,294.1 127.5,292.8 129.3,291.5 131.2,291.0 133.0,291.5 134.9,292.6 136.7,293.6 138.5,293.7 140.4,292.3 142.2,289.6 144.1,286.4 145.9,283.6 147.7,282.2 149.6,282.0 151.4,282.9 153.3,284.0 155.1,284.7 156.9,285.1 158.8,284.8 160.6,284.3 162.5,284.0 164.3,284.0 166.1,284.6 168.0,285.6 169.8,286.4 171.7,286.4 173.5,286.2 175.3,285.1 177.2,283.9 179.0,283.0 180.9,282.4 182.7,282.9 184.5,285.3 186.4,288.2 188.2,291.6 190.1,294.6 191.9,292.3 193.7,290.0 195.6,288.7 197.4,288.1 199.3,288.0 201.1,288.3 202.9,288.4 204.8,288.0 206.6,286.9 208.5,285.3 210.3,283.7 212.1,282.7 214.0,281.9 215.8,281.1 217.7,280.1 219.5,278.8 221.3,277.6 223.2,276.9 225.0,276.5 226.9,276.1 228.7,275.6 230.5,275.6 232.4,275.8 234.2,276.0 236.1,275.7 237.9,276.2 239.7,277.0 241.6,277.0 243.4,275.6 245.3,274.4 247.1,273.2 248.9,271.3 250.8,268.7 252.6,265.7 254.5,262.8 256.3,260.2 258.1,258.4 260.0,257.6 261.8,257.1 263.7,256.4 265.5,255.6 267.3,254.3 269.2,252.6 271.0,250.4 272.9,248.3 274.7,246.8" fill="none" stroke="#929292" stroke-width="0.75" stroke-linejoin="round" stroke-linecap="round" />
<polyline points="35.5,288.5 37.3,290.4 39.2,297.3 41.0,302.3 42.9,306.1 44.7,306.2 46.5,305.2 48.4,303.1 50.2,298.8 52.1,294.8 53.9,293.0 55.7,292.6 57.6,292.4 59.4,291.5 61.3,290.4 63.1,290.7 64.9,292.6 66.8,295.3 68.6,294.8 70.5,292.8 72.3,291.1 74.1,292.4 76.0,295.0 77.8,296.9 79.7,296.5 81.5,292.6 83.3,290.3 85.2,289.0 87.0,288.1 88.9,286.6 90.7,284.8 92.5,283.7 94.4,283.9 96.2,284.7 98.1,284.9 99.9,284.6 101.7,284.7 103.6,286.0 105.4,287.2 107.3,286.8 109.1,284.9 110.9,282.4 112.8,280.8 114.6,280.5 116.5,279.9 118.3,278.8 120.1,278.0 122.0,278.7 123.8,280.8 125.7,282.7 127.5,283.0 129.3,281.8 131.2,280.8 133.0,281.0 134.9,281.4 136.7,280.6 138.5,278.7 140.4,277.4 142.2,277.5 144.1,278.2 145.9,277.9 147.7,276.6 149.6,275.4 151.4,275.2 153.3,276.0 155.1,276.6 156.9,276.5 158.8,276.2 160.6,276.6 162.5,278.0 164.3,278.8 166.1,278.6 168.0,277.7 169.8,276.9 171.7,276.9 173.5,277.0 175.3,276.3 177.2,274.2 179.0,272.5 180.9,272.8 182.7,274.6 184.5,277.2 186.4,279.0 188.2,281.8 190.1,286.1 191.9,285.0 193.7,283.0 195.6,280.3 197.4,277.0 199.3,275.2 201.1,274.8 202.9,274.9 204.8,274.4 206.6,273.1 208.5,272.1 210.3,272.0 212.1,272.5 214.0,271.6 215.8,269.3 217.7,267.0 219.5,265.8 221.3,265.9 223.2,267.1 225.0,267.6 226.9,266.6 228.7,265.2 230.5,264.9 232.4,265.1 234.2,263.2 236.1,259.7 237.9,260.9 239.7,264.1 241.6,267.9 243.4,264.7 245.3,260.0 247.1,256.0 248.9,254.1 250.8,253.5 252.6,252.2 254.5,248.5 256.3,244.4 258.1,242.9 260.0,244.5 261.8,245.6 263.7,244.4 265.5,242.3 267.3,242.1 269.2,243.5 271.0,244.4 272.9,243.1 274.7,240.2" fill="none" stroke="#929292" stroke-width="0.75" stroke-linejoin="round" stroke-linecap="round" />
<polyline points="35.5,284.6 37.3,282.5 39.2,286.1 41.0,289.8 42.9,293.8 44.7,294.8 46.5,294.8 48.4,294.5 50.2,293.9 52.1,293.4 53.9,292.9 55.7,291.4 57.6,290.1 59.4,289.3 61.3,288.9 63.1,289.3 64.9,290.2 66.8,291.2 68.6,290.7 70.5,289.9 72.3,289.2 74.1,289.6 76.0,290.2 77.8,290.6 79.7,289.6 81.5,286.9 83.3,284.7 85.2,283.0 87.0,282.2 88.9,282.1 90.7,282.2 92.5,282.6 94.4,283.0 96.2,283.7 98.1,284.5 99.9,285.0 101.7,284.8 103.6,283.9 105.4,282.3 107.3,280.0 109.1,278.1 110.9,276.5 112.8,275.4 114.6,274.9 116.5,274.6 118.3,274.8 120.1,275.4 122.0,276.3 123.8,277.4 125.7,278.3 127.5,278.9 129.3,279.2 131.2,279.2 133.0,278.7 134.9,278.0 136.7,277.0 138.5,276.0 140.4,275.1 142.2,274.4 144.1,273.9 145.9,273.5 147.7,273.4 149.6,273.4 151.4,273.4 153.3,273.5 155.1,273.6 156.9,273.6 158.8,273.8 160.6,273.9 162.5,274.2 164.3,274.3 166.1,274.2 168.0,274.2 169.8,274.2 171.7,274.3 173.5,274.4 175.3,274.2 177.2,274.0 179.0,273.7 180.9,273.0 182.7,272.1 184.5,272.3 186.4,272.7 188.2,274.1 190.1,275.7 191.9,274.4 193.7,273.6 195.6,273.7 197.4,273.9 199.3,274.1 201.1,274.1 202.9,273.8 204.8,273.2 206.6,272.4 208.5,271.3 210.3,270.0 212.1,268.8 214.0,267.7 215.8,266.4 217.7,265.0 219.5,263.8 221.3,263.1 223.2,263.3 225.0,263.8 226.9,263.7 228.7,262.8 230.5,261.6 232.4,260.4 234.2,259.2 236.1,257.7 237.9,258.6 239.7,259.8 241.6,260.6 243.4,257.7 245.3,255.2 247.1,252.9 248.9,250.5 250.8,248.6 252.6,247.1 254.5,246.0 256.3,244.4 258.1,242.7 260.0,241.1 261.8,238.9 263.7,236.4 265.5,233.9 267.3,231.8 269.2,230.2 271.0,229.7 272.9,230.2 274.7,231.1" fill="none" stroke="#929292" stroke-width="0.75" stroke-linejoin="round" stroke-linecap="round" />
<polyline points="35.5,282.2 37.3,278.4 39.2,280.2 41.0,283.8 42.9,285.8 44.7,282.3 46.5,280.9 48.4,283.6 50.2,287.3 52.1,288.1 53.9,287.3 55.7,287.5 57.6,288.0 59.4,286.2 61.3,282.8 63.1,280.7 64.9,281.0 66.8,282.0 68.6,281.5 70.5,281.0 72.3,281.9 74.1,283.4 76.0,282.9 77.8,280.5 79.7,280.0 81.5,282.1 83.3,283.0 85.2,281.5 87.0,280.4 88.9,280.8 90.7,280.7 92.5,278.5 94.4,275.8 96.2,275.0 98.1,275.8 99.9,275.6 101.7,273.4 103.6,272.4 105.4,273.7 107.3,274.1 109.1,271.9 110.9,269.0 112.8,268.6 114.6,269.4 116.5,269.1 118.3,269.3 120.1,270.3 122.0,274.1 123.8,276.1 125.7,274.8 127.5,272.3 129.3,271.0 131.2,269.6 133.0,266.6 134.9,265.4 136.7,265.5 138.5,269.0 140.4,271.1 142.2,270.9 144.1,271.2 145.9,272.1 147.7,271.7 149.6,269.1 151.4,267.3 153.3,267.7 155.1,268.2 156.9,268.4 158.8,268.5 160.6,269.9 162.5,272.0 164.3,272.1 166.1,269.6 168.0,266.7 169.8,265.9 171.7,265.8 173.5,264.3 175.3,262.8 177.2,264.5 179.0,267.1 180.9,266.8 182.7,264.8 184.5,265.2 186.4,268.1 188.2,270.7 190.1,270.6 191.9,268.8 193.7,269.8 195.6,270.9 197.4,269.5 199.3,267.4 201.1,266.6 202.9,266.7 204.8,265.8 206.6,264.2 208.5,263.9 210.3,265.1 212.1,266.0 214.0,265.0 215.8,263.0 217.7,261.8 219.5,260.8 221.3,258.8 223.2,257.4 225.0,256.8 226.9,259.4 228.7,260.6 230.5,259.1 232.4,257.3 234.2,256.4 236.1,254.8 237.9,252.5 239.7,249.1 241.6,247.9 243.4,246.7 245.3,246.5 247.1,244.9 248.9,241.9 250.8,242.0 252.6,240.8 254.5,234.3 256.3,226.1 258.1,221.9 260.0,222.3 261.8,221.3 263.7,220.5 265.5,224.3 267.3,230.2 269.2,231.7 271.0,228.1 272.9,225.2 274.7,225.6" fill="none" stroke="#929292" stroke-width="0.75" stroke-linejoin="round" stroke-linecap="round" />
<polyline points="35.5,289.3 37.3,291.5 39.2,298.4 41.0,303.8 42.9,308.5 44.7,308.5 46.5,306.5 48.4,304.1 50.2,302.1 52.1,301.3 53.9,300.1 55.7,296.4 57.6,292.8 59.4,291.1 61.3,291.1 63.1,292.7 64.9,294.5 66.8,295.2 68.6,294.2 70.5,293.7 72.3,293.6 74.1,294.1 76.0,295.0 77.8,296.9 79.7,298.1 81.5,296.8 83.3,294.0 85.2,289.9 87.0,287.7 88.9,287.6 90.7,289.4 92.5,290.6 94.4,289.5 96.2,287.6 98.1,286.5 99.9,286.2 101.7,286.0 103.6,285.7 105.4,285.3 107.3,284.8 109.1,284.1 110.9,282.5 112.8,280.7 114.6,280.8 116.5,282.6 118.3,284.8 120.1,285.5 122.0,284.2 123.8,282.5 125.7,282.3 127.5,283.7 129.3,285.1 131.2,285.0 133.0,283.4 134.9,281.1 136.7,279.0 138.5,277.6 140.4,277.1 142.2,277.6 144.1,278.6 145.9,279.0 147.7,278.2 149.6,276.8 151.4,276.5 153.3,278.0 155.1,280.1 156.9,281.4 158.8,280.8 160.6,279.2 162.5,278.1 164.3,277.7 166.1,278.0 168.0,278.0 169.8,277.5 171.7,276.7 173.5,275.8 175.3,274.9 177.2,274.8 179.0,276.0 180.9,277.8 182.7,279.8 184.5,282.1 186.4,282.7 188.2,284.2 190.1,287.3 191.9,285.7 193.7,284.0 195.6,281.8 197.4,278.5 199.3,276.2 201.1,275.0 202.9,274.4 204.8,273.8 206.6,273.5 208.5,273.8 210.3,274.4 212.1,274.7 214.0,273.9 215.8,272.6 217.7,271.5 219.5,271.2 221.3,271.0 223.2,270.2 225.0,268.5 226.9,266.5 228.7,264.3 230.5,262.7 232.4,261.4 234.2,260.4 236.1,259.8 237.9,264.1 239.7,268.0 241.6,270.0 243.4,266.9 245.3,264.7 247.1,264.0 248.9,263.4 250.8,260.3 252.6,255.2 254.5,249.8 256.3,245.6 258.1,244.2 260.0,244.0 261.8,243.1 263.7,242.0 265.5,241.3 267.3,240.9 269.2,240.8 271.0,241.6 272.9,243.0 274.7,244.3" fill="none" stroke="#929292" stroke-width="0.75" stroke-linejoin="round" stroke-linecap="round" />
<polyline points="35.5,289.1 37.3,290.7 39.2,294.8 41.0,296.4 42.9,298.3 44.7,298.0 46.5,297.5 48.4,297.2 50.2,296.8 52.1,296.7 53.9,296.8 55.7,295.9 57.6,295.0 59.4,294.5 61.3,293.6 63.1,292.3 64.9,291.5 66.8,290.7 68.6,289.1 70.5,288.4 72.3,288.8 74.1,290.7 76.0,293.3 77.8,295.7 79.7,295.7 81.5,293.0 83.3,290.7 85.2,289.0 87.0,288.3 88.9,288.1 90.7,287.8 92.5,286.5 94.4,285.1 96.2,283.9 98.1,283.3 99.9,283.0 101.7,282.8 103.6,282.3 105.4,281.5 107.3,280.2 109.1,279.6 110.9,279.7 112.8,280.4 114.6,281.4 116.5,282.0 118.3,282.1 120.1,281.6 122.0,280.9 123.8,280.5 125.7,280.7 127.5,281.6 129.3,282.6 131.2,283.0 133.0,282.3 134.9,280.3 136.7,277.6 138.5,275.0 140.4,273.5 142.2,273.1 144.1,273.5 145.9,274.2 147.7,275.0 149.6,275.7 151.4,276.5 153.3,277.4 155.1,278.3 156.9,279.1 158.8,279.4 160.6,278.9 162.5,278.0 164.3,276.4 166.1,275.2 168.0,274.5 169.8,274.7 171.7,275.4 173.5,276.0 175.3,275.8 177.2,274.9 179.0,273.6 180.9,272.7 182.7,272.5 184.5,274.3 186.4,276.9 188.2,280.9 190.1,284.8 191.9,282.4 193.7,280.1 195.6,279.2 197.4,278.6 199.3,278.3 201.1,277.6 202.9,276.2 204.8,274.2 206.6,272.4 208.5,271.0 210.3,270.0 212.1,269.6 214.0,269.4 215.8,268.8 217.7,267.4 219.5,265.8 221.3,264.7 223.2,264.9 225.0,266.0 226.9,266.8 228.7,266.5 230.5,265.9 232.4,264.2 234.2,261.5 236.1,259.2 237.9,260.3 239.7,262.5 241.6,265.3 243.4,263.1 245.3,260.4 247.1,257.4 248.9,255.2 250.8,253.1 252.6,251.4 254.5,249.8 256.3,247.5 258.1,244.3 260.0,240.8 261.8,237.2 263.7,234.9 265.5,235.0 267.3,237.3 269.2,240.6 271.0,242.7 272.9,242.9 274.7,241.7" fill="none" stroke="#929292" stroke-width="0.75" stroke-linejoin="round" stroke-linecap="round" />
<polyline points="35.5,281.8 37.3,280.8 39.2,286.4 41.0,292.1 42.9,297.3 44.7,298.3 46.5,297.5 48.4,296.8 50.2,296.5 52.1,297.0 53.9,297.5 55.7,296.2 57.6,294.1 59.4,291.9 61.3,289.8 63.1,288.4 64.9,287.5 66.8,287.2 68.6,286.5 70.5,286.1 72.3,285.9 74.1,286.5 76.0,287.2 77.8,288.2 79.7,288.7 81.5,288.3 83.3,288.2 85.2,288.0 87.0,288.0 88.9,287.8 90.7,286.9 92.5,285.6 94.4,283.9 96.2,282.5 98.1,281.5 99.9,280.9 101.7,280.0 103.6,278.9 105.4,277.3 107.3,275.3 109.1,274.5 110.9,274.2 112.8,274.9 114.6,276.3 116.5,277.8 118.3,279.2 120.1,280.2 122.0,280.5 123.8,280.2 125.7,279.6 127.5,278.9 129.3,278.3 131.2,278.0 133.0,277.6 134.9,277.0 136.7,275.8 138.5,274.2 140.4,272.7 142.2,271.7 144.1,271.5 145.9,271.9 147.7,272.9 149.6,273.9 151.4,274.7 153.3,275.1 155.1,275.1 156.9,275.0 158.8,275.1 160.6,275.4 162.5,275.9 164.3,276.1 166.1,275.9 168.0,275.1 169.8,273.6 171.7,271.7 173.5,269.7 175.3,268.3 177.2,268.3 179.0,269.5 180.9,270.9 182.7,272.1 184.5,273.9 186.4,275.6 188.2,278.2 190.1,281.1 191.9,279.7 193.7,278.4 195.6,278.0 197.4,277.1 199.3,275.7 201.1,273.8 202.9,271.8 204.8,269.9 206.6,268.5 208.5,267.7 210.3,267.3 212.1,267.2 214.0,267.2 215.8,266.8 217.7,265.9 219.5,265.0 221.3,264.5 223.2,265.2 225.0,266.5 226.9,267.0 228.7,265.8 230.5,263.9 232.4,261.7 234.2,259.3 236.1,256.9 237.9,256.8 239.7,257.2 241.6,258.0 243.4,256.0 245.3,253.8 247.1,251.4 248.9,247.8 250.8,244.2 252.6,241.7 254.5,241.3 256.3,242.1 258.1,244.0 260.0,246.0 261.8,246.1 263.7,245.0 265.5,242.6 267.3,239.4 269.2,236.6 271.0,234.6 272.9,233.5 274.7,232.7" fill="none" stroke="#929292" stroke-width="0.75" stroke-linejoin="round" stroke-linecap="round" />
<polyline points="35.5,288.5 37.3,294.0 39.2,301.1 41.0,307.5 42.9,312.9 44.7,313.2 46.5,312.1 48.4,310.7 50.2,309.9 52.1,309.8 53.9,309.2 55.7,306.9 57.6,303.5 59.4,300.8 61.3,300.1 63.1,301.6 64.9,303.2 66.8,303.3 68.6,301.2 70.5,298.6 72.3,297.3 74.1,298.7 76.0,301.2 77.8,303.0 79.7,303.1 81.5,301.7 83.3,300.2 85.2,300.3 87.0,303.0 88.9,306.5 90.7,306.9 92.5,302.8 94.4,297.7 96.2,293.9 98.1,292.3 99.9,292.0 101.7,292.3 103.6,292.0 105.4,291.3 107.3,290.8 109.1,291.1 110.9,291.2 112.8,290.4 114.6,288.9 116.5,287.4 118.3,287.1 120.1,288.7 122.0,291.1 123.8,292.8 125.7,292.4 127.5,290.1 129.3,287.5 131.2,286.4 133.0,287.6 134.9,289.8 136.7,291.3 138.5,290.7 140.4,288.4 142.2,285.9 144.1,284.6 145.9,284.5 147.7,284.8 149.6,284.7 151.4,284.0 153.3,283.1 155.1,282.7 156.9,282.8 158.8,282.9 160.6,282.7 162.5,282.4 164.3,282.3 166.1,282.9 168.0,283.8 169.8,284.2 171.7,283.4 173.5,281.4 175.3,279.5 177.2,279.3 179.0,281.2 180.9,284.4 182.7,287.9 184.5,290.7 186.4,290.9 188.2,290.5 190.1,291.6 191.9,289.3 193.7,288.5 195.6,288.6 197.4,288.0 199.3,286.6 201.1,285.0 202.9,283.7 204.8,282.3 206.6,280.5 208.5,278.6 210.3,277.4 212.1,277.9 214.0,279.5 215.8,281.1 217.7,280.9 219.5,278.7 221.3,275.6 223.2,274.1 225.0,275.0 226.9,277.0 228.7,278.8 230.5,278.8 232.4,276.4 234.2,272.6 236.1,270.0 237.9,271.8 239.7,275.0 241.6,276.3 243.4,274.0 245.3,270.1 247.1,266.0 248.9,263.2 250.8,261.6 252.6,260.6 254.5,259.4 256.3,257.9 258.1,256.9 260.0,257.0 261.8,257.0 263.7,256.0 265.5,253.9 267.3,250.8 269.2,248.4 271.0,247.7 272.9,248.4 274.7,249.0" fill="none" stroke="#929292" stroke-width="0.75" stroke-linejoin="round" stroke-linecap="round" />
<polyline points="35.5,288.3 37.3,286.1 39.2,289.9 41.0,294.0 42.9,297.9 44.7,298.0 46.5,296.5 48.4,294.8 50.2,293.2 52.1,292.2 53.9,291.1 55.7,289.4 57.6,288.1 59.4,287.9 61.3,288.5 63.1,290.3 64.9,292.8 66.8,295.0 68.6,294.0 70.5,291.9 72.3,289.9 74.1,289.9 76.0,291.1 77.8,293.5 79.7,294.9 81.5,293.2 83.3,290.7 85.2,287.8 87.0,285.6 88.9,284.1 90.7,282.8 92.5,281.4 94.4,280.3 96.2,279.8 98.1,280.1 99.9,281.2 101.7,282.4 103.6,283.4 105.4,283.4 107.3,282.1 109.1,280.6 110.9,279.8 112.8,280.0 114.6,281.0 116.5,282.0 118.3,282.4 120.1,282.0 122.0,280.9 123.8,279.5 125.7,278.2 127.5,276.9 129.3,275.7 131.2,274.7 133.0,274.0 134.9,274.0 136.7,274.7 138.5,275.8 140.4,276.8 142.2,276.9 144.1,276.1 145.9,275.1 147.7,274.5 149.6,274.7 151.4,275.6 153.3,276.7 155.1,277.5 156.9,277.8 158.8,277.3 160.6,276.4 162.5,275.5 164.3,274.6 166.1,273.7 168.0,272.8 169.8,272.2 171.7,271.8 173.5,271.8 175.3,272.2 177.2,272.9 179.0,273.4 180.9,273.0 182.7,272.3 184.5,273.0 186.4,274.8 188.2,279.2 190.1,285.1 191.9,284.5 193.7,282.5 195.6,280.2 197.4,277.4 199.3,275.0 201.1,273.1 202.9,271.9 204.8,271.1 206.6,270.4 208.5,269.7 210.3,269.1 212.1,268.7 214.0,268.4 215.8,267.8 217.7,266.5 219.5,265.0 221.3,263.9 223.2,264.1 225.0,265.1 226.9,266.1 228.7,265.8 230.5,265.0 232.4,262.9 234.2,260.4 236.1,258.1 237.9,258.6 239.7,260.1 241.6,262.4 243.4,260.5 245.3,258.1 247.1,255.5 248.9,252.9 250.8,250.2 252.6,247.3 254.5,244.3 256.3,240.8 258.1,237.8 260.0,236.8 261.8,237.5 263.7,239.5 265.5,241.5 267.3,242.2 269.2,240.7 271.0,237.8 272.9,234.7 274.7,232.9" fill="none" stroke="#929292" stroke-width="0.75" stroke-linejoin="round" stroke-linecap="round" />
<polyline points="35.5,285.8 37.3,285.9 39.2,292.5 41.0,298.8 42.9,303.6 44.7,302.6 46.5,299.5 48.4,297.1 50.2,295.9 52.1,296.1 53.9,296.2 55.7,294.5 57.6,292.4 59.4,290.9 61.3,290.0 63.1,290.5 64.9,291.5 66.8,292.3 68.6,290.7 70.5,288.8 72.3,287.3 74.1,287.7 76.0,289.4 77.8,292.2 79.7,293.9 81.5,292.4 83.3,290.2 85.2,287.9 87.0,286.8 88.9,286.4 90.7,286.0 92.5,285.2 94.4,283.8 96.2,282.4 98.1,281.6 99.9,281.5 101.7,282.0 103.6,282.7 105.4,283.0 107.3,282.3 109.1,281.4 110.9,280.7 112.8,280.5 114.6,280.6 116.5,280.4 118.3,279.6 120.1,278.4 122.0,277.5 123.8,277.2 125.7,277.7 127.5,278.5 129.3,279.1 131.2,278.9 133.0,278.1 134.9,277.1 136.7,276.7 138.5,276.9 140.4,277.5 142.2,277.6 144.1,277.1 145.9,276.3 147.7,275.9 149.6,275.9 151.4,276.3 153.3,276.6 155.1,276.4 156.9,275.7 158.8,274.7 160.6,273.8 162.5,273.6 164.3,273.7 166.1,273.8 168.0,273.7 169.8,273.5 171.7,273.3 173.5,273.6 175.3,274.8 177.2,276.3 179.0,277.2 180.9,277.3 182.7,276.5 184.5,276.3 186.4,276.7 188.2,279.1 190.1,282.2 191.9,280.2 193.7,277.7 195.6,275.9 197.4,274.5 199.3,273.8 201.1,273.6 202.9,273.4 204.8,272.7 206.6,271.6 208.5,270.2 210.3,269.0 212.1,268.5 214.0,268.6 215.8,268.7 217.7,268.0 219.5,266.9 221.3,265.9 223.2,266.0 225.0,266.4 226.9,266.3 228.7,264.9 230.5,263.0 232.4,261.0 234.2,259.2 236.1,257.7 237.9,259.5 239.7,262.7 241.6,266.2 243.4,263.1 245.3,259.0 247.1,254.8 248.9,251.0 250.8,247.6 252.6,244.9 254.5,242.8 256.3,240.1 258.1,237.5 260.0,237.0 261.8,238.2 263.7,241.0 265.5,243.9 267.3,244.8 269.2,244.4 271.0,242.7 272.9,240.5 274.7,238.6" fill="none" stroke="#929292" stroke-width="0.75" stroke-linejoin="round" stroke-linecap="round" />
<polyline points="35.5,288.3 37.3,295.1 39.2,303.2 41.0,311.0 42.9,316.5 44.7,315.8 46.5,314.3 48.4,314.0 50.2,315.1 52.1,315.2 53.9,312.9 55.7,309.5 57.6,307.6 59.4,308.1 61.3,308.3 63.1,306.3 64.9,303.7 66.8,303.0 68.6,304.0 70.5,305.4 72.3,305.3 74.1,304.0 76.0,303.9 77.8,305.6 79.7,306.9 81.5,307.4 83.3,305.8 85.2,303.9 87.0,304.6 88.9,307.1 90.7,306.5 92.5,301.9 94.4,298.3 96.2,298.1 98.1,299.5 99.9,299.1 101.7,297.4 103.6,295.5 105.4,295.3 107.3,296.0 109.1,296.0 110.9,295.6 112.8,293.4 114.6,292.4 116.5,293.1 118.3,293.6 120.1,292.3 122.0,290.2 123.8,289.7 125.7,291.3 127.5,293.1 129.3,293.1 131.2,291.7 133.0,291.2 134.9,292.6 136.7,294.2 138.5,293.8 140.4,291.8 142.2,289.8 144.1,289.8 145.9,290.6 147.7,290.0 149.6,287.7 151.4,285.7 153.3,285.6 155.1,286.5 156.9,286.9 158.8,285.8 160.6,284.5 162.5,284.4 164.3,285.2 166.1,285.5 168.0,284.4 169.8,282.9 171.7,282.6 173.5,283.6 175.3,284.7 177.2,285.0 179.0,284.8 180.9,285.6 182.7,288.8 184.5,291.8 186.4,294.6 188.2,297.3 190.1,298.5 191.9,297.1 193.7,296.1 195.6,293.2 197.4,288.4 199.3,284.5 201.1,283.4 202.9,283.9 204.8,283.6 206.6,281.8 208.5,280.4 210.3,281.4 212.1,284.5 214.0,285.2 215.8,284.8 217.7,284.5 219.5,284.1 221.3,283.9 223.2,283.7 225.0,283.5 226.9,280.3 228.7,277.9 230.5,277.6 232.4,277.6 234.2,275.3 236.1,271.4 237.9,271.5 239.7,275.0 241.6,277.4 243.4,276.1 245.3,273.1 247.1,270.9 248.9,271.0 250.8,271.5 252.6,269.4 254.5,266.6 256.3,263.3 258.1,262.3 260.0,262.7 261.8,261.5 263.7,258.8 265.5,255.9 267.3,255.1 269.2,255.8 271.0,254.7 272.9,250.9 274.7,247.0" fill="none" stroke="#929292" stroke-width="0.75" stroke-linejoin="round" stroke-linecap="round" />
<polyline points="35.5,289.5 37.3,290.3 39.2,297.1 41.0,303.5 42.9,309.1 44.7,310.1 46.5,309.7 48.4,308.8 50.2,307.7 52.1,306.9 53.9,305.8 55.7,303.7 57.6,301.0 59.4,298.1 61.3,295.2 63.1,293.2 64.9,292.3 66.8,292.2 68.6,290.9 70.5,290.0 72.3,289.7 74.1,291.0 76.0,293.2 77.8,296.0 79.7,297.3 81.5,296.2 83.3,295.6 85.2,295.4 87.0,296.2 88.9,297.2 90.7,297.1 92.5,295.6 94.4,293.6 96.2,291.7 98.1,290.1 99.9,288.9 101.7,288.1 103.6,287.4 105.4,286.6 107.3,285.7 109.1,285.1 110.9,284.4 112.8,283.8 114.6,283.4 116.5,283.2 118.3,283.2 120.1,283.2 122.0,283.2 123.8,282.9 125.7,282.5 127.5,282.0 129.3,281.6 131.2,281.4 133.0,281.6 134.9,282.1 136.7,282.7 138.5,283.3 140.4,283.5 142.2,283.5 144.1,283.3 145.9,283.0 147.7,282.8 149.6,282.5 151.4,282.2 153.3,281.6 155.1,280.7 156.9,279.9 158.8,279.0 160.6,278.1 162.5,277.5 164.3,276.7 166.1,276.2 168.0,275.9 169.8,275.8 171.7,275.9 173.5,276.1 175.3,276.3 177.2,276.9 179.0,277.9 180.9,279.1 182.7,280.8 184.5,284.0 186.4,287.0 188.2,290.3 190.1,293.0 191.9,290.0 193.7,286.6 195.6,284.0 197.4,281.6 199.3,279.6 201.1,277.7 202.9,276.1 204.8,274.5 206.6,273.1 208.5,272.0 210.3,271.1 212.1,271.0 214.0,271.5 215.8,272.1 217.7,272.2 219.5,272.1 221.3,271.9 223.2,272.2 225.0,272.2 226.9,271.3 228.7,269.3 230.5,267.5 232.4,266.0 234.2,264.7 236.1,263.1 237.9,264.4 239.7,266.4 241.6,268.7 243.4,266.1 245.3,263.9 247.1,262.3 248.9,261.7 250.8,260.7 252.6,259.2 254.5,257.2 256.3,254.7 258.1,252.2 260.0,250.2 261.8,248.3 263.7,246.4 265.5,244.7 267.3,242.9 269.2,240.6 271.0,238.6 272.9,237.2 274.7,236.5" fill="none" stroke="#929292" stroke-width="0.75" stroke-linejoin="round" stroke-linecap="round" />
<polyline points="35.5,288.6 37.3,287.6 39.2,293.4 41.0,300.2 42.9,306.4 44.7,308.3 46.5,308.5 48.4,308.0 50.2,307.0 52.1,306.0 53.9,304.9 55.7,302.9 57.6,300.6 59.4,298.3 61.3,295.8 63.1,294.1 64.9,293.2 66.8,293.3 68.6,292.7 70.5,293.0 72.3,294.3 74.1,296.6 76.0,298.5 77.8,299.6 79.7,299.2 81.5,296.5 83.3,293.1 85.2,290.2 87.0,289.3 88.9,290.7 90.7,292.9 92.5,294.4 94.4,294.8 96.2,293.9 98.1,292.3 99.9,290.4 101.7,288.9 103.6,287.5 105.4,286.2 107.3,285.0 109.1,284.2 110.9,283.2 112.8,282.4 114.6,282.2 116.5,282.6 118.3,283.9 120.1,285.6 122.0,287.3 123.8,288.3 125.7,288.3 127.5,287.1 129.3,285.1 131.2,282.8 133.0,281.0 134.9,280.2 136.7,280.5 138.5,281.5 140.4,282.6 142.2,283.3 144.1,283.2 145.9,282.4 147.7,281.3 149.6,280.2 151.4,279.4 153.3,279.0 155.1,278.7 156.9,278.6 158.8,278.6 160.6,278.5 162.5,278.6 164.3,278.6 166.1,279.0 168.0,279.8 169.8,280.5 171.7,281.0 173.5,280.9 175.3,280.0 177.2,278.8 179.0,277.4 180.9,276.3 182.7,275.8 184.5,277.8 186.4,281.1 188.2,286.3 190.1,291.1 191.9,289.7 193.7,287.5 195.6,285.3 197.4,282.8 199.3,280.5 201.1,278.7 202.9,277.3 204.8,276.0 206.6,274.8 208.5,273.6 210.3,272.4 212.1,272.1 214.0,272.3 215.8,273.0 217.7,273.6 219.5,274.2 221.3,274.5 223.2,274.4 225.0,273.4 226.9,271.1 228.7,267.7 230.5,264.8 232.4,263.4 234.2,263.7 236.1,264.9 237.9,268.4 239.7,271.2 241.6,272.3 243.4,268.8 245.3,264.7 247.1,260.4 248.9,257.6 250.8,255.4 252.6,253.7 254.5,252.2 256.3,250.8 258.1,249.7 260.0,249.1 261.8,248.8 263.7,249.0 265.5,249.5 267.3,250.0 269.2,249.9 271.0,248.4 272.9,245.7 274.7,242.5" fill="none" stroke="#929292" stroke-width="0.75" stroke-linejoin="round" stroke-linecap="round" />
<polyline points="35.5,277.9 37.3,276.6 39.2,281.8 41.0,287.1 42.9,292.6 44.7,294.9 46.5,295.2 48.4,293.7 50.2,290.6 52.1,286.9 53.9,283.6 55.7,281.4 57.6,281.0 59.4,281.2 61.3,281.6 63.1,281.7 64.9,281.7 66.8,281.9 68.6,282.4 70.5,283.4 72.3,284.6 74.1,286.4 76.0,288.0 77.8,288.8 79.7,287.8 81.5,285.2 83.3,282.9 85.2,281.0 87.0,279.6 88.9,278.4 90.7,277.3 92.5,276.3 94.4,276.0 96.2,276.0 98.1,276.2 99.9,276.1 101.7,274.8 103.6,273.3 105.4,272.0 107.3,271.6 109.1,273.1 110.9,274.0 112.8,273.9 114.6,273.0 116.5,271.7 118.3,270.8 120.1,270.8 122.0,271.7 123.8,272.7 125.7,273.3 127.5,272.9 129.3,272.1 131.2,271.3 133.0,270.8 134.9,270.5 136.7,270.1 138.5,269.5 140.4,269.3 142.2,269.0 144.1,269.1 145.9,269.3 147.7,269.6 149.6,269.6 151.4,269.4 153.3,269.2 155.1,269.3 156.9,269.7 158.8,270.4 160.6,271.2 162.5,271.5 164.3,271.0 166.1,269.7 168.0,268.1 169.8,267.1 171.7,266.8 173.5,267.0 175.3,266.9 177.2,266.8 179.0,266.4 180.9,265.9 182.7,266.0 184.5,267.2 186.4,268.6 188.2,270.2 190.1,271.2 191.9,269.7 193.7,268.6 195.6,268.3 197.4,268.2 199.3,268.1 201.1,267.6 202.9,266.9 204.8,266.5 206.6,266.5 208.5,266.7 210.3,266.8 212.1,266.6 214.0,265.7 215.8,264.2 217.7,262.4 219.5,261.0 221.3,260.2 223.2,259.8 225.0,259.4 226.9,258.3 228.7,256.7 230.5,255.2 232.4,254.2 234.2,253.9 236.1,253.7 237.9,254.7 239.7,256.0 241.6,256.6 243.4,254.2 245.3,251.6 247.1,249.0 248.9,244.1 250.8,238.2 252.6,232.0 254.5,227.4 256.3,224.1 258.1,222.7 260.0,224.3 261.8,225.8 263.7,226.5 265.5,226.5 267.3,226.4 269.2,227.0 271.0,228.8 272.9,230.7 274.7,231.5" fill="none" stroke="#929292" stroke-width="0.75" stroke-linejoin="round" stroke-linecap="round" />
<polyline points="35.5,286.0 37.3,286.8 39.2,294.7 41.0,300.7 42.9,304.5 44.7,301.6 46.5,298.4 48.4,298.1 50.2,299.8 52.1,301.3 53.9,300.9 55.7,297.0 57.6,292.5 59.4,289.8 61.3,288.9 63.1,289.8 64.9,291.4 66.8,292.6 68.6,291.5 70.5,290.2 72.3,289.6 74.1,290.8 76.0,293.0 77.8,295.7 79.7,296.4 81.5,293.5 83.3,290.4 85.2,287.6 87.0,286.4 88.9,286.5 90.7,287.0 92.5,288.3 94.4,287.7 96.2,285.2 98.1,283.1 99.9,281.2 101.7,280.4 103.6,281.2 105.4,282.5 107.3,282.8 109.1,281.9 110.9,280.7 112.8,280.6 114.6,282.1 116.5,283.8 118.3,284.4 120.1,283.0 122.0,280.2 123.8,278.0 125.7,277.4 127.5,278.6 129.3,280.3 131.2,281.1 133.0,280.0 134.9,277.9 136.7,276.4 138.5,276.6 140.4,278.1 142.2,279.3 144.1,279.1 145.9,277.5 147.7,276.1 149.6,275.3 151.4,275.4 153.3,276.0 155.1,276.5 156.9,276.7 158.8,276.4 160.6,276.0 162.5,275.8 164.3,275.8 166.1,276.2 168.0,276.8 169.8,277.2 171.7,276.9 173.5,275.9 175.3,274.4 177.2,273.7 179.0,274.5 180.9,276.1 182.7,277.2 184.5,278.5 186.4,278.4 188.2,278.5 190.1,279.3 191.9,278.1 193.7,278.2 195.6,278.8 197.4,278.1 199.3,276.4 201.1,274.8 202.9,274.3 204.8,275.0 206.6,276.3 208.5,275.8 210.3,272.7 212.1,269.5 214.0,267.2 215.8,266.1 217.7,266.1 219.5,266.5 221.3,266.7 223.2,267.0 225.0,266.7 226.9,265.8 228.7,264.8 230.5,264.2 232.4,264.2 234.2,262.7 236.1,259.7 237.9,260.5 239.7,262.2 241.6,265.0 243.4,263.2 245.3,260.8 247.1,257.6 248.9,254.3 250.8,249.8 252.6,245.5 254.5,242.9 256.3,242.4 258.1,244.1 260.0,246.6 261.8,246.9 263.7,245.8 265.5,244.0 267.3,242.1 269.2,241.4 271.0,241.5 272.9,240.8 274.7,238.7" fill="none" stroke="#929292" stroke-width="0.75" stroke-linejoin="round" stroke-linecap="round" />
<polyline points="35.5,288.1 37.3,285.5 39.2,293.2 41.0,301.8 42.9,305.6 44.7,299.7 46.5,296.2 48.4,300.1 50.2,302.3 52.1,299.5 53.9,294.9 55.7,294.4 57.6,297.1 59.4,297.6 61.3,293.0 63.1,290.2 64.9,290.6 66.8,292.0 68.6,290.5 70.5,288.1 72.3,287.0 74.1,288.9 76.0,293.2 77.8,297.4 79.7,298.4 81.5,295.7 83.3,293.0 85.2,291.8 87.0,290.7 88.9,286.9 90.7,283.4 92.5,282.5 94.4,284.2 96.2,285.1 98.1,283.6 99.9,282.2 101.7,283.9 103.6,286.6 105.4,285.7 107.3,282.1 109.1,280.7 110.9,282.4 112.8,283.1 114.6,281.3 116.5,279.5 118.3,279.8 120.1,281.0 122.0,281.3 123.8,281.1 125.7,281.1 127.5,281.2 129.3,280.9 131.2,280.5 133.0,279.9 134.9,278.5 136.7,276.8 138.5,276.5 140.4,277.9 142.2,278.4 144.1,277.5 145.9,277.0 147.7,278.1 149.6,278.6 151.4,276.9 153.3,275.2 155.1,274.9 156.9,275.6 158.8,275.7 160.6,275.4 162.5,276.4 164.3,278.2 166.1,279.0 168.0,278.3 169.8,277.6 171.7,277.7 173.5,277.1 175.3,274.4 177.2,271.8 179.0,272.0 180.9,273.3 182.7,273.5 184.5,274.4 186.4,277.3 188.2,283.0 190.1,287.7 191.9,284.8 193.7,281.9 195.6,280.5 197.4,278.8 199.3,276.9 201.1,275.2 202.9,273.7 204.8,272.1 206.6,271.1 208.5,271.1 210.3,271.1 212.1,270.4 214.0,269.4 215.8,269.6 217.7,270.8 219.5,269.2 221.3,265.9 223.2,265.1 225.0,266.9 226.9,268.2 228.7,265.4 230.5,262.1 232.4,261.6 234.2,263.9 236.1,263.9 237.9,261.6 239.7,261.4 241.6,263.5 243.4,262.1 245.3,258.8 247.1,254.8 248.9,252.1 250.8,252.2 252.6,253.9 254.5,253.9 256.3,251.3 258.1,247.5 260.0,244.7 261.8,245.4 263.7,244.9 265.5,239.6 267.3,233.1 269.2,233.3 271.0,239.0 272.9,240.8 274.7,237.3" fill="none" stroke="#929292" stroke-width="0.75" stroke-linejoin="round" stroke-linecap="round" />
<polyline points="37.0,290.0 40.0,306.0 43.0,317.0 46.0,316.0 50.0,313.0 54.0,314.0 58.0,309.0 62.0,306.0 66.0,308.0 70.0,303.0" fill="none" stroke="#929292" stroke-width="0.75" stroke-linejoin="round" stroke-linecap="round" />
<polyline points="37.0,286.0 41.0,300.0 44.0,312.0 48.0,310.0 52.0,306.0 56.0,307.0 60.0,303.0 65.0,300.0 70.0,301.0 76.0,298.0" fill="none" stroke="#929292" stroke-width="0.75" stroke-linejoin="round" stroke-linecap="round" />
<line x1="33.5" y1="277.5" x2="283.5" y2="277.5" stroke="#a8a8a8" stroke-width="1"/>
<polyline points="37.3,280.0 39.9,289.5 44.3,297.3 47.7,294.7 52.1,292.1 55.5,288.6 59.0,288.6 62.5,284.3 65.1,287.7 67.7,290.3 72.0,292.0 75.5,299.9 78.1,302.5 82.4,297.3 86.8,307.7 89.4,312.9 92.0,309.4 95.2,296.0 100.4,293.4 107.3,291.6 114.3,294.2 119.5,292.5 124.7,296.8 129.9,291.6 135.1,290.7 139.4,282.1 143.8,274.3 147.2,269.1 150.5,267.5 151.9,269.3 155.4,273.6 160.6,276.2 164.1,273.6 167.5,270.1 170.1,275.3 172.7,280.5 176.2,275.3 179.7,272.7 183.1,271.0 186.6,275.3 190.1,284.9 193.6,278.0 197.0,273.6 200.5,270.1 205.2,275.2 210.4,270.0 215.6,267.4 220.8,263.5 226.0,260.9 231.2,257.0 236.4,258.3 241.6,257.0 246.8,254.4 252.0,244.0 257.2,244.0 262.4,242.7 267.6,245.3 272.8,242.7 275.4,244.0" fill="none" stroke="#2b78c2" stroke-width="2.2" stroke-linejoin="round" stroke-linecap="round" />
<polyline points="37.3,274.7 39.1,279.1 41.7,289.5 45.1,293.0 47.7,290.3 50.3,288.6 52.9,287.7 55.5,283.4 59.0,283.4 60.7,282.5 63.3,278.2 65.9,283.4 68.5,286.9 71.1,286.9 72.9,288.6 75.5,299.0 78.1,304.2 79.8,302.5 82.4,295.5 85.0,300.7 88.5,306.8 91.1,303.4 92.6,301.2 95.2,291.6 97.8,289.0 100.4,291.6 103.9,289.0 106.5,288.1 109.9,292.5 113.4,296.8 116.0,296.8 118.6,295.1 121.2,296.0 123.8,301.2 126.4,299.4 129.0,296.0 132.5,295.4 136.0,294.2 139.4,285.5 142.9,270.8 145.5,266.5 148.5,265.8 151.9,264.9 154.5,272.7 157.1,288.4 159.7,289.2 162.3,288.4 164.1,284.9 166.7,283.1 169.3,282.3 171.9,291.8 174.5,284.9 177.1,278.0 179.7,277.1 183.1,276.2 186.6,280.5 189.2,286.6 191.8,287.5 194.4,281.4 197.0,276.2 200.5,271.9 203.9,270.0 206.5,264.8 210.4,267.4 214.3,260.9 218.2,258.3 222.1,257.0 226.0,253.1 229.9,255.7 233.8,250.5 239.0,253.1 242.9,255.7 246.8,253.1 250.7,246.6 254.6,245.3 258.5,247.9 262.4,242.7 266.3,242.7 268.9,246.6 272.8,242.7 275.4,241.4" fill="none" stroke="#e3161c" stroke-width="2.4" stroke-linejoin="round" stroke-linecap="round" />
<polyline points="37.3,289.5 39.9,297.3 43.4,306.0 46.9,303.4 50.3,300.7 53.8,299.0 57.3,294.7 60.7,292.1 63.3,292.1 66.8,293.3 70.3,291.2 72.9,290.3 76.4,293.8 79.0,297.3 82.4,293.8 85.9,289.5 90.2,287.5 95.2,285.5 100.4,284.7 107.3,283.0 114.3,282.6 121.2,282.1 128.1,281.6 135.1,279.8 140.3,278.6 145.5,277.4 150.2,277.1 155.4,277.1 162.3,278.0 169.3,277.1 176.2,275.9 183.1,276.2 186.6,279.7 190.1,286.6 193.6,281.4 197.0,278.8 200.5,276.5 205.2,273.9 210.4,271.3 215.6,270.0 220.8,266.9 226.0,268.7 231.2,263.5 236.4,259.6 241.6,267.4 246.8,258.3 252.0,253.1 257.2,247.9 262.4,245.3 267.6,242.7 272.8,240.1 275.4,238.8" fill="none" stroke="#000" stroke-width="2.6" stroke-linejoin="round" stroke-linecap="round" />
<rect x="33.5" y="191.0" width="250.0" height="144.3" fill="none" stroke="#a8a8a8" stroke-width="1"/>
<line x1="33.5" y1="335.3" x2="33.5" y2="332.8" stroke="#a8a8a8"/>
<line x1="33.5" y1="191.0" x2="33.5" y2="193.5" stroke="#a8a8a8"/>
<line x1="70.5" y1="335.3" x2="70.5" y2="332.8" stroke="#a8a8a8"/>
<line x1="70.5" y1="191.0" x2="70.5" y2="193.5" stroke="#a8a8a8"/>
<line x1="107.5" y1="335.3" x2="107.5" y2="332.8" stroke="#a8a8a8"/>
<line x1="107.5" y1="191.0" x2="107.5" y2="193.5" stroke="#a8a8a8"/>
<line x1="144.5" y1="335.3" x2="144.5" y2="332.8" stroke="#a8a8a8"/>
<line x1="144.5" y1="191.0" x2="144.5" y2="193.5" stroke="#a8a8a8"/>
<line x1="180.5" y1="335.3" x2="180.5" y2="332.8" stroke="#a8a8a8"/>
<line x1="180.5" y1="191.0" x2="180.5" y2="193.5" stroke="#a8a8a8"/>
<line x1="217.5" y1="335.3" x2="217.5" y2="332.8" stroke="#a8a8a8"/>
<line x1="217.5" y1="191.0" x2="217.5" y2="193.5" stroke="#a8a8a8"/>
<line x1="254.5" y1="335.3" x2="254.5" y2="332.8" stroke="#a8a8a8"/>
<line x1="254.5" y1="191.0" x2="254.5" y2="193.5" stroke="#a8a8a8"/>
<line x1="33.5" y1="205.5" x2="36.0" y2="205.5" stroke="#a8a8a8"/>
<line x1="283.5" y1="205.5" x2="281.0" y2="205.5" stroke="#a8a8a8"/>
<line x1="33.5" y1="241.5" x2="36.0" y2="241.5" stroke="#a8a8a8"/>
<line x1="283.5" y1="241.5" x2="281.0" y2="241.5" stroke="#a8a8a8"/>
<line x1="33.5" y1="277.5" x2="36.0" y2="277.5" stroke="#a8a8a8"/>
<line x1="283.5" y1="277.5" x2="281.0" y2="277.5" stroke="#a8a8a8"/>
<line x1="33.5" y1="313.5" x2="36.0" y2="313.5" stroke="#a8a8a8"/>
<line x1="283.5" y1="313.5" x2="281.0" y2="313.5" stroke="#a8a8a8"/>
<text transform="translate(33.6,346.3) scale(1,1.15)" font-size="9.1" text-anchor="middle">1880</text>
<text transform="translate(70.6,346.3) scale(1,1.15)" font-size="9.1" text-anchor="middle">1900</text>
<text transform="translate(107.6,346.3) scale(1,1.15)" font-size="9.1" text-anchor="middle">1920</text>
<text transform="translate(144.6,346.3) scale(1,1.15)" font-size="9.1" text-anchor="middle">1940</text>
<text transform="translate(180.6,346.3) scale(1,1.15)" font-size="9.1" text-anchor="middle">1960</text>
<text transform="translate(217.6,346.3) scale(1,1.15)" font-size="9.1" text-anchor="middle">1980</text>
<text transform="translate(254.6,346.3) scale(1,1.15)" font-size="9.1" text-anchor="middle">2000</text>
<text transform="translate(28.5,208.4) scale(1,1.15)" font-size="9.1" text-anchor="end">1</text>
<text transform="translate(28.5,244.4) scale(1,1.15)" font-size="9.1" text-anchor="end">0.5</text>
<text transform="translate(28.5,280.40000000000003) scale(1,1.15)" font-size="9.1" text-anchor="end">0</text>
<text transform="translate(28.5,316.40000000000003) scale(1,1.15)" font-size="9.1" text-anchor="end">-0.5</text>
<text transform="translate(7.7,263.0) rotate(-90)" font-size="11" text-anchor="middle"><tspan font-size="8" dy="-1.7">º</tspan><tspan dx="0.5" dy="1.7">C</tspan></text>
<text x="158.5" y="187.2" font-size="10.5" font-weight="bold" text-anchor="middle">3-yr SH SST</text>
<text x="20.2" y="186.7" font-size="12.0" font-weight="bold" letter-spacing="1.9" fill="#000" stroke="#000" stroke-width="0.4">(b)</text>
<rect x="41.5" y="198.5" width="98.0" height="44.0" fill="#fff" stroke="#a8a8a8" stroke-width="1"/>
<line x1="42.8" y1="204.8" x2="62.5" y2="204.8" stroke="#2b78c2" stroke-width="2.0"/>
<text x="63.6" y="207.3" font-size="6.87">HadSST3</text>
<line x1="42.8" y1="215.3" x2="62.5" y2="215.3" stroke="#e3161c" stroke-width="2.2"/>
<text x="63.6" y="217.8" font-size="6.87">ERSSTv5</text>
<line x1="42.8" y1="225.9" x2="62.5" y2="225.9" stroke="#9a9a9a" stroke-width="0.8"/>
<text x="63.6" y="228.4" font-size="6.87">CMIP5</text>
<line x1="42.8" y1="236.6" x2="62.5" y2="236.6" stroke="#000" stroke-width="2.4"/>
<text x="63.6" y="239.1" font-size="6.87">CMIP5 ens. mean</text>
<line x1="388.5" y1="77.5" x2="388.5" y2="274.5" stroke="#efefef"/>
<line x1="440.5" y1="77.5" x2="440.5" y2="274.5" stroke="#efefef"/>
<line x1="492.5" y1="77.5" x2="492.5" y2="274.5" stroke="#efefef"/>
<line x1="336.5" y1="233.5" x2="502.5" y2="233.5" stroke="#efefef"/>
<line x1="336.5" y1="192.5" x2="502.5" y2="192.5" stroke="#efefef"/>
<line x1="336.5" y1="151.5" x2="502.5" y2="151.5" stroke="#efefef"/>
<line x1="336.5" y1="110.5" x2="502.5" y2="110.5" stroke="#efefef"/>
<polygon points="382.2,187.7 379.2,182.5 385.2,182.5" fill="none" stroke="#9343b0" stroke-width="0.9" stroke-linejoin="miter"/>
<polygon points="386.5,185.7 388.8,189.1 386.5,192.5 384.2,189.1" fill="none" stroke="#9343b0" stroke-width="0.9"/>
<polygon points="390.5,195.1 387.5,189.9 393.5,189.9" fill="none" stroke="#9343b0" stroke-width="0.9" stroke-linejoin="miter"/>
<polygon points="405.0,190.6 407.3,194.0 405.0,197.4 402.7,194.0" fill="none" stroke="#9343b0" stroke-width="0.9"/>
<polygon points="409.5,166.8 414.7,163.8 414.7,169.8" fill="none" stroke="#9343b0" stroke-width="0.9" stroke-linejoin="miter"/>
<polygon points="409.5,170.3 414.7,167.3 414.7,173.3" fill="none" stroke="#9343b0" stroke-width="0.9" stroke-linejoin="miter"/>
<polygon points="412.3,187.4 417.5,184.4 417.5,190.4" fill="none" stroke="#9343b0" stroke-width="0.9" stroke-linejoin="miter"/>
<polygon points="412.0,195.2 417.2,192.2 417.2,198.2" fill="none" stroke="#9343b0" stroke-width="0.9" stroke-linejoin="miter"/>
<circle cx="385.8" cy="201.3" r="2.47" fill="none" stroke="#9343b0" stroke-width="0.9"/>
<path d="M383.0,201.3h5.6M385.8,198.5v5.6" stroke="#9343b0" stroke-width="1.1"/>
<circle cx="396.8" cy="204.4" r="2.47" fill="none" stroke="#9343b0" stroke-width="0.9"/>
<path d="M403.9,204.6h5.6M406.7,201.8v5.6" stroke="#9343b0" stroke-width="1.1"/>
<circle cx="407.4" cy="209.6" r="2.47" fill="none" stroke="#9343b0" stroke-width="0.9"/>
<polygon points="391.5,211.8 388.5,206.6 394.5,206.6" fill="none" stroke="#9343b0" stroke-width="0.9" stroke-linejoin="miter"/>
<polygon points="396.8,215.3 393.8,210.1 399.8,210.1" fill="none" stroke="#9343b0" stroke-width="0.9" stroke-linejoin="miter"/>
<polygon points="382.1,212.6 387.3,209.6 387.3,215.6" fill="none" stroke="#9343b0" stroke-width="0.9" stroke-linejoin="miter"/>
<polygon points="377.2,218.1 382.4,215.1 382.4,221.1" fill="none" stroke="#9343b0" stroke-width="0.9" stroke-linejoin="miter"/>
<polygon points="381.6,222.2 386.8,219.2 386.8,225.2" fill="none" stroke="#9343b0" stroke-width="0.9" stroke-linejoin="miter"/>
<polygon points="412.3,198.9 407.1,195.9 407.1,201.9" fill="none" stroke="#9343b0" stroke-width="0.9" stroke-linejoin="miter"/>
<polygon points="394.2,217.7 391.2,222.9 397.2,222.9" fill="none" stroke="#9343b0" stroke-width="0.9" stroke-linejoin="miter"/>
<path d="M383.5,223.7h5.2M384.8,221.3l2.6,4.8M384.8,226.1l2.6,-4.8" stroke="#9343b0" stroke-width="0.9"/>
<path d="M387.6,225.3h5.2M388.9,222.9l2.6,4.8M388.9,227.7l2.6,-4.8" stroke="#9343b0" stroke-width="0.9"/>
<path d="M390.6,226.3h5.2M391.9,223.9l2.6,4.8M391.9,228.7l2.6,-4.8" stroke="#9343b0" stroke-width="0.9"/>
<path d="M394.7,226.8h5.2M396.0,224.4l2.6,4.8M396.0,229.2l2.6,-4.8" stroke="#9343b0" stroke-width="0.9"/>
<path d="M397.7,225.3h5.2M399.0,222.9l2.6,4.8M399.0,227.7l2.6,-4.8" stroke="#9343b0" stroke-width="0.9"/>
<path d="M399.7,227.8h5.2M401.0,225.4l2.6,4.8M401.0,230.2l2.6,-4.8" stroke="#9343b0" stroke-width="0.9"/>
<path d="M391.6,229.3h5.2M392.9,226.9l2.6,4.8M392.9,231.7l2.6,-4.8" stroke="#9343b0" stroke-width="0.9"/>
<path d="M375.9,228.8h5.2M377.2,226.4l2.6,4.8M377.2,231.2l2.6,-4.8" stroke="#9343b0" stroke-width="0.9"/>
<path d="M376.4,231.0h5.2M377.7,228.6l2.6,4.8M377.7,233.4l2.6,-4.8" stroke="#9343b0" stroke-width="0.9"/>
<path d="M385.4,229.0h5.2M386.7,226.6l2.6,4.8M386.7,231.4l2.6,-4.8" stroke="#9343b0" stroke-width="0.9"/>
<path d="M395.4,231.0h5.2M396.7,228.6l2.6,4.8M396.7,233.4l2.6,-4.8" stroke="#9343b0" stroke-width="0.9"/>
<path d="M381.4,226.5h5.2M382.7,224.1l2.6,4.8M382.7,228.9l2.6,-4.8" stroke="#9343b0" stroke-width="0.9"/>
<path d="M389.4,222.5h5.2M390.7,220.1l2.6,4.8M390.7,224.9l2.6,-4.8" stroke="#9343b0" stroke-width="0.9"/>
<path d="M396.9,229.5h5.2M398.2,227.1l2.6,4.8M398.2,231.9l2.6,-4.8" stroke="#9343b0" stroke-width="0.9"/>
<path d="M402.9,224.0h5.2M404.2,221.6l2.6,4.8M404.2,226.4l2.6,-4.8" stroke="#9343b0" stroke-width="0.9"/>
<path d="M385.9,232.0h5.2M387.2,229.6l2.6,4.8M387.2,234.4l2.6,-4.8" stroke="#9343b0" stroke-width="0.9"/>
<rect x="364.5" y="233.3" width="4.0" height="4.0" fill="none" stroke="#9343b0" stroke-width="0.9"/>
<rect x="394.5" y="232.9" width="4.0" height="4.0" fill="none" stroke="#9343b0" stroke-width="0.9"/>
<rect x="372.0" y="223.5" width="4.0" height="4.0" fill="none" stroke="#9343b0" stroke-width="0.9"/>
<rect x="381.0" y="219.0" width="4.0" height="4.0" fill="none" stroke="#9343b0" stroke-width="0.9"/>
<polygon points="389.0,216.0 394.2,213.0 394.2,219.0" fill="none" stroke="#9343b0" stroke-width="0.9" stroke-linejoin="miter"/>
<polygon points="400.0,219.0 397.0,224.2 403.0,224.2" fill="none" stroke="#9343b0" stroke-width="0.9" stroke-linejoin="miter"/>
<polygon points="404.0,229.0 401.0,223.8 407.0,223.8" fill="none" stroke="#9343b0" stroke-width="0.9" stroke-linejoin="miter"/>
<polygon points="435.8,115.3 432.8,110.1 438.8,110.1" fill="none" stroke="#000" stroke-width="1.1" stroke-linejoin="miter"/>
<polygon points="456.6,112.3 453.6,107.1 459.6,107.1" fill="none" stroke="#000" stroke-width="1.1" stroke-linejoin="miter"/>
<polygon points="447.4,121.1 444.4,115.9 450.4,115.9" fill="none" stroke="#000" stroke-width="1.1" stroke-linejoin="miter"/>
<polygon points="446.9,145.9 449.2,149.3 446.9,152.7 444.6,149.3" fill="none" stroke="#000" stroke-width="1.1"/>
<polygon points="433.5,153.6 435.8,157.0 433.5,160.4 431.2,157.0" fill="none" stroke="#000" stroke-width="1.1"/>
<polygon points="421.3,157.5 423.6,160.9 421.3,164.3 419.0,160.9" fill="none" stroke="#000" stroke-width="1.1"/>
<polygon points="430.8,160.5 433.1,163.9 430.8,167.3 428.5,163.9" fill="none" stroke="#000" stroke-width="1.1"/>
<polygon points="400.5,166.6 402.8,170.0 400.5,173.4 398.2,170.0" fill="none" stroke="#000" stroke-width="1.1"/>
<path d="M420.5,170.3h5.6M423.3,167.5v5.6" stroke="#000" stroke-width="1.3"/>
<polygon points="444.5,170.3 449.7,167.3 449.7,173.3" fill="none" stroke="#000" stroke-width="1.1" stroke-linejoin="miter"/>
<polygon points="422.80,179.10 423.62,181.37 426.03,181.45 424.13,182.93 424.80,185.25 422.80,183.90 420.80,185.25 421.47,182.93 419.57,181.45 421.98,181.37" fill="#000" stroke="#000" stroke-width="0.3"/>
<polygon points="459.6,184.4 464.8,181.4 464.8,187.4" fill="none" stroke="#000" stroke-width="1.1" stroke-linejoin="miter"/>
<polygon points="433.4,186.4 438.6,183.4 438.6,189.4" fill="none" stroke="#000" stroke-width="1.1" stroke-linejoin="miter"/>
<polygon points="441.1,194.9 446.3,191.9 446.3,197.9" fill="none" stroke="#000" stroke-width="1.1" stroke-linejoin="miter"/>
<polygon points="410.5,190.4 415.7,187.4 415.7,193.4" fill="none" stroke="#000" stroke-width="1.1" stroke-linejoin="miter"/>
<polygon points="408.2,197.3 413.4,194.3 413.4,200.3" fill="none" stroke="#000" stroke-width="1.1" stroke-linejoin="miter"/>
<polygon points="425.5,188.0 420.3,185.0 420.3,191.0" fill="none" stroke="#000" stroke-width="1.1" stroke-linejoin="miter"/>
<polygon points="437.6,194.3 432.4,191.3 432.4,197.3" fill="none" stroke="#000" stroke-width="1.1" stroke-linejoin="miter"/>
<polygon points="428.7,219.7 423.5,216.7 423.5,222.7" fill="none" stroke="#000" stroke-width="1.1" stroke-linejoin="miter"/>
<polygon points="434.9,212.2 431.9,217.4 437.9,217.4" fill="none" stroke="#000" stroke-width="1.1" stroke-linejoin="miter"/>
<polygon points="404.0,213.1 401.0,218.3 407.0,218.3" fill="none" stroke="#000" stroke-width="1.1" stroke-linejoin="miter"/>
<polygon points="407.9,215.2 404.9,220.4 410.9,220.4" fill="none" stroke="#000" stroke-width="1.1" stroke-linejoin="miter"/>
<polygon points="411.5,221.7 408.5,226.9 414.5,226.9" fill="none" stroke="#000" stroke-width="1.1" stroke-linejoin="miter"/>
<circle cx="401.3" cy="210.6" r="2.47" fill="none" stroke="#000" stroke-width="1.1"/>
<circle cx="405.9" cy="212.1" r="2.47" fill="none" stroke="#000" stroke-width="1.1"/>
<circle cx="390.7" cy="215.1" r="2.47" fill="none" stroke="#000" stroke-width="1.1"/>
<circle cx="383.6" cy="217.7" r="2.47" fill="none" stroke="#000" stroke-width="1.1"/>
<circle cx="386.1" cy="218.7" r="2.47" fill="none" stroke="#000" stroke-width="1.1"/>
<circle cx="390.0" cy="233.4" r="2.47" fill="none" stroke="#000" stroke-width="1.1"/>
<rect x="364.0" y="215.7" width="4.0" height="4.0" fill="none" stroke="#000" stroke-width="1.1"/>
<rect x="368.0" y="216.0" width="4.0" height="4.0" fill="none" stroke="#000" stroke-width="1.1"/>
<rect x="374.2" y="219.1" width="4.0" height="4.0" fill="none" stroke="#000" stroke-width="1.1"/>
<rect x="376.2" y="221.2" width="4.0" height="4.0" fill="none" stroke="#000" stroke-width="1.1"/>
<rect x="371.7" y="223.3" width="4.0" height="4.0" fill="none" stroke="#000" stroke-width="1.1"/>
<path d="M396.8,220.2l4,4M396.8,224.2l4,-4" stroke="#000" stroke-width="1.4000000000000001"/>
<circle cx="451.2" cy="173.2" r="2.66" fill="none" stroke="#2b78c2" stroke-width="1.8"/>
<circle cx="479.8" cy="162.9" r="2.66" fill="none" stroke="#e3161c" stroke-width="1.8"/>
<rect x="336.5" y="77.5" width="166.0" height="197.0" fill="none" stroke="#a8a8a8"/>
<line x1="336.5" y1="274.5" x2="336.5" y2="272.0" stroke="#a8a8a8"/>
<line x1="336.5" y1="77.5" x2="336.5" y2="80.0" stroke="#a8a8a8"/>
<line x1="388.5" y1="274.5" x2="388.5" y2="272.0" stroke="#a8a8a8"/>
<line x1="388.5" y1="77.5" x2="388.5" y2="80.0" stroke="#a8a8a8"/>
<line x1="440.5" y1="274.5" x2="440.5" y2="272.0" stroke="#a8a8a8"/>
<line x1="440.5" y1="77.5" x2="440.5" y2="80.0" stroke="#a8a8a8"/>
<line x1="492.5" y1="274.5" x2="492.5" y2="272.0" stroke="#a8a8a8"/>
<line x1="492.5" y1="77.5" x2="492.5" y2="80.0" stroke="#a8a8a8"/>
<line x1="336.5" y1="274.5" x2="339.0" y2="274.5" stroke="#a8a8a8"/>
<line x1="502.5" y1="274.5" x2="500.0" y2="274.5" stroke="#a8a8a8"/>
<line x1="336.5" y1="233.5" x2="339.0" y2="233.5" stroke="#a8a8a8"/>
<line x1="502.5" y1="233.5" x2="500.0" y2="233.5" stroke="#a8a8a8"/>
<line x1="336.5" y1="192.5" x2="339.0" y2="192.5" stroke="#a8a8a8"/>
<line x1="502.5" y1="192.5" x2="500.0" y2="192.5" stroke="#a8a8a8"/>
<line x1="336.5" y1="151.5" x2="339.0" y2="151.5" stroke="#a8a8a8"/>
<line x1="502.5" y1="151.5" x2="500.0" y2="151.5" stroke="#a8a8a8"/>
<line x1="336.5" y1="110.5" x2="339.0" y2="110.5" stroke="#a8a8a8"/>
<line x1="502.5" y1="110.5" x2="500.0" y2="110.5" stroke="#a8a8a8"/>
<text x="336.3" y="286.8" font-size="9.1" text-anchor="middle">0</text>
<text x="388" y="286.8" font-size="9.1" text-anchor="middle">0.05</text>
<text x="440.2" y="286.8" font-size="9.1" text-anchor="middle">0.1</text>
<text x="491.8" y="286.8" font-size="9.1" text-anchor="middle">0.15</text>
<text x="332.8" y="277.5" font-size="9.1" text-anchor="end">0</text>
<text x="332.8" y="236.60000000000002" font-size="9.1" text-anchor="end">0.05</text>
<text x="332.8" y="195.8" font-size="9.1" text-anchor="end">0.1</text>
<text x="332.8" y="154.70000000000002" font-size="9.1" text-anchor="end">0.15</text>
<text x="332.8" y="114.0" font-size="9.1" text-anchor="end">0.2</text>
<text transform="translate(419,298.4) scale(1,0.95)" font-size="10.1" text-anchor="middle">SH SST (ºC)</text>
<text transform="translate(307.9,176.0) rotate(-90) scale(1,0.95)" font-size="10.1" text-anchor="middle">NH SST (ºC)</text>
<text x="297.3" y="73.7" font-size="12.4" font-weight="bold" letter-spacing="1.5" fill="#000" stroke="#000" stroke-width="0.35">(c)</text>
<text x="319.6" y="73.6" font-size="10.62" font-weight="bold">3-yr NH and SH SST standard deviation</text>
<rect x="509.5" y="111.5" width="89" height="129.2" fill="#fff" stroke="#a8a8a8"/>
<polygon points="520.90,114.30 521.72,116.57 524.13,116.65 522.23,118.13 522.90,120.45 520.90,119.10 518.90,120.45 519.57,118.13 517.67,116.65 520.08,116.57" fill="#000" stroke="#000" stroke-width="0.3"/>
<text x="532" y="120.0" font-size="6.95">bcc-csm1-1</text>
<polygon points="523.9,128.1 518.7,125.1 518.7,131.1" fill="none" stroke="#000" stroke-width="1.3" stroke-linejoin="miter"/>
<text x="532" y="130.65" font-size="6.95">CanESM2</text>
<circle cx="520.9" cy="138.7" r="2.47" fill="none" stroke="#000" stroke-width="1.3"/>
<text x="532" y="141.3" font-size="6.95">CNRM-CM5</text>
<polygon points="520.9,146.0 523.2,149.4 520.9,152.8 518.6,149.4" fill="none" stroke="#000" stroke-width="1.3"/>
<text x="532" y="151.95000000000002" font-size="6.95">CSIRO-Mk3-6-0</text>
<polygon points="520.9,163.0 517.9,157.8 523.9,157.8" fill="none" stroke="#000" stroke-width="1.3" stroke-linejoin="miter"/>
<text x="532" y="162.6" font-size="6.95">IPSL-CM5A-LR</text>
<path d="M518.1,170.7h5.6M520.9,167.8v5.6" stroke="#000" stroke-width="1.5"/>
<text x="532" y="173.25" font-size="6.95">IPSL-CM5A-MR</text>
<polygon points="517.9,181.3 523.1,178.3 523.1,184.3" fill="none" stroke="#000" stroke-width="1.3" stroke-linejoin="miter"/>
<text x="532" y="183.9" font-size="6.95">HadGEM2-ES</text>
<rect x="518.9" y="190.0" width="4.0" height="4.0" fill="none" stroke="#000" stroke-width="1.3"/>
<text x="532" y="194.54999999999998" font-size="6.95">GISS-E2-H</text>
<polygon points="520.9,199.6 517.9,204.8 523.9,204.8" fill="none" stroke="#000" stroke-width="1.3" stroke-linejoin="miter"/>
<text x="532" y="205.20000000000002" font-size="6.95">GISS-E2-R</text>
<path d="M518.9,211.2l4,4M518.9,215.2l4,-4" stroke="#000" stroke-width="1.6"/>
<text x="532" y="215.85" font-size="6.95">NorESM1-M</text>
<circle cx="520.9" cy="223.9" r="2.47" fill="none" stroke="#2b78c2" stroke-width="1.0"/>
<text x="532" y="226.5" font-size="6.95">HadSST3</text>
<circle cx="520.9" cy="234.6" r="2.47" fill="none" stroke="#e3161c" stroke-width="1.3"/>
<text x="532" y="237.15" font-size="6.95">ERSSTv5</text>
</svg></body></html>
